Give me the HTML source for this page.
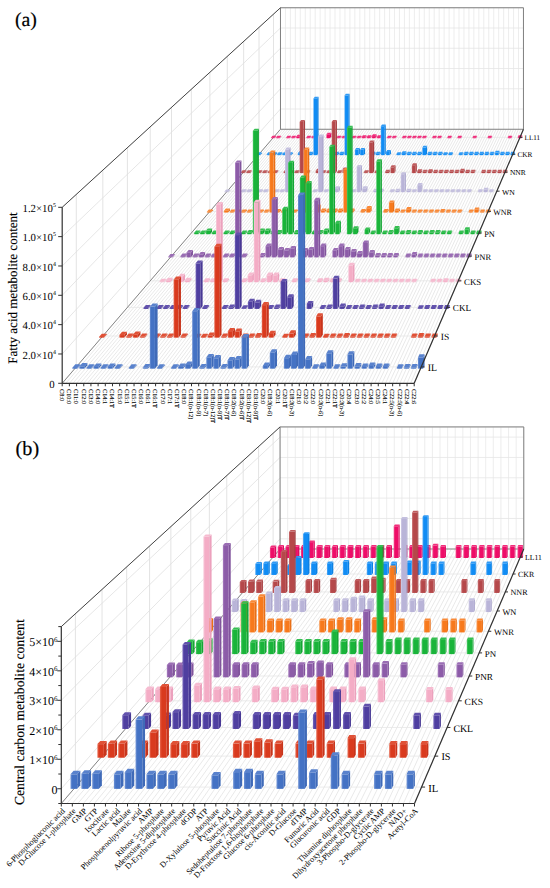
<!DOCTYPE html>
<html><head><meta charset="utf-8"><style>
html,body{margin:0;padding:0;background:#fff;}
svg{display:block;}
text{font-family:"Liberation Serif",serif;fill:#000;text-rendering:geometricPrecision;}
</style></head><body>
<svg width="550" height="888" viewBox="0 0 550 888">
<rect width="550" height="888" fill="#fff"/>
<line x1="280.48" y1="129.25" x2="280.48" y2="7.76" stroke="#e9e9e9" stroke-width="0.80"/>
<line x1="285.44" y1="129.25" x2="285.44" y2="7.76" stroke="#e9e9e9" stroke-width="0.80"/>
<line x1="290.39" y1="129.25" x2="290.39" y2="7.76" stroke="#e9e9e9" stroke-width="0.80"/>
<line x1="295.35" y1="129.25" x2="295.35" y2="7.76" stroke="#e9e9e9" stroke-width="0.80"/>
<line x1="300.31" y1="129.25" x2="300.31" y2="7.76" stroke="#e9e9e9" stroke-width="0.80"/>
<line x1="305.27" y1="129.25" x2="305.27" y2="7.76" stroke="#e9e9e9" stroke-width="0.80"/>
<line x1="310.23" y1="129.25" x2="310.23" y2="7.76" stroke="#e9e9e9" stroke-width="0.80"/>
<line x1="315.19" y1="129.25" x2="315.19" y2="7.76" stroke="#e9e9e9" stroke-width="0.80"/>
<line x1="320.15" y1="129.25" x2="320.15" y2="7.76" stroke="#e9e9e9" stroke-width="0.80"/>
<line x1="325.11" y1="129.25" x2="325.11" y2="7.76" stroke="#e9e9e9" stroke-width="0.80"/>
<line x1="330.07" y1="129.25" x2="330.07" y2="7.76" stroke="#e9e9e9" stroke-width="0.80"/>
<line x1="335.02" y1="129.25" x2="335.02" y2="7.76" stroke="#e9e9e9" stroke-width="0.80"/>
<line x1="339.98" y1="129.25" x2="339.98" y2="7.76" stroke="#e9e9e9" stroke-width="0.80"/>
<line x1="344.94" y1="129.25" x2="344.94" y2="7.76" stroke="#e9e9e9" stroke-width="0.80"/>
<line x1="349.90" y1="129.25" x2="349.90" y2="7.76" stroke="#e9e9e9" stroke-width="0.80"/>
<line x1="354.86" y1="129.25" x2="354.86" y2="7.76" stroke="#e9e9e9" stroke-width="0.80"/>
<line x1="359.82" y1="129.25" x2="359.82" y2="7.76" stroke="#e9e9e9" stroke-width="0.80"/>
<line x1="364.78" y1="129.25" x2="364.78" y2="7.76" stroke="#e9e9e9" stroke-width="0.80"/>
<line x1="369.74" y1="129.25" x2="369.74" y2="7.76" stroke="#e9e9e9" stroke-width="0.80"/>
<line x1="374.70" y1="129.25" x2="374.70" y2="7.76" stroke="#e9e9e9" stroke-width="0.80"/>
<line x1="379.65" y1="129.25" x2="379.65" y2="7.76" stroke="#e9e9e9" stroke-width="0.80"/>
<line x1="384.61" y1="129.25" x2="384.61" y2="7.76" stroke="#e9e9e9" stroke-width="0.80"/>
<line x1="389.57" y1="129.25" x2="389.57" y2="7.76" stroke="#e9e9e9" stroke-width="0.80"/>
<line x1="394.53" y1="129.25" x2="394.53" y2="7.76" stroke="#e9e9e9" stroke-width="0.80"/>
<line x1="399.49" y1="129.25" x2="399.49" y2="7.76" stroke="#e9e9e9" stroke-width="0.80"/>
<line x1="404.45" y1="129.25" x2="404.45" y2="7.76" stroke="#e9e9e9" stroke-width="0.80"/>
<line x1="409.41" y1="129.25" x2="409.41" y2="7.76" stroke="#e9e9e9" stroke-width="0.80"/>
<line x1="414.37" y1="129.25" x2="414.37" y2="7.76" stroke="#e9e9e9" stroke-width="0.80"/>
<line x1="419.33" y1="129.25" x2="419.33" y2="7.76" stroke="#e9e9e9" stroke-width="0.80"/>
<line x1="424.28" y1="129.25" x2="424.28" y2="7.76" stroke="#e9e9e9" stroke-width="0.80"/>
<line x1="429.24" y1="129.25" x2="429.24" y2="7.76" stroke="#e9e9e9" stroke-width="0.80"/>
<line x1="434.20" y1="129.25" x2="434.20" y2="7.76" stroke="#e9e9e9" stroke-width="0.80"/>
<line x1="439.16" y1="129.25" x2="439.16" y2="7.76" stroke="#e9e9e9" stroke-width="0.80"/>
<line x1="444.12" y1="129.25" x2="444.12" y2="7.76" stroke="#e9e9e9" stroke-width="0.80"/>
<line x1="449.08" y1="129.25" x2="449.08" y2="7.76" stroke="#e9e9e9" stroke-width="0.80"/>
<line x1="454.04" y1="129.25" x2="454.04" y2="7.76" stroke="#e9e9e9" stroke-width="0.80"/>
<line x1="459.00" y1="129.25" x2="459.00" y2="7.76" stroke="#e9e9e9" stroke-width="0.80"/>
<line x1="463.96" y1="129.25" x2="463.96" y2="7.76" stroke="#e9e9e9" stroke-width="0.80"/>
<line x1="468.91" y1="129.25" x2="468.91" y2="7.76" stroke="#e9e9e9" stroke-width="0.80"/>
<line x1="473.87" y1="129.25" x2="473.87" y2="7.76" stroke="#e9e9e9" stroke-width="0.80"/>
<line x1="478.83" y1="129.25" x2="478.83" y2="7.76" stroke="#e9e9e9" stroke-width="0.80"/>
<line x1="483.79" y1="129.25" x2="483.79" y2="7.76" stroke="#e9e9e9" stroke-width="0.80"/>
<line x1="488.75" y1="129.25" x2="488.75" y2="7.76" stroke="#e9e9e9" stroke-width="0.80"/>
<line x1="493.71" y1="129.25" x2="493.71" y2="7.76" stroke="#e9e9e9" stroke-width="0.80"/>
<line x1="498.67" y1="129.25" x2="498.67" y2="7.76" stroke="#e9e9e9" stroke-width="0.80"/>
<line x1="503.63" y1="129.25" x2="503.63" y2="7.76" stroke="#e9e9e9" stroke-width="0.80"/>
<line x1="508.59" y1="129.25" x2="508.59" y2="7.76" stroke="#e9e9e9" stroke-width="0.80"/>
<line x1="513.54" y1="129.25" x2="513.54" y2="7.76" stroke="#e9e9e9" stroke-width="0.80"/>
<line x1="518.50" y1="129.25" x2="518.50" y2="7.76" stroke="#e9e9e9" stroke-width="0.80"/>
<line x1="523.46" y1="129.25" x2="523.46" y2="7.76" stroke="#e9e9e9" stroke-width="0.80"/>
<line x1="280.48" y1="109.00" x2="523.46" y2="109.00" stroke="#e6e6e6" stroke-width="0.80"/>
<line x1="280.48" y1="88.76" x2="523.46" y2="88.76" stroke="#e6e6e6" stroke-width="0.80"/>
<line x1="280.48" y1="68.51" x2="523.46" y2="68.51" stroke="#e6e6e6" stroke-width="0.80"/>
<line x1="280.48" y1="48.26" x2="523.46" y2="48.26" stroke="#e6e6e6" stroke-width="0.80"/>
<line x1="280.48" y1="28.01" x2="523.46" y2="28.01" stroke="#e6e6e6" stroke-width="0.80"/>
<line x1="280.48" y1="7.76" x2="523.46" y2="7.76" stroke="#e6e6e6" stroke-width="0.80"/>
<line x1="76.29" y1="366.91" x2="76.29" y2="194.42" stroke="#dcdcdc" stroke-width="0.80"/>
<line x1="102.83" y1="336.01" x2="102.83" y2="170.15" stroke="#dcdcdc" stroke-width="0.80"/>
<line x1="127.42" y1="307.40" x2="127.42" y2="147.68" stroke="#dcdcdc" stroke-width="0.80"/>
<line x1="150.24" y1="280.83" x2="150.24" y2="126.81" stroke="#dcdcdc" stroke-width="0.80"/>
<line x1="171.50" y1="256.09" x2="171.50" y2="107.39" stroke="#dcdcdc" stroke-width="0.80"/>
<line x1="191.33" y1="233.00" x2="191.33" y2="89.25" stroke="#dcdcdc" stroke-width="0.80"/>
<line x1="209.89" y1="211.40" x2="209.89" y2="72.28" stroke="#dcdcdc" stroke-width="0.80"/>
<line x1="227.29" y1="191.15" x2="227.29" y2="56.38" stroke="#dcdcdc" stroke-width="0.80"/>
<line x1="243.64" y1="172.13" x2="243.64" y2="41.44" stroke="#dcdcdc" stroke-width="0.80"/>
<line x1="259.02" y1="154.22" x2="259.02" y2="27.37" stroke="#dcdcdc" stroke-width="0.80"/>
<line x1="273.53" y1="137.34" x2="273.53" y2="14.11" stroke="#dcdcdc" stroke-width="0.80"/>
<line x1="62.20" y1="353.97" x2="280.48" y2="109.00" stroke="#dfdfdf" stroke-width="0.80"/>
<line x1="62.20" y1="324.63" x2="280.48" y2="88.76" stroke="#dfdfdf" stroke-width="0.80"/>
<line x1="62.20" y1="295.30" x2="280.48" y2="68.51" stroke="#dfdfdf" stroke-width="0.80"/>
<line x1="62.20" y1="265.97" x2="280.48" y2="48.26" stroke="#dfdfdf" stroke-width="0.80"/>
<line x1="62.20" y1="236.63" x2="280.48" y2="28.01" stroke="#dfdfdf" stroke-width="0.80"/>
<line x1="62.20" y1="207.30" x2="280.48" y2="7.76" stroke="#dfdfdf" stroke-width="0.80"/>
<line x1="62.20" y1="383.30" x2="280.48" y2="129.25" stroke="#e3e3e3" stroke-width="0.80"/>
<line x1="65.79" y1="383.30" x2="282.96" y2="129.25" stroke="#e3e3e3" stroke-width="0.80"/>
<line x1="69.38" y1="383.30" x2="285.44" y2="129.25" stroke="#e3e3e3" stroke-width="0.80"/>
<line x1="72.98" y1="383.30" x2="287.91" y2="129.25" stroke="#e3e3e3" stroke-width="0.80"/>
<line x1="76.57" y1="383.30" x2="290.39" y2="129.25" stroke="#e3e3e3" stroke-width="0.80"/>
<line x1="80.16" y1="383.30" x2="292.87" y2="129.25" stroke="#e3e3e3" stroke-width="0.80"/>
<line x1="83.75" y1="383.30" x2="295.35" y2="129.25" stroke="#e3e3e3" stroke-width="0.80"/>
<line x1="87.34" y1="383.30" x2="297.83" y2="129.25" stroke="#e3e3e3" stroke-width="0.80"/>
<line x1="90.93" y1="383.30" x2="300.31" y2="129.25" stroke="#e3e3e3" stroke-width="0.80"/>
<line x1="94.53" y1="383.30" x2="302.79" y2="129.25" stroke="#e3e3e3" stroke-width="0.80"/>
<line x1="98.12" y1="383.30" x2="305.27" y2="129.25" stroke="#e3e3e3" stroke-width="0.80"/>
<line x1="101.71" y1="383.30" x2="307.75" y2="129.25" stroke="#e3e3e3" stroke-width="0.80"/>
<line x1="105.30" y1="383.30" x2="310.23" y2="129.25" stroke="#e3e3e3" stroke-width="0.80"/>
<line x1="108.89" y1="383.30" x2="312.71" y2="129.25" stroke="#e3e3e3" stroke-width="0.80"/>
<line x1="112.49" y1="383.30" x2="315.19" y2="129.25" stroke="#e3e3e3" stroke-width="0.80"/>
<line x1="116.08" y1="383.30" x2="317.67" y2="129.25" stroke="#e3e3e3" stroke-width="0.80"/>
<line x1="119.67" y1="383.30" x2="320.15" y2="129.25" stroke="#e3e3e3" stroke-width="0.80"/>
<line x1="123.26" y1="383.30" x2="322.63" y2="129.25" stroke="#e3e3e3" stroke-width="0.80"/>
<line x1="126.85" y1="383.30" x2="325.11" y2="129.25" stroke="#e3e3e3" stroke-width="0.80"/>
<line x1="130.44" y1="383.30" x2="327.59" y2="129.25" stroke="#e3e3e3" stroke-width="0.80"/>
<line x1="134.04" y1="383.30" x2="330.07" y2="129.25" stroke="#e3e3e3" stroke-width="0.80"/>
<line x1="137.63" y1="383.30" x2="332.54" y2="129.25" stroke="#e3e3e3" stroke-width="0.80"/>
<line x1="141.22" y1="383.30" x2="335.02" y2="129.25" stroke="#e3e3e3" stroke-width="0.80"/>
<line x1="144.81" y1="383.30" x2="337.50" y2="129.25" stroke="#e3e3e3" stroke-width="0.80"/>
<line x1="148.40" y1="383.30" x2="339.98" y2="129.25" stroke="#e3e3e3" stroke-width="0.80"/>
<line x1="152.00" y1="383.30" x2="342.46" y2="129.25" stroke="#e3e3e3" stroke-width="0.80"/>
<line x1="155.59" y1="383.30" x2="344.94" y2="129.25" stroke="#e3e3e3" stroke-width="0.80"/>
<line x1="159.18" y1="383.30" x2="347.42" y2="129.25" stroke="#e3e3e3" stroke-width="0.80"/>
<line x1="162.77" y1="383.30" x2="349.90" y2="129.25" stroke="#e3e3e3" stroke-width="0.80"/>
<line x1="166.36" y1="383.30" x2="352.38" y2="129.25" stroke="#e3e3e3" stroke-width="0.80"/>
<line x1="169.96" y1="383.30" x2="354.86" y2="129.25" stroke="#e3e3e3" stroke-width="0.80"/>
<line x1="173.55" y1="383.30" x2="357.34" y2="129.25" stroke="#e3e3e3" stroke-width="0.80"/>
<line x1="177.14" y1="383.30" x2="359.82" y2="129.25" stroke="#e3e3e3" stroke-width="0.80"/>
<line x1="180.73" y1="383.30" x2="362.30" y2="129.25" stroke="#e3e3e3" stroke-width="0.80"/>
<line x1="184.32" y1="383.30" x2="364.78" y2="129.25" stroke="#e3e3e3" stroke-width="0.80"/>
<line x1="187.91" y1="383.30" x2="367.26" y2="129.25" stroke="#e3e3e3" stroke-width="0.80"/>
<line x1="191.51" y1="383.30" x2="369.74" y2="129.25" stroke="#e3e3e3" stroke-width="0.80"/>
<line x1="195.10" y1="383.30" x2="372.22" y2="129.25" stroke="#e3e3e3" stroke-width="0.80"/>
<line x1="198.69" y1="383.30" x2="374.70" y2="129.25" stroke="#e3e3e3" stroke-width="0.80"/>
<line x1="202.28" y1="383.30" x2="377.17" y2="129.25" stroke="#e3e3e3" stroke-width="0.80"/>
<line x1="205.87" y1="383.30" x2="379.65" y2="129.25" stroke="#e3e3e3" stroke-width="0.80"/>
<line x1="209.47" y1="383.30" x2="382.13" y2="129.25" stroke="#e3e3e3" stroke-width="0.80"/>
<line x1="213.06" y1="383.30" x2="384.61" y2="129.25" stroke="#e3e3e3" stroke-width="0.80"/>
<line x1="216.65" y1="383.30" x2="387.09" y2="129.25" stroke="#e3e3e3" stroke-width="0.80"/>
<line x1="220.24" y1="383.30" x2="389.57" y2="129.25" stroke="#e3e3e3" stroke-width="0.80"/>
<line x1="223.83" y1="383.30" x2="392.05" y2="129.25" stroke="#e3e3e3" stroke-width="0.80"/>
<line x1="227.42" y1="383.30" x2="394.53" y2="129.25" stroke="#e3e3e3" stroke-width="0.80"/>
<line x1="231.02" y1="383.30" x2="397.01" y2="129.25" stroke="#e3e3e3" stroke-width="0.80"/>
<line x1="234.61" y1="383.30" x2="399.49" y2="129.25" stroke="#e3e3e3" stroke-width="0.80"/>
<line x1="238.20" y1="383.30" x2="401.97" y2="129.25" stroke="#e3e3e3" stroke-width="0.80"/>
<line x1="241.79" y1="383.30" x2="404.45" y2="129.25" stroke="#e3e3e3" stroke-width="0.80"/>
<line x1="245.38" y1="383.30" x2="406.93" y2="129.25" stroke="#e3e3e3" stroke-width="0.80"/>
<line x1="248.98" y1="383.30" x2="409.41" y2="129.25" stroke="#e3e3e3" stroke-width="0.80"/>
<line x1="252.57" y1="383.30" x2="411.89" y2="129.25" stroke="#e3e3e3" stroke-width="0.80"/>
<line x1="256.16" y1="383.30" x2="414.37" y2="129.25" stroke="#e3e3e3" stroke-width="0.80"/>
<line x1="259.75" y1="383.30" x2="416.85" y2="129.25" stroke="#e3e3e3" stroke-width="0.80"/>
<line x1="263.34" y1="383.30" x2="419.33" y2="129.25" stroke="#e3e3e3" stroke-width="0.80"/>
<line x1="266.93" y1="383.30" x2="421.80" y2="129.25" stroke="#e3e3e3" stroke-width="0.80"/>
<line x1="270.53" y1="383.30" x2="424.28" y2="129.25" stroke="#e3e3e3" stroke-width="0.80"/>
<line x1="274.12" y1="383.30" x2="426.76" y2="129.25" stroke="#e3e3e3" stroke-width="0.80"/>
<line x1="277.71" y1="383.30" x2="429.24" y2="129.25" stroke="#e3e3e3" stroke-width="0.80"/>
<line x1="281.30" y1="383.30" x2="431.72" y2="129.25" stroke="#e3e3e3" stroke-width="0.80"/>
<line x1="284.89" y1="383.30" x2="434.20" y2="129.25" stroke="#e3e3e3" stroke-width="0.80"/>
<line x1="288.49" y1="383.30" x2="436.68" y2="129.25" stroke="#e3e3e3" stroke-width="0.80"/>
<line x1="292.08" y1="383.30" x2="439.16" y2="129.25" stroke="#e3e3e3" stroke-width="0.80"/>
<line x1="295.67" y1="383.30" x2="441.64" y2="129.25" stroke="#e3e3e3" stroke-width="0.80"/>
<line x1="299.26" y1="383.30" x2="444.12" y2="129.25" stroke="#e3e3e3" stroke-width="0.80"/>
<line x1="302.85" y1="383.30" x2="446.60" y2="129.25" stroke="#e3e3e3" stroke-width="0.80"/>
<line x1="306.44" y1="383.30" x2="449.08" y2="129.25" stroke="#e3e3e3" stroke-width="0.80"/>
<line x1="310.04" y1="383.30" x2="451.56" y2="129.25" stroke="#e3e3e3" stroke-width="0.80"/>
<line x1="313.63" y1="383.30" x2="454.04" y2="129.25" stroke="#e3e3e3" stroke-width="0.80"/>
<line x1="317.22" y1="383.30" x2="456.52" y2="129.25" stroke="#e3e3e3" stroke-width="0.80"/>
<line x1="320.81" y1="383.30" x2="459.00" y2="129.25" stroke="#e3e3e3" stroke-width="0.80"/>
<line x1="324.40" y1="383.30" x2="461.48" y2="129.25" stroke="#e3e3e3" stroke-width="0.80"/>
<line x1="328.00" y1="383.30" x2="463.96" y2="129.25" stroke="#e3e3e3" stroke-width="0.80"/>
<line x1="331.59" y1="383.30" x2="466.43" y2="129.25" stroke="#e3e3e3" stroke-width="0.80"/>
<line x1="335.18" y1="383.30" x2="468.91" y2="129.25" stroke="#e3e3e3" stroke-width="0.80"/>
<line x1="338.77" y1="383.30" x2="471.39" y2="129.25" stroke="#e3e3e3" stroke-width="0.80"/>
<line x1="342.36" y1="383.30" x2="473.87" y2="129.25" stroke="#e3e3e3" stroke-width="0.80"/>
<line x1="345.96" y1="383.30" x2="476.35" y2="129.25" stroke="#e3e3e3" stroke-width="0.80"/>
<line x1="349.55" y1="383.30" x2="478.83" y2="129.25" stroke="#e3e3e3" stroke-width="0.80"/>
<line x1="353.14" y1="383.30" x2="481.31" y2="129.25" stroke="#e3e3e3" stroke-width="0.80"/>
<line x1="356.73" y1="383.30" x2="483.79" y2="129.25" stroke="#e3e3e3" stroke-width="0.80"/>
<line x1="360.32" y1="383.30" x2="486.27" y2="129.25" stroke="#e3e3e3" stroke-width="0.80"/>
<line x1="363.91" y1="383.30" x2="488.75" y2="129.25" stroke="#e3e3e3" stroke-width="0.80"/>
<line x1="367.51" y1="383.30" x2="491.23" y2="129.25" stroke="#e3e3e3" stroke-width="0.80"/>
<line x1="371.10" y1="383.30" x2="493.71" y2="129.25" stroke="#e3e3e3" stroke-width="0.80"/>
<line x1="374.69" y1="383.30" x2="496.19" y2="129.25" stroke="#e3e3e3" stroke-width="0.80"/>
<line x1="378.28" y1="383.30" x2="498.67" y2="129.25" stroke="#e3e3e3" stroke-width="0.80"/>
<line x1="381.87" y1="383.30" x2="501.15" y2="129.25" stroke="#e3e3e3" stroke-width="0.80"/>
<line x1="385.47" y1="383.30" x2="503.63" y2="129.25" stroke="#e3e3e3" stroke-width="0.80"/>
<line x1="389.06" y1="383.30" x2="506.11" y2="129.25" stroke="#e3e3e3" stroke-width="0.80"/>
<line x1="392.65" y1="383.30" x2="508.59" y2="129.25" stroke="#e3e3e3" stroke-width="0.80"/>
<line x1="396.24" y1="383.30" x2="511.06" y2="129.25" stroke="#e3e3e3" stroke-width="0.80"/>
<line x1="399.83" y1="383.30" x2="513.54" y2="129.25" stroke="#e3e3e3" stroke-width="0.80"/>
<line x1="403.42" y1="383.30" x2="516.02" y2="129.25" stroke="#e3e3e3" stroke-width="0.80"/>
<line x1="407.02" y1="383.30" x2="518.50" y2="129.25" stroke="#e3e3e3" stroke-width="0.80"/>
<line x1="410.61" y1="383.30" x2="520.98" y2="129.25" stroke="#e3e3e3" stroke-width="0.80"/>
<line x1="414.20" y1="383.30" x2="523.46" y2="129.25" stroke="#e3e3e3" stroke-width="0.80"/>
<line x1="76.29" y1="366.91" x2="421.25" y2="366.91" stroke="#e6e6e6" stroke-width="0.80"/>
<line x1="102.83" y1="336.01" x2="434.54" y2="336.01" stroke="#e6e6e6" stroke-width="0.80"/>
<line x1="127.42" y1="307.40" x2="446.84" y2="307.40" stroke="#e6e6e6" stroke-width="0.80"/>
<line x1="150.24" y1="280.83" x2="458.27" y2="280.83" stroke="#e6e6e6" stroke-width="0.80"/>
<line x1="171.50" y1="256.09" x2="468.91" y2="256.09" stroke="#e6e6e6" stroke-width="0.80"/>
<line x1="191.33" y1="233.00" x2="478.84" y2="233.00" stroke="#e6e6e6" stroke-width="0.80"/>
<line x1="209.89" y1="211.40" x2="488.13" y2="211.40" stroke="#e6e6e6" stroke-width="0.80"/>
<line x1="227.29" y1="191.15" x2="496.84" y2="191.15" stroke="#e6e6e6" stroke-width="0.80"/>
<line x1="243.64" y1="172.13" x2="505.02" y2="172.13" stroke="#e6e6e6" stroke-width="0.80"/>
<line x1="259.02" y1="154.22" x2="512.72" y2="154.22" stroke="#e6e6e6" stroke-width="0.80"/>
<line x1="273.53" y1="137.34" x2="519.98" y2="137.34" stroke="#e6e6e6" stroke-width="0.80"/>
<line x1="280.48" y1="7.76" x2="523.46" y2="7.76" stroke="#808080" stroke-width="1.00"/>
<line x1="523.46" y1="7.76" x2="523.46" y2="129.25" stroke="#808080" stroke-width="1.00"/>
<line x1="280.48" y1="129.25" x2="523.46" y2="129.25" stroke="#808080" stroke-width="1.00"/>
<line x1="280.48" y1="129.25" x2="280.48" y2="7.76" stroke="#808080" stroke-width="1.00"/>
<line x1="62.20" y1="207.30" x2="280.48" y2="7.76" stroke="#454545" stroke-width="1.00"/>
<line x1="62.20" y1="383.30" x2="280.48" y2="129.25" stroke="#7a7a7a" stroke-width="0.90"/>
<line x1="280.07" y1="548.99" x2="280.07" y2="426.93" stroke="#e9e9e9" stroke-width="0.80"/>
<line x1="287.68" y1="548.99" x2="287.68" y2="426.93" stroke="#e9e9e9" stroke-width="0.80"/>
<line x1="295.30" y1="548.99" x2="295.30" y2="426.93" stroke="#e9e9e9" stroke-width="0.80"/>
<line x1="302.91" y1="548.99" x2="302.91" y2="426.93" stroke="#e9e9e9" stroke-width="0.80"/>
<line x1="310.53" y1="548.99" x2="310.53" y2="426.93" stroke="#e9e9e9" stroke-width="0.80"/>
<line x1="318.15" y1="548.99" x2="318.15" y2="426.93" stroke="#e9e9e9" stroke-width="0.80"/>
<line x1="325.76" y1="548.99" x2="325.76" y2="426.93" stroke="#e9e9e9" stroke-width="0.80"/>
<line x1="333.38" y1="548.99" x2="333.38" y2="426.93" stroke="#e9e9e9" stroke-width="0.80"/>
<line x1="340.99" y1="548.99" x2="340.99" y2="426.93" stroke="#e9e9e9" stroke-width="0.80"/>
<line x1="348.61" y1="548.99" x2="348.61" y2="426.93" stroke="#e9e9e9" stroke-width="0.80"/>
<line x1="356.23" y1="548.99" x2="356.23" y2="426.93" stroke="#e9e9e9" stroke-width="0.80"/>
<line x1="363.84" y1="548.99" x2="363.84" y2="426.93" stroke="#e9e9e9" stroke-width="0.80"/>
<line x1="371.46" y1="548.99" x2="371.46" y2="426.93" stroke="#e9e9e9" stroke-width="0.80"/>
<line x1="379.07" y1="548.99" x2="379.07" y2="426.93" stroke="#e9e9e9" stroke-width="0.80"/>
<line x1="386.69" y1="548.99" x2="386.69" y2="426.93" stroke="#e9e9e9" stroke-width="0.80"/>
<line x1="394.31" y1="548.99" x2="394.31" y2="426.93" stroke="#e9e9e9" stroke-width="0.80"/>
<line x1="401.92" y1="548.99" x2="401.92" y2="426.93" stroke="#e9e9e9" stroke-width="0.80"/>
<line x1="409.54" y1="548.99" x2="409.54" y2="426.93" stroke="#e9e9e9" stroke-width="0.80"/>
<line x1="417.15" y1="548.99" x2="417.15" y2="426.93" stroke="#e9e9e9" stroke-width="0.80"/>
<line x1="424.77" y1="548.99" x2="424.77" y2="426.93" stroke="#e9e9e9" stroke-width="0.80"/>
<line x1="432.38" y1="548.99" x2="432.38" y2="426.93" stroke="#e9e9e9" stroke-width="0.80"/>
<line x1="440.00" y1="548.99" x2="440.00" y2="426.93" stroke="#e9e9e9" stroke-width="0.80"/>
<line x1="447.62" y1="548.99" x2="447.62" y2="426.93" stroke="#e9e9e9" stroke-width="0.80"/>
<line x1="455.23" y1="548.99" x2="455.23" y2="426.93" stroke="#e9e9e9" stroke-width="0.80"/>
<line x1="462.85" y1="548.99" x2="462.85" y2="426.93" stroke="#e9e9e9" stroke-width="0.80"/>
<line x1="470.46" y1="548.99" x2="470.46" y2="426.93" stroke="#e9e9e9" stroke-width="0.80"/>
<line x1="478.08" y1="548.99" x2="478.08" y2="426.93" stroke="#e9e9e9" stroke-width="0.80"/>
<line x1="485.70" y1="548.99" x2="485.70" y2="426.93" stroke="#e9e9e9" stroke-width="0.80"/>
<line x1="493.31" y1="548.99" x2="493.31" y2="426.93" stroke="#e9e9e9" stroke-width="0.80"/>
<line x1="500.93" y1="548.99" x2="500.93" y2="426.93" stroke="#e9e9e9" stroke-width="0.80"/>
<line x1="508.54" y1="548.99" x2="508.54" y2="426.93" stroke="#e9e9e9" stroke-width="0.80"/>
<line x1="516.16" y1="548.99" x2="516.16" y2="426.93" stroke="#e9e9e9" stroke-width="0.80"/>
<line x1="523.77" y1="548.99" x2="523.77" y2="426.93" stroke="#e9e9e9" stroke-width="0.80"/>
<line x1="280.07" y1="538.82" x2="523.77" y2="538.82" stroke="#e6e6e6" stroke-width="0.80"/>
<line x1="280.07" y1="518.47" x2="523.77" y2="518.47" stroke="#e6e6e6" stroke-width="0.80"/>
<line x1="280.07" y1="498.13" x2="523.77" y2="498.13" stroke="#e6e6e6" stroke-width="0.80"/>
<line x1="280.07" y1="477.79" x2="523.77" y2="477.79" stroke="#e6e6e6" stroke-width="0.80"/>
<line x1="280.07" y1="457.44" x2="523.77" y2="457.44" stroke="#e6e6e6" stroke-width="0.80"/>
<line x1="280.07" y1="437.10" x2="523.77" y2="437.10" stroke="#e6e6e6" stroke-width="0.80"/>
<line x1="280.07" y1="426.93" x2="523.77" y2="426.93" stroke="#e6e6e6" stroke-width="0.80"/>
<line x1="75.42" y1="787.07" x2="75.42" y2="613.71" stroke="#dcdcdc" stroke-width="0.80"/>
<line x1="102.04" y1="756.11" x2="102.04" y2="589.42" stroke="#dcdcdc" stroke-width="0.80"/>
<line x1="126.68" y1="727.44" x2="126.68" y2="566.93" stroke="#dcdcdc" stroke-width="0.80"/>
<line x1="149.56" y1="700.82" x2="149.56" y2="546.04" stroke="#dcdcdc" stroke-width="0.80"/>
<line x1="170.87" y1="676.03" x2="170.87" y2="526.60" stroke="#dcdcdc" stroke-width="0.80"/>
<line x1="190.75" y1="652.90" x2="190.75" y2="508.45" stroke="#dcdcdc" stroke-width="0.80"/>
<line x1="209.35" y1="631.27" x2="209.35" y2="491.48" stroke="#dcdcdc" stroke-width="0.80"/>
<line x1="226.78" y1="610.98" x2="226.78" y2="475.56" stroke="#dcdcdc" stroke-width="0.80"/>
<line x1="243.16" y1="591.93" x2="243.16" y2="460.61" stroke="#dcdcdc" stroke-width="0.80"/>
<line x1="258.57" y1="573.99" x2="258.57" y2="446.55" stroke="#dcdcdc" stroke-width="0.80"/>
<line x1="273.11" y1="557.09" x2="273.11" y2="433.28" stroke="#dcdcdc" stroke-width="0.80"/>
<line x1="61.30" y1="788.76" x2="280.07" y2="538.82" stroke="#dfdfdf" stroke-width="0.80"/>
<line x1="61.30" y1="759.27" x2="280.07" y2="518.47" stroke="#dfdfdf" stroke-width="0.80"/>
<line x1="61.30" y1="729.79" x2="280.07" y2="498.13" stroke="#dfdfdf" stroke-width="0.80"/>
<line x1="61.30" y1="700.31" x2="280.07" y2="477.79" stroke="#dfdfdf" stroke-width="0.80"/>
<line x1="61.30" y1="670.83" x2="280.07" y2="457.44" stroke="#dfdfdf" stroke-width="0.80"/>
<line x1="61.30" y1="641.34" x2="280.07" y2="437.10" stroke="#dfdfdf" stroke-width="0.80"/>
<line x1="61.30" y1="626.60" x2="280.07" y2="426.93" stroke="#dfdfdf" stroke-width="0.80"/>
<line x1="61.30" y1="803.50" x2="280.07" y2="548.99" stroke="#e3e3e3" stroke-width="0.80"/>
<line x1="66.82" y1="803.50" x2="283.87" y2="548.99" stroke="#e3e3e3" stroke-width="0.80"/>
<line x1="72.34" y1="803.50" x2="287.68" y2="548.99" stroke="#e3e3e3" stroke-width="0.80"/>
<line x1="77.86" y1="803.50" x2="291.49" y2="548.99" stroke="#e3e3e3" stroke-width="0.80"/>
<line x1="83.38" y1="803.50" x2="295.30" y2="548.99" stroke="#e3e3e3" stroke-width="0.80"/>
<line x1="88.89" y1="803.50" x2="299.11" y2="548.99" stroke="#e3e3e3" stroke-width="0.80"/>
<line x1="94.41" y1="803.50" x2="302.91" y2="548.99" stroke="#e3e3e3" stroke-width="0.80"/>
<line x1="99.93" y1="803.50" x2="306.72" y2="548.99" stroke="#e3e3e3" stroke-width="0.80"/>
<line x1="105.45" y1="803.50" x2="310.53" y2="548.99" stroke="#e3e3e3" stroke-width="0.80"/>
<line x1="110.97" y1="803.50" x2="314.34" y2="548.99" stroke="#e3e3e3" stroke-width="0.80"/>
<line x1="116.49" y1="803.50" x2="318.15" y2="548.99" stroke="#e3e3e3" stroke-width="0.80"/>
<line x1="122.01" y1="803.50" x2="321.95" y2="548.99" stroke="#e3e3e3" stroke-width="0.80"/>
<line x1="127.52" y1="803.50" x2="325.76" y2="548.99" stroke="#e3e3e3" stroke-width="0.80"/>
<line x1="133.04" y1="803.50" x2="329.57" y2="548.99" stroke="#e3e3e3" stroke-width="0.80"/>
<line x1="138.56" y1="803.50" x2="333.38" y2="548.99" stroke="#e3e3e3" stroke-width="0.80"/>
<line x1="144.08" y1="803.50" x2="337.19" y2="548.99" stroke="#e3e3e3" stroke-width="0.80"/>
<line x1="149.60" y1="803.50" x2="340.99" y2="548.99" stroke="#e3e3e3" stroke-width="0.80"/>
<line x1="155.12" y1="803.50" x2="344.80" y2="548.99" stroke="#e3e3e3" stroke-width="0.80"/>
<line x1="160.64" y1="803.50" x2="348.61" y2="548.99" stroke="#e3e3e3" stroke-width="0.80"/>
<line x1="166.16" y1="803.50" x2="352.42" y2="548.99" stroke="#e3e3e3" stroke-width="0.80"/>
<line x1="171.67" y1="803.50" x2="356.23" y2="548.99" stroke="#e3e3e3" stroke-width="0.80"/>
<line x1="177.19" y1="803.50" x2="360.03" y2="548.99" stroke="#e3e3e3" stroke-width="0.80"/>
<line x1="182.71" y1="803.50" x2="363.84" y2="548.99" stroke="#e3e3e3" stroke-width="0.80"/>
<line x1="188.23" y1="803.50" x2="367.65" y2="548.99" stroke="#e3e3e3" stroke-width="0.80"/>
<line x1="193.75" y1="803.50" x2="371.46" y2="548.99" stroke="#e3e3e3" stroke-width="0.80"/>
<line x1="199.27" y1="803.50" x2="375.27" y2="548.99" stroke="#e3e3e3" stroke-width="0.80"/>
<line x1="204.79" y1="803.50" x2="379.07" y2="548.99" stroke="#e3e3e3" stroke-width="0.80"/>
<line x1="210.31" y1="803.50" x2="382.88" y2="548.99" stroke="#e3e3e3" stroke-width="0.80"/>
<line x1="215.83" y1="803.50" x2="386.69" y2="548.99" stroke="#e3e3e3" stroke-width="0.80"/>
<line x1="221.34" y1="803.50" x2="390.50" y2="548.99" stroke="#e3e3e3" stroke-width="0.80"/>
<line x1="226.86" y1="803.50" x2="394.31" y2="548.99" stroke="#e3e3e3" stroke-width="0.80"/>
<line x1="232.38" y1="803.50" x2="398.11" y2="548.99" stroke="#e3e3e3" stroke-width="0.80"/>
<line x1="237.90" y1="803.50" x2="401.92" y2="548.99" stroke="#e3e3e3" stroke-width="0.80"/>
<line x1="243.42" y1="803.50" x2="405.73" y2="548.99" stroke="#e3e3e3" stroke-width="0.80"/>
<line x1="248.94" y1="803.50" x2="409.54" y2="548.99" stroke="#e3e3e3" stroke-width="0.80"/>
<line x1="254.46" y1="803.50" x2="413.34" y2="548.99" stroke="#e3e3e3" stroke-width="0.80"/>
<line x1="259.97" y1="803.50" x2="417.15" y2="548.99" stroke="#e3e3e3" stroke-width="0.80"/>
<line x1="265.49" y1="803.50" x2="420.96" y2="548.99" stroke="#e3e3e3" stroke-width="0.80"/>
<line x1="271.01" y1="803.50" x2="424.77" y2="548.99" stroke="#e3e3e3" stroke-width="0.80"/>
<line x1="276.53" y1="803.50" x2="428.58" y2="548.99" stroke="#e3e3e3" stroke-width="0.80"/>
<line x1="282.05" y1="803.50" x2="432.38" y2="548.99" stroke="#e3e3e3" stroke-width="0.80"/>
<line x1="287.57" y1="803.50" x2="436.19" y2="548.99" stroke="#e3e3e3" stroke-width="0.80"/>
<line x1="293.09" y1="803.50" x2="440.00" y2="548.99" stroke="#e3e3e3" stroke-width="0.80"/>
<line x1="298.61" y1="803.50" x2="443.81" y2="548.99" stroke="#e3e3e3" stroke-width="0.80"/>
<line x1="304.12" y1="803.50" x2="447.62" y2="548.99" stroke="#e3e3e3" stroke-width="0.80"/>
<line x1="309.64" y1="803.50" x2="451.42" y2="548.99" stroke="#e3e3e3" stroke-width="0.80"/>
<line x1="315.16" y1="803.50" x2="455.23" y2="548.99" stroke="#e3e3e3" stroke-width="0.80"/>
<line x1="320.68" y1="803.50" x2="459.04" y2="548.99" stroke="#e3e3e3" stroke-width="0.80"/>
<line x1="326.20" y1="803.50" x2="462.85" y2="548.99" stroke="#e3e3e3" stroke-width="0.80"/>
<line x1="331.72" y1="803.50" x2="466.66" y2="548.99" stroke="#e3e3e3" stroke-width="0.80"/>
<line x1="337.24" y1="803.50" x2="470.46" y2="548.99" stroke="#e3e3e3" stroke-width="0.80"/>
<line x1="342.76" y1="803.50" x2="474.27" y2="548.99" stroke="#e3e3e3" stroke-width="0.80"/>
<line x1="348.27" y1="803.50" x2="478.08" y2="548.99" stroke="#e3e3e3" stroke-width="0.80"/>
<line x1="353.79" y1="803.50" x2="481.89" y2="548.99" stroke="#e3e3e3" stroke-width="0.80"/>
<line x1="359.31" y1="803.50" x2="485.70" y2="548.99" stroke="#e3e3e3" stroke-width="0.80"/>
<line x1="364.83" y1="803.50" x2="489.50" y2="548.99" stroke="#e3e3e3" stroke-width="0.80"/>
<line x1="370.35" y1="803.50" x2="493.31" y2="548.99" stroke="#e3e3e3" stroke-width="0.80"/>
<line x1="375.87" y1="803.50" x2="497.12" y2="548.99" stroke="#e3e3e3" stroke-width="0.80"/>
<line x1="381.39" y1="803.50" x2="500.93" y2="548.99" stroke="#e3e3e3" stroke-width="0.80"/>
<line x1="386.91" y1="803.50" x2="504.74" y2="548.99" stroke="#e3e3e3" stroke-width="0.80"/>
<line x1="392.43" y1="803.50" x2="508.54" y2="548.99" stroke="#e3e3e3" stroke-width="0.80"/>
<line x1="397.94" y1="803.50" x2="512.35" y2="548.99" stroke="#e3e3e3" stroke-width="0.80"/>
<line x1="403.46" y1="803.50" x2="516.16" y2="548.99" stroke="#e3e3e3" stroke-width="0.80"/>
<line x1="408.98" y1="803.50" x2="519.97" y2="548.99" stroke="#e3e3e3" stroke-width="0.80"/>
<line x1="414.50" y1="803.50" x2="523.77" y2="548.99" stroke="#e3e3e3" stroke-width="0.80"/>
<line x1="75.42" y1="787.07" x2="421.55" y2="787.07" stroke="#e6e6e6" stroke-width="0.80"/>
<line x1="102.04" y1="756.11" x2="434.85" y2="756.11" stroke="#e6e6e6" stroke-width="0.80"/>
<line x1="126.68" y1="727.44" x2="447.16" y2="727.44" stroke="#e6e6e6" stroke-width="0.80"/>
<line x1="149.56" y1="700.82" x2="458.59" y2="700.82" stroke="#e6e6e6" stroke-width="0.80"/>
<line x1="170.87" y1="676.03" x2="469.23" y2="676.03" stroke="#e6e6e6" stroke-width="0.80"/>
<line x1="190.75" y1="652.90" x2="479.16" y2="652.90" stroke="#e6e6e6" stroke-width="0.80"/>
<line x1="209.35" y1="631.27" x2="488.45" y2="631.27" stroke="#e6e6e6" stroke-width="0.80"/>
<line x1="226.78" y1="610.98" x2="497.16" y2="610.98" stroke="#e6e6e6" stroke-width="0.80"/>
<line x1="243.16" y1="591.93" x2="505.34" y2="591.93" stroke="#e6e6e6" stroke-width="0.80"/>
<line x1="258.57" y1="573.99" x2="513.04" y2="573.99" stroke="#e6e6e6" stroke-width="0.80"/>
<line x1="273.11" y1="557.09" x2="520.30" y2="557.09" stroke="#e6e6e6" stroke-width="0.80"/>
<line x1="280.07" y1="426.93" x2="523.77" y2="426.93" stroke="#808080" stroke-width="1.00"/>
<line x1="523.77" y1="426.93" x2="523.77" y2="548.99" stroke="#808080" stroke-width="1.00"/>
<line x1="280.07" y1="548.99" x2="523.77" y2="548.99" stroke="#808080" stroke-width="1.00"/>
<line x1="280.07" y1="548.99" x2="280.07" y2="426.93" stroke="#808080" stroke-width="1.00"/>
<line x1="61.30" y1="626.60" x2="280.07" y2="426.93" stroke="#454545" stroke-width="1.00"/>
<line x1="61.30" y1="803.50" x2="280.07" y2="548.99" stroke="#7a7a7a" stroke-width="0.90"/>
<defs>
<linearGradient id="g0" x1="0" y1="0" x2="1" y2="0"><stop offset="0" stop-color="#6f93d6"/><stop offset="0.3" stop-color="#4472c4"/><stop offset="1" stop-color="#4472c4"/></linearGradient>
<linearGradient id="g1" x1="0" y1="0" x2="1" y2="0"><stop offset="0" stop-color="#e8684f"/><stop offset="0.3" stop-color="#d93a1e"/><stop offset="1" stop-color="#d93a1e"/></linearGradient>
<linearGradient id="g2" x1="0" y1="0" x2="1" y2="0"><stop offset="0" stop-color="#7566bb"/><stop offset="0.3" stop-color="#4f3fa0"/><stop offset="1" stop-color="#4f3fa0"/></linearGradient>
<linearGradient id="g3" x1="0" y1="0" x2="1" y2="0"><stop offset="0" stop-color="#f8c9da"/><stop offset="0.3" stop-color="#f4adc6"/><stop offset="1" stop-color="#f4adc6"/></linearGradient>
<linearGradient id="g4" x1="0" y1="0" x2="1" y2="0"><stop offset="0" stop-color="#a97fc0"/><stop offset="0.3" stop-color="#8c5ca8"/><stop offset="1" stop-color="#8c5ca8"/></linearGradient>
<linearGradient id="g5" x1="0" y1="0" x2="1" y2="0"><stop offset="0" stop-color="#4fcb68"/><stop offset="0.3" stop-color="#19b43a"/><stop offset="1" stop-color="#19b43a"/></linearGradient>
<linearGradient id="g6" x1="0" y1="0" x2="1" y2="0"><stop offset="0" stop-color="#fb9a52"/><stop offset="0.3" stop-color="#f7791c"/><stop offset="1" stop-color="#f7791c"/></linearGradient>
<linearGradient id="g7" x1="0" y1="0" x2="1" y2="0"><stop offset="0" stop-color="#d0cce6"/><stop offset="0.3" stop-color="#b9b4d8"/><stop offset="1" stop-color="#b9b4d8"/></linearGradient>
<linearGradient id="g8" x1="0" y1="0" x2="1" y2="0"><stop offset="0" stop-color="#c96e70"/><stop offset="0.3" stop-color="#b5484a"/><stop offset="1" stop-color="#b5484a"/></linearGradient>
<linearGradient id="g9" x1="0" y1="0" x2="1" y2="0"><stop offset="0" stop-color="#4fa8f6"/><stop offset="0.3" stop-color="#108cf4"/><stop offset="1" stop-color="#108cf4"/></linearGradient>
<linearGradient id="g10" x1="0" y1="0" x2="1" y2="0"><stop offset="0" stop-color="#f4508f"/><stop offset="0.3" stop-color="#ee0d68"/><stop offset="1" stop-color="#ee0d68"/></linearGradient>
</defs>
<polygon points="274.57,138.24 274.57,137.64 276.11,135.84 276.11,136.44" fill="#dd0b60"/>
<polygon points="270.94,137.64 274.57,137.64 276.11,135.84 272.50,135.84" fill="#f12e7b"/>
<rect x="270.94" y="137.64" width="3.63" height="0.60" fill="url(#g10)"/>
<polygon points="279.60,138.24 279.60,137.64 281.13,135.84 281.13,136.44" fill="#dd0b60"/>
<polygon points="275.98,137.64 279.60,137.64 281.13,135.84 277.52,135.84" fill="#f12e7b"/>
<rect x="275.98" y="137.64" width="3.63" height="0.60" fill="url(#g10)"/>
<polygon points="289.68,138.24 289.68,137.64 291.18,135.84 291.18,136.44" fill="#dd0b60"/>
<polygon points="286.05,137.64 289.68,137.64 291.18,135.84 287.56,135.84" fill="#f12e7b"/>
<rect x="286.05" y="137.64" width="3.63" height="0.60" fill="url(#g10)"/>
<polygon points="294.72,138.24 294.72,137.64 296.20,135.84 296.20,136.44" fill="#dd0b60"/>
<polygon points="291.09,137.64 294.72,137.64 296.20,135.84 292.58,135.84" fill="#f12e7b"/>
<rect x="291.09" y="137.64" width="3.63" height="0.60" fill="url(#g10)"/>
<polygon points="299.76,138.24 299.76,136.64 301.22,134.84 301.22,136.44" fill="#dd0b60"/>
<polygon points="296.13,136.64 299.76,136.64 301.22,134.84 297.60,134.84" fill="#f12e7b"/>
<rect x="296.13" y="136.64" width="3.63" height="1.60" fill="url(#g10)"/>
<polygon points="309.83,138.24 309.83,137.64 311.26,135.84 311.26,136.44" fill="#dd0b60"/>
<polygon points="306.20,137.64 309.83,137.64 311.26,135.84 307.65,135.84" fill="#f12e7b"/>
<rect x="306.20" y="137.64" width="3.63" height="0.60" fill="url(#g10)"/>
<polygon points="314.87,138.24 314.87,137.64 316.29,135.84 316.29,136.44" fill="#dd0b60"/>
<polygon points="311.24,137.64 314.87,137.64 316.29,135.84 312.67,135.84" fill="#f12e7b"/>
<rect x="311.24" y="137.64" width="3.63" height="0.60" fill="url(#g10)"/>
<polygon points="329.98,138.24 329.98,134.43 331.35,132.64 331.35,136.44" fill="#dd0b60"/>
<polygon points="326.35,134.43 329.98,134.43 331.35,132.64 327.74,132.64" fill="#f12e7b"/>
<rect x="326.35" y="134.43" width="3.63" height="3.81" fill="url(#g10)"/>
<polygon points="340.06,138.24 340.06,137.64 341.40,135.84 341.40,136.44" fill="#dd0b60"/>
<polygon points="336.43,137.64 340.06,137.64 341.40,135.84 337.78,135.84" fill="#f12e7b"/>
<rect x="336.43" y="137.64" width="3.63" height="0.60" fill="url(#g10)"/>
<polygon points="345.09,138.24 345.09,137.64 346.42,135.84 346.42,136.44" fill="#dd0b60"/>
<polygon points="341.47,137.64 345.09,137.64 346.42,135.84 342.80,135.84" fill="#f12e7b"/>
<rect x="341.47" y="137.64" width="3.63" height="0.60" fill="url(#g10)"/>
<polygon points="355.17,138.24 355.17,137.64 356.46,135.84 356.46,136.44" fill="#dd0b60"/>
<polygon points="351.54,137.64 355.17,137.64 356.46,135.84 352.84,135.84" fill="#f12e7b"/>
<rect x="351.54" y="137.64" width="3.63" height="0.60" fill="url(#g10)"/>
<polygon points="360.21,138.24 360.21,137.64 361.48,135.84 361.48,136.44" fill="#dd0b60"/>
<polygon points="356.58,137.64 360.21,137.64 361.48,135.84 357.87,135.84" fill="#f12e7b"/>
<rect x="356.58" y="137.64" width="3.63" height="0.60" fill="url(#g10)"/>
<polygon points="365.24,138.24 365.24,137.14 366.50,135.34 366.50,136.44" fill="#dd0b60"/>
<polygon points="361.62,137.14 365.24,137.14 366.50,135.34 362.89,135.34" fill="#f12e7b"/>
<rect x="361.62" y="137.14" width="3.63" height="1.10" fill="url(#g10)"/>
<polygon points="370.28,138.24 370.28,137.14 371.53,135.34 371.53,136.44" fill="#dd0b60"/>
<polygon points="366.65,137.14 370.28,137.14 371.53,135.34 367.91,135.34" fill="#f12e7b"/>
<rect x="366.65" y="137.14" width="3.63" height="1.10" fill="url(#g10)"/>
<polygon points="375.32,138.24 375.32,136.14 376.55,134.34 376.55,136.44" fill="#dd0b60"/>
<polygon points="371.69,136.14 375.32,136.14 376.55,134.34 372.93,134.34" fill="#f12e7b"/>
<rect x="371.69" y="136.14" width="3.63" height="2.11" fill="url(#g10)"/>
<polygon points="380.36,138.24 380.36,137.14 381.57,135.34 381.57,136.44" fill="#dd0b60"/>
<polygon points="376.73,137.14 380.36,137.14 381.57,135.34 377.95,135.34" fill="#f12e7b"/>
<rect x="376.73" y="137.14" width="3.63" height="1.10" fill="url(#g10)"/>
<polygon points="390.43,138.24 390.43,137.64 391.61,135.84 391.61,136.44" fill="#dd0b60"/>
<polygon points="386.80,137.64 390.43,137.64 391.61,135.84 388.00,135.84" fill="#f12e7b"/>
<rect x="386.80" y="137.64" width="3.63" height="0.60" fill="url(#g10)"/>
<polygon points="395.47,138.24 395.47,137.64 396.63,135.84 396.63,136.44" fill="#dd0b60"/>
<polygon points="391.84,137.64 395.47,137.64 396.63,135.84 393.02,135.84" fill="#f12e7b"/>
<rect x="391.84" y="137.64" width="3.63" height="0.60" fill="url(#g10)"/>
<polygon points="405.54,138.24 405.54,137.64 406.68,135.84 406.68,136.44" fill="#dd0b60"/>
<polygon points="401.92,137.64 405.54,137.64 406.68,135.84 403.06,135.84" fill="#f12e7b"/>
<rect x="401.92" y="137.64" width="3.63" height="0.60" fill="url(#g10)"/>
<polygon points="410.58,138.24 410.58,137.64 411.70,135.84 411.70,136.44" fill="#dd0b60"/>
<polygon points="406.96,137.64 410.58,137.64 411.70,135.84 408.08,135.84" fill="#f12e7b"/>
<rect x="406.96" y="137.64" width="3.63" height="0.60" fill="url(#g10)"/>
<polygon points="415.62,138.24 415.62,137.64 416.72,135.84 416.72,136.44" fill="#dd0b60"/>
<polygon points="411.99,137.64 415.62,137.64 416.72,135.84 413.11,135.84" fill="#f12e7b"/>
<rect x="411.99" y="137.64" width="3.63" height="0.60" fill="url(#g10)"/>
<polygon points="420.66,138.24 420.66,137.64 421.74,135.84 421.74,136.44" fill="#dd0b60"/>
<polygon points="417.03,137.64 420.66,137.64 421.74,135.84 418.13,135.84" fill="#f12e7b"/>
<rect x="417.03" y="137.64" width="3.63" height="0.60" fill="url(#g10)"/>
<polygon points="425.70,138.24 425.70,137.64 426.77,135.84 426.77,136.44" fill="#dd0b60"/>
<polygon points="422.07,137.64 425.70,137.64 426.77,135.84 423.15,135.84" fill="#f12e7b"/>
<rect x="422.07" y="137.64" width="3.63" height="0.60" fill="url(#g10)"/>
<polygon points="435.77,138.24 435.77,137.64 436.81,135.84 436.81,136.44" fill="#dd0b60"/>
<polygon points="432.14,137.64 435.77,137.64 436.81,135.84 433.19,135.84" fill="#f12e7b"/>
<rect x="432.14" y="137.64" width="3.63" height="0.60" fill="url(#g10)"/>
<polygon points="440.81,138.24 440.81,137.64 441.83,135.84 441.83,136.44" fill="#dd0b60"/>
<polygon points="437.18,137.64 440.81,137.64 441.83,135.84 438.22,135.84" fill="#f12e7b"/>
<rect x="437.18" y="137.64" width="3.63" height="0.60" fill="url(#g10)"/>
<polygon points="450.88,138.24 450.88,137.64 451.87,135.84 451.87,136.44" fill="#dd0b60"/>
<polygon points="447.26,137.64 450.88,137.64 451.87,135.84 448.26,135.84" fill="#f12e7b"/>
<rect x="447.26" y="137.64" width="3.63" height="0.60" fill="url(#g10)"/>
<polygon points="460.96,138.24 460.96,137.64 461.92,135.84 461.92,136.44" fill="#dd0b60"/>
<polygon points="457.33,137.64 460.96,137.64 461.92,135.84 458.30,135.84" fill="#f12e7b"/>
<rect x="457.33" y="137.64" width="3.63" height="0.60" fill="url(#g10)"/>
<polygon points="476.07,138.24 476.07,137.64 476.98,135.84 476.98,136.44" fill="#dd0b60"/>
<polygon points="472.44,137.64 476.07,137.64 476.98,135.84 473.37,135.84" fill="#f12e7b"/>
<rect x="472.44" y="137.64" width="3.63" height="0.60" fill="url(#g10)"/>
<polygon points="491.18,138.24 491.18,137.64 492.05,135.84 492.05,136.44" fill="#dd0b60"/>
<polygon points="487.56,137.64 491.18,137.64 492.05,135.84 488.43,135.84" fill="#f12e7b"/>
<rect x="487.56" y="137.64" width="3.63" height="0.60" fill="url(#g10)"/>
<polygon points="511.33,138.24 511.33,137.64 512.14,135.84 512.14,136.44" fill="#dd0b60"/>
<polygon points="507.71,137.64 511.33,137.64 512.14,135.84 508.52,135.84" fill="#f12e7b"/>
<rect x="507.71" y="137.64" width="3.63" height="0.60" fill="url(#g10)"/>
<polygon points="521.41,138.24 521.41,137.14 522.18,135.34 522.18,136.44" fill="#dd0b60"/>
<polygon points="517.78,137.14 521.41,137.14 522.18,135.34 518.56,135.34" fill="#f12e7b"/>
<rect x="517.78" y="137.14" width="3.63" height="1.10" fill="url(#g10)"/>
<polygon points="260.07,155.18 260.07,154.13 261.70,152.22 261.70,153.27" fill="#0d81e2"/>
<polygon points="256.33,154.13 260.07,154.13 261.70,152.22 257.98,152.22" fill="#2f9af5"/>
<rect x="256.33" y="154.13" width="3.73" height="1.05" fill="url(#g9)"/>
<polygon points="270.44,155.18 270.44,154.13 272.04,152.22 272.04,153.27" fill="#0d81e2"/>
<polygon points="266.71,154.13 270.44,154.13 272.04,152.22 268.32,152.22" fill="#2f9af5"/>
<rect x="266.71" y="154.13" width="3.73" height="1.05" fill="url(#g9)"/>
<polygon points="275.63,155.18 275.63,154.13 277.21,152.22 277.21,153.27" fill="#0d81e2"/>
<polygon points="271.89,154.13 275.63,154.13 277.21,152.22 273.49,152.22" fill="#2f9af5"/>
<rect x="271.89" y="154.13" width="3.73" height="1.05" fill="url(#g9)"/>
<polygon points="280.81,155.18 280.81,154.13 282.38,152.22 282.38,153.27" fill="#0d81e2"/>
<polygon points="277.08,154.13 280.81,154.13 282.38,152.22 278.66,152.22" fill="#2f9af5"/>
<rect x="277.08" y="154.13" width="3.73" height="1.05" fill="url(#g9)"/>
<polygon points="286.00,155.18 286.00,154.13 287.55,152.22 287.55,153.27" fill="#0d81e2"/>
<polygon points="282.26,154.13 286.00,154.13 287.55,152.22 283.83,152.22" fill="#2f9af5"/>
<rect x="282.26" y="154.13" width="3.73" height="1.05" fill="url(#g9)"/>
<polygon points="291.18,155.18 291.18,154.13 292.72,152.22 292.72,153.27" fill="#0d81e2"/>
<polygon points="287.45,154.13 291.18,154.13 292.72,152.22 289.00,152.22" fill="#2f9af5"/>
<rect x="287.45" y="154.13" width="3.73" height="1.05" fill="url(#g9)"/>
<polygon points="301.56,155.18 301.56,153.13 303.06,151.22 303.06,153.27" fill="#0d81e2"/>
<polygon points="297.82,153.13 301.56,153.13 303.06,151.22 299.34,151.22" fill="#2f9af5"/>
<rect x="297.82" y="153.13" width="3.73" height="2.05" fill="url(#g9)"/>
<polygon points="311.93,155.18 311.93,153.63 313.40,151.72 313.40,153.27" fill="#0d81e2"/>
<polygon points="308.19,153.63 311.93,153.63 313.40,151.72 309.67,151.72" fill="#2f9af5"/>
<rect x="308.19" y="153.63" width="3.73" height="1.55" fill="url(#g9)"/>
<polygon points="317.11,155.18 317.11,98.45 318.57,96.72 318.57,153.27" fill="#0d81e2"/>
<polygon points="313.38,98.45 317.11,98.45 318.57,96.72 314.84,96.72" fill="#2f9af5"/>
<rect x="313.38" y="98.45" width="3.73" height="56.73" fill="url(#g9)"/>
<polygon points="337.86,155.18 337.86,153.63 339.24,151.72 339.24,153.27" fill="#0d81e2"/>
<polygon points="334.12,153.63 337.86,153.63 339.24,151.72 335.52,151.72" fill="#2f9af5"/>
<rect x="334.12" y="153.63" width="3.73" height="1.55" fill="url(#g9)"/>
<polygon points="343.04,155.18 343.04,153.63 344.41,151.72 344.41,153.27" fill="#0d81e2"/>
<polygon points="339.31,153.63 343.04,153.63 344.41,151.72 340.69,151.72" fill="#2f9af5"/>
<rect x="339.31" y="153.63" width="3.73" height="1.55" fill="url(#g9)"/>
<polygon points="348.23,155.18 348.23,95.54 349.58,93.82 349.58,153.27" fill="#0d81e2"/>
<polygon points="344.50,95.54 348.23,95.54 349.58,93.82 345.86,93.82" fill="#2f9af5"/>
<rect x="344.50" y="95.54" width="3.73" height="59.64" fill="url(#g9)"/>
<polygon points="358.60,155.18 358.60,149.82 359.92,147.92 359.92,153.27" fill="#0d81e2"/>
<polygon points="354.87,149.82 358.60,149.82 359.92,147.92 356.20,147.92" fill="#2f9af5"/>
<rect x="354.87" y="149.82" width="3.73" height="5.36" fill="url(#g9)"/>
<polygon points="363.79,155.18 363.79,149.82 365.09,147.92 365.09,153.27" fill="#0d81e2"/>
<polygon points="360.05,149.82 363.79,149.82 365.09,147.92 361.37,147.92" fill="#2f9af5"/>
<rect x="360.05" y="149.82" width="3.73" height="5.36" fill="url(#g9)"/>
<polygon points="374.16,155.18 374.16,153.63 375.43,151.72 375.43,153.27" fill="#0d81e2"/>
<polygon points="370.42,153.63 374.16,153.63 375.43,151.72 371.71,151.72" fill="#2f9af5"/>
<rect x="370.42" y="153.63" width="3.73" height="1.55" fill="url(#g9)"/>
<polygon points="379.34,155.18 379.34,153.63 380.60,151.72 380.60,153.27" fill="#0d81e2"/>
<polygon points="375.61,153.63 379.34,153.63 380.60,151.72 376.87,151.72" fill="#2f9af5"/>
<rect x="375.61" y="153.63" width="3.73" height="1.55" fill="url(#g9)"/>
<polygon points="384.53,155.18 384.53,126.24 385.77,124.42 385.77,153.27" fill="#0d81e2"/>
<polygon points="380.80,126.24 384.53,126.24 385.77,124.42 382.04,124.42" fill="#2f9af5"/>
<rect x="380.80" y="126.24" width="3.73" height="28.94" fill="url(#g9)"/>
<polygon points="389.72,155.18 389.72,151.92 390.93,150.02 390.93,153.27" fill="#0d81e2"/>
<polygon points="385.98,151.92 389.72,151.92 390.93,150.02 387.21,150.02" fill="#2f9af5"/>
<rect x="385.98" y="151.92" width="3.73" height="3.26" fill="url(#g9)"/>
<polygon points="400.09,155.18 400.09,154.13 401.27,152.22 401.27,153.27" fill="#0d81e2"/>
<polygon points="396.35,154.13 400.09,154.13 401.27,152.22 397.55,152.22" fill="#2f9af5"/>
<rect x="396.35" y="154.13" width="3.73" height="1.05" fill="url(#g9)"/>
<polygon points="405.27,155.18 405.27,153.13 406.44,151.22 406.44,153.27" fill="#0d81e2"/>
<polygon points="401.54,153.13 405.27,153.13 406.44,151.22 402.72,151.22" fill="#2f9af5"/>
<rect x="401.54" y="153.13" width="3.73" height="2.05" fill="url(#g9)"/>
<polygon points="410.46,155.18 410.46,153.63 411.61,151.72 411.61,153.27" fill="#0d81e2"/>
<polygon points="406.73,153.63 410.46,153.63 411.61,151.72 407.89,151.72" fill="#2f9af5"/>
<rect x="406.73" y="153.63" width="3.73" height="1.55" fill="url(#g9)"/>
<polygon points="415.65,155.18 415.65,153.63 416.78,151.72 416.78,153.27" fill="#0d81e2"/>
<polygon points="411.91,153.63 415.65,153.63 416.78,151.72 413.06,151.72" fill="#2f9af5"/>
<rect x="411.91" y="153.63" width="3.73" height="1.55" fill="url(#g9)"/>
<polygon points="420.83,155.18 420.83,153.63 421.95,151.72 421.95,153.27" fill="#0d81e2"/>
<polygon points="417.10,153.63 420.83,153.63 421.95,151.72 418.23,151.72" fill="#2f9af5"/>
<rect x="417.10" y="153.63" width="3.73" height="1.55" fill="url(#g9)"/>
<polygon points="426.02,155.18 426.02,147.61 427.12,145.72 427.12,153.27" fill="#0d81e2"/>
<polygon points="422.28,147.61 426.02,147.61 427.12,145.72 423.40,145.72" fill="#2f9af5"/>
<rect x="422.28" y="147.61" width="3.73" height="7.57" fill="url(#g9)"/>
<polygon points="431.20,155.18 431.20,153.63 432.29,151.72 432.29,153.27" fill="#0d81e2"/>
<polygon points="427.47,153.63 431.20,153.63 432.29,151.72 428.57,151.72" fill="#2f9af5"/>
<rect x="427.47" y="153.63" width="3.73" height="1.55" fill="url(#g9)"/>
<polygon points="436.39,155.18 436.39,153.63 437.46,151.72 437.46,153.27" fill="#0d81e2"/>
<polygon points="432.66,153.63 436.39,153.63 437.46,151.72 433.74,151.72" fill="#2f9af5"/>
<rect x="432.66" y="153.63" width="3.73" height="1.55" fill="url(#g9)"/>
<polygon points="441.58,155.18 441.58,153.63 442.63,151.72 442.63,153.27" fill="#0d81e2"/>
<polygon points="437.84,153.63 441.58,153.63 442.63,151.72 438.90,151.72" fill="#2f9af5"/>
<rect x="437.84" y="153.63" width="3.73" height="1.55" fill="url(#g9)"/>
<polygon points="446.76,155.18 446.76,154.13 447.80,152.22 447.80,153.27" fill="#0d81e2"/>
<polygon points="443.03,154.13 446.76,154.13 447.80,152.22 444.07,152.22" fill="#2f9af5"/>
<rect x="443.03" y="154.13" width="3.73" height="1.05" fill="url(#g9)"/>
<polygon points="451.95,155.18 451.95,154.13 452.96,152.22 452.96,153.27" fill="#0d81e2"/>
<polygon points="448.21,154.13 451.95,154.13 452.96,152.22 449.24,152.22" fill="#2f9af5"/>
<rect x="448.21" y="154.13" width="3.73" height="1.05" fill="url(#g9)"/>
<polygon points="462.32,155.18 462.32,154.13 463.30,152.22 463.30,153.27" fill="#0d81e2"/>
<polygon points="458.59,154.13 462.32,154.13 463.30,152.22 459.58,152.22" fill="#2f9af5"/>
<rect x="458.59" y="154.13" width="3.73" height="1.05" fill="url(#g9)"/>
<polygon points="467.51,155.18 467.51,153.63 468.47,151.72 468.47,153.27" fill="#0d81e2"/>
<polygon points="463.77,153.63 467.51,153.63 468.47,151.72 464.75,151.72" fill="#2f9af5"/>
<rect x="463.77" y="153.63" width="3.73" height="1.55" fill="url(#g9)"/>
<polygon points="472.69,155.18 472.69,153.63 473.64,151.72 473.64,153.27" fill="#0d81e2"/>
<polygon points="468.96,153.63 472.69,153.63 473.64,151.72 469.92,151.72" fill="#2f9af5"/>
<rect x="468.96" y="153.63" width="3.73" height="1.55" fill="url(#g9)"/>
<polygon points="477.88,155.18 477.88,153.63 478.81,151.72 478.81,153.27" fill="#0d81e2"/>
<polygon points="474.14,153.63 477.88,153.63 478.81,151.72 475.09,151.72" fill="#2f9af5"/>
<rect x="474.14" y="153.63" width="3.73" height="1.55" fill="url(#g9)"/>
<polygon points="483.06,155.18 483.06,153.63 483.98,151.72 483.98,153.27" fill="#0d81e2"/>
<polygon points="479.33,153.63 483.06,153.63 483.98,151.72 480.26,151.72" fill="#2f9af5"/>
<rect x="479.33" y="153.63" width="3.73" height="1.55" fill="url(#g9)"/>
<polygon points="488.25,155.18 488.25,153.63 489.15,151.72 489.15,153.27" fill="#0d81e2"/>
<polygon points="484.52,153.63 488.25,153.63 489.15,151.72 485.43,151.72" fill="#2f9af5"/>
<rect x="484.52" y="153.63" width="3.73" height="1.55" fill="url(#g9)"/>
<polygon points="493.44,155.18 493.44,153.63 494.32,151.72 494.32,153.27" fill="#0d81e2"/>
<polygon points="489.70,153.63 493.44,153.63 494.32,151.72 490.60,151.72" fill="#2f9af5"/>
<rect x="489.70" y="153.63" width="3.73" height="1.55" fill="url(#g9)"/>
<polygon points="498.62,155.18 498.62,152.62 499.49,150.72 499.49,153.27" fill="#0d81e2"/>
<polygon points="494.89,152.62 498.62,152.62 499.49,150.72 495.77,150.72" fill="#2f9af5"/>
<rect x="494.89" y="152.62" width="3.73" height="2.55" fill="url(#g9)"/>
<polygon points="503.81,155.18 503.81,153.63 504.66,151.72 504.66,153.27" fill="#0d81e2"/>
<polygon points="500.07,153.63 503.81,153.63 504.66,151.72 500.93,151.72" fill="#2f9af5"/>
<rect x="500.07" y="153.63" width="3.73" height="1.55" fill="url(#g9)"/>
<polygon points="508.99,155.18 508.99,153.63 509.83,151.72 509.83,153.27" fill="#0d81e2"/>
<polygon points="505.26,153.63 508.99,153.63 509.83,151.72 506.10,151.72" fill="#2f9af5"/>
<rect x="505.26" y="153.63" width="3.73" height="1.55" fill="url(#g9)"/>
<polygon points="514.18,155.18 514.18,153.63 514.99,151.72 514.99,153.27" fill="#0d81e2"/>
<polygon points="510.44,153.63 514.18,153.63 514.99,151.72 511.27,151.72" fill="#2f9af5"/>
<rect x="510.44" y="153.63" width="3.73" height="1.55" fill="url(#g9)"/>
<polygon points="244.69,173.14 244.69,172.15 246.43,170.13 246.43,171.11" fill="#a74143"/>
<polygon points="240.84,172.15 244.69,172.15 246.43,170.13 242.59,170.13" fill="#bf5b5d"/>
<rect x="240.84" y="172.15" width="3.85" height="0.99" fill="url(#g8)"/>
<polygon points="250.03,173.14 250.03,172.15 251.75,170.13 251.75,171.11" fill="#a74143"/>
<polygon points="246.19,172.15 250.03,172.15 251.75,170.13 247.92,170.13" fill="#bf5b5d"/>
<rect x="246.19" y="172.15" width="3.85" height="0.99" fill="url(#g8)"/>
<polygon points="260.72,173.14 260.72,172.15 262.40,170.13 262.40,171.11" fill="#a74143"/>
<polygon points="256.87,172.15 260.72,172.15 262.40,170.13 258.57,170.13" fill="#bf5b5d"/>
<rect x="256.87" y="172.15" width="3.85" height="0.99" fill="url(#g8)"/>
<polygon points="266.06,173.14 266.06,172.15 267.73,170.13 267.73,171.11" fill="#a74143"/>
<polygon points="262.22,172.15 266.06,172.15 267.73,170.13 263.89,170.13" fill="#bf5b5d"/>
<rect x="262.22" y="172.15" width="3.85" height="0.99" fill="url(#g8)"/>
<polygon points="271.41,173.14 271.41,172.15 273.05,170.13 273.05,171.11" fill="#a74143"/>
<polygon points="267.56,172.15 271.41,172.15 273.05,170.13 269.22,170.13" fill="#bf5b5d"/>
<rect x="267.56" y="172.15" width="3.85" height="0.99" fill="url(#g8)"/>
<polygon points="276.75,173.14 276.75,172.15 278.38,170.13 278.38,171.11" fill="#a74143"/>
<polygon points="272.90,172.15 276.75,172.15 278.38,170.13 274.55,170.13" fill="#bf5b5d"/>
<rect x="272.90" y="172.15" width="3.85" height="0.99" fill="url(#g8)"/>
<polygon points="287.44,173.14 287.44,171.65 289.03,169.63 289.03,171.11" fill="#a74143"/>
<polygon points="283.59,171.65 287.44,171.65 289.03,169.63 285.20,169.63" fill="#bf5b5d"/>
<rect x="283.59" y="171.65" width="3.85" height="1.49" fill="url(#g8)"/>
<polygon points="292.78,173.14 292.78,172.15 294.36,170.13 294.36,171.11" fill="#a74143"/>
<polygon points="288.93,172.15 292.78,172.15 294.36,170.13 290.52,170.13" fill="#bf5b5d"/>
<rect x="288.93" y="172.15" width="3.85" height="0.99" fill="url(#g8)"/>
<polygon points="298.12,173.14 298.12,172.15 299.68,170.13 299.68,171.11" fill="#a74143"/>
<polygon points="294.27,172.15 298.12,172.15 299.68,170.13 295.85,170.13" fill="#bf5b5d"/>
<rect x="294.27" y="172.15" width="3.85" height="0.99" fill="url(#g8)"/>
<polygon points="303.47,173.14 303.47,121.89 305.01,120.03 305.01,171.11" fill="#a74143"/>
<polygon points="299.62,121.89 303.47,121.89 305.01,120.03 301.17,120.03" fill="#bf5b5d"/>
<rect x="299.62" y="121.89" width="3.85" height="51.26" fill="url(#g8)"/>
<polygon points="308.81,173.14 308.81,172.15 310.33,170.13 310.33,171.11" fill="#a74143"/>
<polygon points="304.96,172.15 308.81,172.15 310.33,170.13 306.50,170.13" fill="#bf5b5d"/>
<rect x="304.96" y="172.15" width="3.85" height="0.99" fill="url(#g8)"/>
<polygon points="319.50,173.14 319.50,170.65 320.98,168.63 320.98,171.11" fill="#a74143"/>
<polygon points="315.65,170.65 319.50,170.65 320.98,168.63 317.15,168.63" fill="#bf5b5d"/>
<rect x="315.65" y="170.65" width="3.85" height="2.50" fill="url(#g8)"/>
<polygon points="324.84,173.14 324.84,172.15 326.31,170.13 326.31,171.11" fill="#a74143"/>
<polygon points="320.99,172.15 324.84,172.15 326.31,170.13 322.47,170.13" fill="#bf5b5d"/>
<rect x="320.99" y="172.15" width="3.85" height="0.99" fill="url(#g8)"/>
<polygon points="330.18,173.14 330.18,172.15 331.63,170.13 331.63,171.11" fill="#a74143"/>
<polygon points="326.33,172.15 330.18,172.15 331.63,170.13 327.80,170.13" fill="#bf5b5d"/>
<rect x="326.33" y="172.15" width="3.85" height="0.99" fill="url(#g8)"/>
<polygon points="335.52,173.14 335.52,121.89 336.96,120.03 336.96,171.11" fill="#a74143"/>
<polygon points="331.68,121.89 335.52,121.89 336.96,120.03 333.13,120.03" fill="#bf5b5d"/>
<rect x="331.68" y="121.89" width="3.85" height="51.26" fill="url(#g8)"/>
<polygon points="340.87,173.14 340.87,172.15 342.29,170.13 342.29,171.11" fill="#a74143"/>
<polygon points="337.02,172.15 340.87,172.15 342.29,170.13 338.45,170.13" fill="#bf5b5d"/>
<rect x="337.02" y="172.15" width="3.85" height="0.99" fill="url(#g8)"/>
<polygon points="346.21,173.14 346.21,169.54 347.61,167.53 347.61,171.11" fill="#a74143"/>
<polygon points="342.36,169.54 346.21,169.54 347.61,167.53 343.78,167.53" fill="#bf5b5d"/>
<rect x="342.36" y="169.54" width="3.85" height="3.60" fill="url(#g8)"/>
<polygon points="367.58,173.14 367.58,172.15 368.91,170.13 368.91,171.11" fill="#a74143"/>
<polygon points="363.74,172.15 367.58,172.15 368.91,170.13 365.08,170.13" fill="#bf5b5d"/>
<rect x="363.74" y="172.15" width="3.85" height="0.99" fill="url(#g8)"/>
<polygon points="372.93,173.14 372.93,142.35 374.24,140.43 374.24,171.11" fill="#a74143"/>
<polygon points="369.08,142.35 372.93,142.35 374.24,140.43 370.40,140.43" fill="#bf5b5d"/>
<rect x="369.08" y="142.35" width="3.85" height="30.79" fill="url(#g8)"/>
<polygon points="378.27,173.14 378.27,172.15 379.56,170.13 379.56,171.11" fill="#a74143"/>
<polygon points="374.42,172.15 378.27,172.15 379.56,170.13 375.73,170.13" fill="#bf5b5d"/>
<rect x="374.42" y="172.15" width="3.85" height="0.99" fill="url(#g8)"/>
<polygon points="388.96,173.14 388.96,171.65 390.21,169.63 390.21,171.11" fill="#a74143"/>
<polygon points="385.11,171.65 388.96,171.65 390.21,169.63 386.38,169.63" fill="#bf5b5d"/>
<rect x="385.11" y="171.65" width="3.85" height="1.49" fill="url(#g8)"/>
<polygon points="394.30,173.14 394.30,167.34 395.54,165.33 395.54,171.11" fill="#a74143"/>
<polygon points="390.45,167.34 394.30,167.34 395.54,165.33 391.71,165.33" fill="#bf5b5d"/>
<rect x="390.45" y="167.34" width="3.85" height="5.81" fill="url(#g8)"/>
<polygon points="415.67,173.14 415.67,165.23 416.84,163.23 416.84,171.11" fill="#a74143"/>
<polygon points="411.83,165.23 415.67,165.23 416.84,163.23 413.01,163.23" fill="#bf5b5d"/>
<rect x="411.83" y="165.23" width="3.85" height="7.91" fill="url(#g8)"/>
<polygon points="421.02,173.14 421.02,171.15 422.17,169.13 422.17,171.11" fill="#a74143"/>
<polygon points="417.17,171.15 421.02,171.15 422.17,169.13 418.33,169.13" fill="#bf5b5d"/>
<rect x="417.17" y="171.15" width="3.85" height="1.99" fill="url(#g8)"/>
<polygon points="426.36,173.14 426.36,171.65 427.49,169.63 427.49,171.11" fill="#a74143"/>
<polygon points="422.51,171.65 426.36,171.65 427.49,169.63 423.66,169.63" fill="#bf5b5d"/>
<rect x="422.51" y="171.65" width="3.85" height="1.49" fill="url(#g8)"/>
<polygon points="431.70,173.14 431.70,171.15 432.82,169.13 432.82,171.11" fill="#a74143"/>
<polygon points="427.86,171.15 431.70,171.15 432.82,169.13 428.98,169.13" fill="#bf5b5d"/>
<rect x="427.86" y="171.15" width="3.85" height="1.99" fill="url(#g8)"/>
<polygon points="437.05,173.14 437.05,171.65 438.14,169.63 438.14,171.11" fill="#a74143"/>
<polygon points="433.20,171.65 437.05,171.65 438.14,169.63 434.31,169.63" fill="#bf5b5d"/>
<rect x="433.20" y="171.65" width="3.85" height="1.49" fill="url(#g8)"/>
<polygon points="442.39,173.14 442.39,171.65 443.47,169.63 443.47,171.11" fill="#a74143"/>
<polygon points="438.54,171.65 442.39,171.65 443.47,169.63 439.64,169.63" fill="#bf5b5d"/>
<rect x="438.54" y="171.65" width="3.85" height="1.49" fill="url(#g8)"/>
<polygon points="447.73,173.14 447.73,171.65 448.80,169.63 448.80,171.11" fill="#a74143"/>
<polygon points="443.89,171.65 447.73,171.65 448.80,169.63 444.96,169.63" fill="#bf5b5d"/>
<rect x="443.89" y="171.65" width="3.85" height="1.49" fill="url(#g8)"/>
<polygon points="453.08,173.14 453.08,171.65 454.12,169.63 454.12,171.11" fill="#a74143"/>
<polygon points="449.23,171.65 453.08,171.65 454.12,169.63 450.29,169.63" fill="#bf5b5d"/>
<rect x="449.23" y="171.65" width="3.85" height="1.49" fill="url(#g8)"/>
<polygon points="458.42,173.14 458.42,171.65 459.45,169.63 459.45,171.11" fill="#a74143"/>
<polygon points="454.57,171.65 458.42,171.65 459.45,169.63 455.61,169.63" fill="#bf5b5d"/>
<rect x="454.57" y="171.65" width="3.85" height="1.49" fill="url(#g8)"/>
<polygon points="463.76,173.14 463.76,170.65 464.77,168.63 464.77,171.11" fill="#a74143"/>
<polygon points="459.92,170.65 463.76,170.65 464.77,168.63 460.94,168.63" fill="#bf5b5d"/>
<rect x="459.92" y="170.65" width="3.85" height="2.50" fill="url(#g8)"/>
<polygon points="469.11,173.14 469.11,171.65 470.10,169.63 470.10,171.11" fill="#a74143"/>
<polygon points="465.26,171.65 469.11,171.65 470.10,169.63 466.26,169.63" fill="#bf5b5d"/>
<rect x="465.26" y="171.65" width="3.85" height="1.49" fill="url(#g8)"/>
<polygon points="474.45,173.14 474.45,171.65 475.42,169.63 475.42,171.11" fill="#a74143"/>
<polygon points="470.60,171.65 474.45,171.65 475.42,169.63 471.59,169.63" fill="#bf5b5d"/>
<rect x="470.60" y="171.65" width="3.85" height="1.49" fill="url(#g8)"/>
<polygon points="485.14,173.14 485.14,171.65 486.07,169.63 486.07,171.11" fill="#a74143"/>
<polygon points="481.29,171.65 485.14,171.65 486.07,169.63 482.24,169.63" fill="#bf5b5d"/>
<rect x="481.29" y="171.65" width="3.85" height="1.49" fill="url(#g8)"/>
<polygon points="490.48,173.14 490.48,171.65 491.40,169.63 491.40,171.11" fill="#a74143"/>
<polygon points="486.63,171.65 490.48,171.65 491.40,169.63 487.56,169.63" fill="#bf5b5d"/>
<rect x="486.63" y="171.65" width="3.85" height="1.49" fill="url(#g8)"/>
<polygon points="495.82,173.14 495.82,171.65 496.72,169.63 496.72,171.11" fill="#a74143"/>
<polygon points="491.98,171.65 495.82,171.65 496.72,169.63 492.89,169.63" fill="#bf5b5d"/>
<rect x="491.98" y="171.65" width="3.85" height="1.49" fill="url(#g8)"/>
<polygon points="501.17,173.14 501.17,171.65 502.05,169.63 502.05,171.11" fill="#a74143"/>
<polygon points="497.32,171.65 501.17,171.65 502.05,169.63 498.22,169.63" fill="#bf5b5d"/>
<rect x="497.32" y="171.65" width="3.85" height="1.49" fill="url(#g8)"/>
<polygon points="506.51,173.14 506.51,171.65 507.38,169.63 507.38,171.11" fill="#a74143"/>
<polygon points="502.66,171.65 506.51,171.65 507.38,169.63 503.54,169.63" fill="#bf5b5d"/>
<rect x="502.66" y="171.65" width="3.85" height="1.49" fill="url(#g8)"/>
<polygon points="228.35,192.23 228.35,191.62 230.20,189.46 230.20,190.07" fill="#aea9cf"/>
<polygon points="224.38,191.62 228.35,191.62 230.20,189.46 226.24,189.46" fill="#c4c0df"/>
<rect x="224.38" y="191.62" width="3.97" height="0.61" fill="url(#g7)"/>
<polygon points="244.88,192.23 244.88,191.31 246.67,189.15 246.67,190.07" fill="#aea9cf"/>
<polygon points="240.91,191.31 244.88,191.31 246.67,189.15 242.72,189.15" fill="#c4c0df"/>
<rect x="240.91" y="191.31" width="3.97" height="0.93" fill="url(#g7)"/>
<polygon points="250.39,192.23 250.39,191.31 252.16,189.15 252.16,190.07" fill="#aea9cf"/>
<polygon points="246.42,191.31 250.39,191.31 252.16,189.15 248.21,189.15" fill="#c4c0df"/>
<rect x="246.42" y="191.31" width="3.97" height="0.93" fill="url(#g7)"/>
<polygon points="261.41,192.23 261.41,191.31 263.14,189.15 263.14,190.07" fill="#aea9cf"/>
<polygon points="257.44,191.31 261.41,191.31 263.14,189.15 259.19,189.15" fill="#c4c0df"/>
<rect x="257.44" y="191.31" width="3.97" height="0.93" fill="url(#g7)"/>
<polygon points="266.92,192.23 266.92,191.31 268.64,189.15 268.64,190.07" fill="#aea9cf"/>
<polygon points="262.95,191.31 266.92,191.31 268.64,189.15 264.68,189.15" fill="#c4c0df"/>
<rect x="262.95" y="191.31" width="3.97" height="0.93" fill="url(#g7)"/>
<polygon points="277.94,192.23 277.94,191.31 279.62,189.15 279.62,190.07" fill="#aea9cf"/>
<polygon points="273.97,191.31 277.94,191.31 279.62,189.15 275.67,189.15" fill="#c4c0df"/>
<rect x="273.97" y="191.31" width="3.97" height="0.93" fill="url(#g7)"/>
<polygon points="283.45,192.23 283.45,191.31 285.11,189.15 285.11,190.07" fill="#aea9cf"/>
<polygon points="279.49,191.31 283.45,191.31 285.11,189.15 281.16,189.15" fill="#c4c0df"/>
<rect x="279.49" y="191.31" width="3.97" height="0.93" fill="url(#g7)"/>
<polygon points="288.96,192.23 288.96,149.56 290.60,147.55 290.60,190.07" fill="#aea9cf"/>
<polygon points="285.00,149.56 288.96,149.56 290.60,147.55 286.65,147.55" fill="#c4c0df"/>
<rect x="285.00" y="149.56" width="3.97" height="42.67" fill="url(#g7)"/>
<polygon points="316.52,192.23 316.52,191.31 318.06,189.15 318.06,190.07" fill="#aea9cf"/>
<polygon points="312.55,191.31 316.52,191.31 318.06,189.15 314.11,189.15" fill="#c4c0df"/>
<rect x="312.55" y="191.31" width="3.97" height="0.93" fill="url(#g7)"/>
<polygon points="322.03,192.23 322.03,136.42 323.55,134.45 323.55,190.07" fill="#aea9cf"/>
<polygon points="318.06,136.42 322.03,136.42 323.55,134.45 319.60,134.45" fill="#c4c0df"/>
<rect x="318.06" y="136.42" width="3.97" height="55.81" fill="url(#g7)"/>
<polygon points="327.54,192.23 327.54,191.31 329.04,189.15 329.04,190.07" fill="#aea9cf"/>
<polygon points="323.57,191.31 327.54,191.31 329.04,189.15 325.09,189.15" fill="#c4c0df"/>
<rect x="323.57" y="191.31" width="3.97" height="0.93" fill="url(#g7)"/>
<polygon points="338.56,192.23 338.56,188.30 340.03,186.15 340.03,190.07" fill="#aea9cf"/>
<polygon points="334.59,188.30 338.56,188.30 340.03,186.15 336.07,186.15" fill="#c4c0df"/>
<rect x="334.59" y="188.30" width="3.97" height="3.94" fill="url(#g7)"/>
<polygon points="355.09,192.23 355.09,191.31 356.50,189.15 356.50,190.07" fill="#aea9cf"/>
<polygon points="351.12,191.31 355.09,191.31 356.50,189.15 352.55,189.15" fill="#c4c0df"/>
<rect x="351.12" y="191.31" width="3.97" height="0.93" fill="url(#g7)"/>
<polygon points="360.60,192.23 360.60,167.02 361.99,164.95 361.99,190.07" fill="#aea9cf"/>
<polygon points="356.63,167.02 360.60,167.02 361.99,164.95 358.04,164.95" fill="#c4c0df"/>
<rect x="356.63" y="167.02" width="3.97" height="25.21" fill="url(#g7)"/>
<polygon points="366.11,192.23 366.11,188.50 367.48,186.35 367.48,190.07" fill="#aea9cf"/>
<polygon points="362.14,188.50 366.11,188.50 367.48,186.35 363.53,186.35" fill="#c4c0df"/>
<rect x="362.14" y="188.50" width="3.97" height="3.74" fill="url(#g7)"/>
<polygon points="377.13,192.23 377.13,190.80 378.47,188.65 378.47,190.07" fill="#aea9cf"/>
<polygon points="373.16,190.80 377.13,190.80 378.47,188.65 374.51,188.65" fill="#c4c0df"/>
<rect x="373.16" y="190.80" width="3.97" height="1.43" fill="url(#g7)"/>
<polygon points="382.64,192.23 382.64,190.80 383.96,188.65 383.96,190.07" fill="#aea9cf"/>
<polygon points="378.67,190.80 382.64,190.80 383.96,188.65 380.00,188.65" fill="#c4c0df"/>
<rect x="378.67" y="190.80" width="3.97" height="1.43" fill="url(#g7)"/>
<polygon points="393.66,192.23 393.66,191.31 394.94,189.15 394.94,190.07" fill="#aea9cf"/>
<polygon points="389.69,191.31 393.66,191.31 394.94,189.15 390.99,189.15" fill="#c4c0df"/>
<rect x="389.69" y="191.31" width="3.97" height="0.93" fill="url(#g7)"/>
<polygon points="399.17,192.23 399.17,190.80 400.43,188.65 400.43,190.07" fill="#aea9cf"/>
<polygon points="395.20,190.80 399.17,190.80 400.43,188.65 396.48,188.65" fill="#c4c0df"/>
<rect x="395.20" y="190.80" width="3.97" height="1.43" fill="url(#g7)"/>
<polygon points="404.68,192.23 404.68,174.25 405.92,172.15 405.92,190.07" fill="#aea9cf"/>
<polygon points="400.71,174.25 404.68,174.25 405.92,172.15 401.97,172.15" fill="#c4c0df"/>
<rect x="400.71" y="174.25" width="3.97" height="17.98" fill="url(#g7)"/>
<polygon points="410.19,192.23 410.19,190.80 411.42,188.65 411.42,190.07" fill="#aea9cf"/>
<polygon points="406.22,190.80 410.19,190.80 411.42,188.65 407.46,188.65" fill="#c4c0df"/>
<rect x="406.22" y="190.80" width="3.97" height="1.43" fill="url(#g7)"/>
<polygon points="415.70,192.23 415.70,191.31 416.91,189.15 416.91,190.07" fill="#aea9cf"/>
<polygon points="411.74,191.31 415.70,191.31 416.91,189.15 412.95,189.15" fill="#c4c0df"/>
<rect x="411.74" y="191.31" width="3.97" height="0.93" fill="url(#g7)"/>
<polygon points="421.21,192.23 421.21,185.19 422.40,183.05 422.40,190.07" fill="#aea9cf"/>
<polygon points="417.25,185.19 421.21,185.19 422.40,183.05 418.45,183.05" fill="#c4c0df"/>
<rect x="417.25" y="185.19" width="3.97" height="7.05" fill="url(#g7)"/>
<polygon points="426.72,192.23 426.72,191.31 427.89,189.15 427.89,190.07" fill="#aea9cf"/>
<polygon points="422.76,191.31 426.72,191.31 427.89,189.15 423.94,189.15" fill="#c4c0df"/>
<rect x="422.76" y="191.31" width="3.97" height="0.93" fill="url(#g7)"/>
<polygon points="432.23,192.23 432.23,191.31 433.38,189.15 433.38,190.07" fill="#aea9cf"/>
<polygon points="428.27,191.31 432.23,191.31 433.38,189.15 429.43,189.15" fill="#c4c0df"/>
<rect x="428.27" y="191.31" width="3.97" height="0.93" fill="url(#g7)"/>
<polygon points="437.74,192.23 437.74,191.31 438.87,189.15 438.87,190.07" fill="#aea9cf"/>
<polygon points="433.78,191.31 437.74,191.31 438.87,189.15 434.92,189.15" fill="#c4c0df"/>
<rect x="433.78" y="191.31" width="3.97" height="0.93" fill="url(#g7)"/>
<polygon points="443.26,192.23 443.26,191.31 444.37,189.15 444.37,190.07" fill="#aea9cf"/>
<polygon points="439.29,191.31 443.26,191.31 444.37,189.15 440.41,189.15" fill="#c4c0df"/>
<rect x="439.29" y="191.31" width="3.97" height="0.93" fill="url(#g7)"/>
<polygon points="448.77,192.23 448.77,191.31 449.86,189.15 449.86,190.07" fill="#aea9cf"/>
<polygon points="444.80,191.31 448.77,191.31 449.86,189.15 445.90,189.15" fill="#c4c0df"/>
<rect x="444.80" y="191.31" width="3.97" height="0.93" fill="url(#g7)"/>
<polygon points="454.28,192.23 454.28,191.31 455.35,189.15 455.35,190.07" fill="#aea9cf"/>
<polygon points="450.31,191.31 454.28,191.31 455.35,189.15 451.39,189.15" fill="#c4c0df"/>
<rect x="450.31" y="191.31" width="3.97" height="0.93" fill="url(#g7)"/>
<polygon points="459.79,192.23 459.79,191.31 460.84,189.15 460.84,190.07" fill="#aea9cf"/>
<polygon points="455.82,191.31 459.79,191.31 460.84,189.15 456.89,189.15" fill="#c4c0df"/>
<rect x="455.82" y="191.31" width="3.97" height="0.93" fill="url(#g7)"/>
<polygon points="465.30,192.23 465.30,191.31 466.33,189.15 466.33,190.07" fill="#aea9cf"/>
<polygon points="461.33,191.31 465.30,191.31 466.33,189.15 462.38,189.15" fill="#c4c0df"/>
<rect x="461.33" y="191.31" width="3.97" height="0.93" fill="url(#g7)"/>
<polygon points="470.81,192.23 470.81,191.31 471.82,189.15 471.82,190.07" fill="#aea9cf"/>
<polygon points="466.84,191.31 470.81,191.31 471.82,189.15 467.87,189.15" fill="#c4c0df"/>
<rect x="466.84" y="191.31" width="3.97" height="0.93" fill="url(#g7)"/>
<polygon points="481.83,192.23 481.83,191.31 482.81,189.15 482.81,190.07" fill="#aea9cf"/>
<polygon points="477.86,191.31 481.83,191.31 482.81,189.15 478.85,189.15" fill="#c4c0df"/>
<rect x="477.86" y="191.31" width="3.97" height="0.93" fill="url(#g7)"/>
<polygon points="487.34,192.23 487.34,189.80 488.30,187.65 488.30,190.07" fill="#aea9cf"/>
<polygon points="483.37,189.80 487.34,189.80 488.30,187.65 484.34,187.65" fill="#c4c0df"/>
<rect x="483.37" y="189.80" width="3.97" height="2.43" fill="url(#g7)"/>
<polygon points="492.85,192.23 492.85,191.31 493.79,189.15 493.79,190.07" fill="#aea9cf"/>
<polygon points="488.88,191.31 492.85,191.31 493.79,189.15 489.84,189.15" fill="#c4c0df"/>
<rect x="488.88" y="191.31" width="3.97" height="0.93" fill="url(#g7)"/>
<polygon points="210.95,212.55 210.95,211.70 212.92,209.40 212.92,210.26" fill="#e96f16"/>
<polygon points="206.86,211.70 210.95,211.70 212.92,209.40 208.84,209.40" fill="#f98937"/>
<rect x="206.86" y="211.70" width="4.10" height="0.86" fill="url(#g6)"/>
<polygon points="228.02,212.55 228.02,210.70 229.93,208.40 229.93,210.26" fill="#e96f16"/>
<polygon points="223.92,210.70 228.02,210.70 229.93,208.40 225.84,208.40" fill="#f98937"/>
<rect x="223.92" y="210.70" width="4.10" height="1.86" fill="url(#g6)"/>
<polygon points="233.71,212.55 233.71,211.70 235.59,209.40 235.59,210.26" fill="#e96f16"/>
<polygon points="229.61,211.70 233.71,211.70 235.59,209.40 231.51,209.40" fill="#f98937"/>
<rect x="229.61" y="211.70" width="4.10" height="0.86" fill="url(#g6)"/>
<polygon points="239.39,212.55 239.39,211.70 241.26,209.40 241.26,210.26" fill="#e96f16"/>
<polygon points="235.30,211.70 239.39,211.70 241.26,209.40 237.18,209.40" fill="#f98937"/>
<rect x="235.30" y="211.70" width="4.10" height="0.86" fill="url(#g6)"/>
<polygon points="245.08,212.55 245.08,211.70 246.93,209.40 246.93,210.26" fill="#e96f16"/>
<polygon points="240.99,211.70 245.08,211.70 246.93,209.40 242.85,209.40" fill="#f98937"/>
<rect x="240.99" y="211.70" width="4.10" height="0.86" fill="url(#g6)"/>
<polygon points="250.77,212.55 250.77,211.70 252.60,209.40 252.60,210.26" fill="#e96f16"/>
<polygon points="246.68,211.70 250.77,211.70 252.60,209.40 248.52,209.40" fill="#f98937"/>
<rect x="246.68" y="211.70" width="4.10" height="0.86" fill="url(#g6)"/>
<polygon points="262.15,212.55 262.15,211.70 263.93,209.40 263.93,210.26" fill="#e96f16"/>
<polygon points="258.05,211.70 262.15,211.70 263.93,209.40 259.85,209.40" fill="#f98937"/>
<rect x="258.05" y="211.70" width="4.10" height="0.86" fill="url(#g6)"/>
<polygon points="267.84,212.55 267.84,211.70 269.60,209.40 269.60,210.26" fill="#e96f16"/>
<polygon points="263.74,211.70 267.84,211.70 269.60,209.40 265.52,209.40" fill="#f98937"/>
<rect x="263.74" y="211.70" width="4.10" height="0.86" fill="url(#g6)"/>
<polygon points="273.52,212.55 273.52,152.59 275.27,150.50 275.27,210.26" fill="#e96f16"/>
<polygon points="269.43,152.59 273.52,152.59 275.27,150.50 271.19,150.50" fill="#f98937"/>
<rect x="269.43" y="152.59" width="4.10" height="59.96" fill="url(#g6)"/>
<polygon points="279.21,212.55 279.21,211.20 280.94,208.90 280.94,210.26" fill="#e96f16"/>
<polygon points="275.12,211.20 279.21,211.20 280.94,208.90 276.86,208.90" fill="#f98937"/>
<rect x="275.12" y="211.20" width="4.10" height="1.36" fill="url(#g6)"/>
<polygon points="284.90,212.55 284.90,211.70 286.61,209.40 286.61,210.26" fill="#e96f16"/>
<polygon points="280.81,211.70 284.90,211.70 286.61,209.40 282.53,209.40" fill="#f98937"/>
<rect x="280.81" y="211.70" width="4.10" height="0.86" fill="url(#g6)"/>
<polygon points="296.28,212.55 296.28,211.70 297.94,209.40 297.94,210.26" fill="#e96f16"/>
<polygon points="292.18,211.70 296.28,211.70 297.94,209.40 293.86,209.40" fill="#f98937"/>
<rect x="292.18" y="211.70" width="4.10" height="0.86" fill="url(#g6)"/>
<polygon points="307.65,212.55 307.65,149.68 309.28,147.60 309.28,210.26" fill="#e96f16"/>
<polygon points="303.56,149.68 307.65,149.68 309.28,147.60 305.20,147.60" fill="#f98937"/>
<rect x="303.56" y="149.68" width="4.10" height="62.87" fill="url(#g6)"/>
<polygon points="319.03,212.55 319.03,206.68 320.62,204.40 320.62,210.26" fill="#e96f16"/>
<polygon points="314.94,206.68 319.03,206.68 320.62,204.40 316.54,204.40" fill="#f98937"/>
<rect x="314.94" y="206.68" width="4.10" height="5.87" fill="url(#g6)"/>
<polygon points="324.72,212.55 324.72,210.70 326.29,208.40 326.29,210.26" fill="#e96f16"/>
<polygon points="320.62,210.70 324.72,210.70 326.29,208.40 322.20,208.40" fill="#f98937"/>
<rect x="320.62" y="210.70" width="4.10" height="1.86" fill="url(#g6)"/>
<polygon points="330.41,212.55 330.41,210.70 331.95,208.40 331.95,210.26" fill="#e96f16"/>
<polygon points="326.31,210.70 330.41,210.70 331.95,208.40 327.87,208.40" fill="#f98937"/>
<rect x="326.31" y="210.70" width="4.10" height="1.86" fill="url(#g6)"/>
<polygon points="336.10,212.55 336.10,210.70 337.62,208.40 337.62,210.26" fill="#e96f16"/>
<polygon points="332.00,210.70 336.10,210.70 337.62,208.40 333.54,208.40" fill="#f98937"/>
<rect x="332.00" y="210.70" width="4.10" height="1.86" fill="url(#g6)"/>
<polygon points="341.78,212.55 341.78,210.70 343.29,208.40 343.29,210.26" fill="#e96f16"/>
<polygon points="337.69,210.70 341.78,210.70 343.29,208.40 339.21,208.40" fill="#f98937"/>
<rect x="337.69" y="210.70" width="4.10" height="1.86" fill="url(#g6)"/>
<polygon points="347.47,212.55 347.47,170.15 348.96,168.00 348.96,210.26" fill="#e96f16"/>
<polygon points="343.38,170.15 347.47,170.15 348.96,168.00 344.88,168.00" fill="#f98937"/>
<rect x="343.38" y="170.15" width="4.10" height="42.40" fill="url(#g6)"/>
<polygon points="353.16,212.55 353.16,210.70 354.63,208.40 354.63,210.26" fill="#e96f16"/>
<polygon points="349.07,210.70 353.16,210.70 354.63,208.40 350.55,208.40" fill="#f98937"/>
<rect x="349.07" y="210.70" width="4.10" height="1.86" fill="url(#g6)"/>
<polygon points="364.54,212.55 364.54,211.20 365.96,208.90 365.96,210.26" fill="#e96f16"/>
<polygon points="360.44,211.20 364.54,211.20 365.96,208.90 361.88,208.90" fill="#f98937"/>
<rect x="360.44" y="211.20" width="4.10" height="1.36" fill="url(#g6)"/>
<polygon points="370.23,212.55 370.23,208.29 371.63,206.00 371.63,210.26" fill="#e96f16"/>
<polygon points="366.13,208.29 370.23,208.29 371.63,206.00 367.55,206.00" fill="#f98937"/>
<rect x="366.13" y="208.29" width="4.10" height="4.27" fill="url(#g6)"/>
<polygon points="387.29,212.55 387.29,211.20 388.64,208.90 388.64,210.26" fill="#e96f16"/>
<polygon points="383.20,211.20 387.29,211.20 388.64,208.90 384.56,208.90" fill="#f98937"/>
<rect x="383.20" y="211.20" width="4.10" height="1.36" fill="url(#g6)"/>
<polygon points="392.98,212.55 392.98,202.77 394.30,200.50 394.30,210.26" fill="#e96f16"/>
<polygon points="388.88,202.77 392.98,202.77 394.30,200.50 390.22,200.50" fill="#f98937"/>
<rect x="388.88" y="202.77" width="4.10" height="9.79" fill="url(#g6)"/>
<polygon points="398.67,212.55 398.67,210.70 399.97,208.40 399.97,210.26" fill="#e96f16"/>
<polygon points="394.57,210.70 398.67,210.70 399.97,208.40 395.89,208.40" fill="#f98937"/>
<rect x="394.57" y="210.70" width="4.10" height="1.86" fill="url(#g6)"/>
<polygon points="404.36,212.55 404.36,211.70 405.64,209.40 405.64,210.26" fill="#e96f16"/>
<polygon points="400.26,211.70 404.36,211.70 405.64,209.40 401.56,209.40" fill="#f98937"/>
<rect x="400.26" y="211.70" width="4.10" height="0.86" fill="url(#g6)"/>
<polygon points="410.05,212.55 410.05,209.39 411.31,207.10 411.31,210.26" fill="#e96f16"/>
<polygon points="405.95,209.39 410.05,209.39 411.31,207.10 407.23,207.10" fill="#f98937"/>
<rect x="405.95" y="209.39" width="4.10" height="3.16" fill="url(#g6)"/>
<polygon points="415.73,212.55 415.73,211.70 416.98,209.40 416.98,210.26" fill="#e96f16"/>
<polygon points="411.64,211.70 415.73,211.70 416.98,209.40 412.90,209.40" fill="#f98937"/>
<rect x="411.64" y="211.70" width="4.10" height="0.86" fill="url(#g6)"/>
<polygon points="421.42,212.55 421.42,211.70 422.65,209.40 422.65,210.26" fill="#e96f16"/>
<polygon points="417.33,211.70 421.42,211.70 422.65,209.40 418.56,209.40" fill="#f98937"/>
<rect x="417.33" y="211.70" width="4.10" height="0.86" fill="url(#g6)"/>
<polygon points="427.11,212.55 427.11,211.70 428.31,209.40 428.31,210.26" fill="#e96f16"/>
<polygon points="423.02,211.70 427.11,211.70 428.31,209.40 424.23,209.40" fill="#f98937"/>
<rect x="423.02" y="211.70" width="4.10" height="0.86" fill="url(#g6)"/>
<polygon points="432.80,212.55 432.80,211.70 433.98,209.40 433.98,210.26" fill="#e96f16"/>
<polygon points="428.70,211.70 432.80,211.70 433.98,209.40 429.90,209.40" fill="#f98937"/>
<rect x="428.70" y="211.70" width="4.10" height="0.86" fill="url(#g6)"/>
<polygon points="438.49,212.55 438.49,211.70 439.65,209.40 439.65,210.26" fill="#e96f16"/>
<polygon points="434.39,211.70 438.49,211.70 439.65,209.40 435.57,209.40" fill="#f98937"/>
<rect x="434.39" y="211.70" width="4.10" height="0.86" fill="url(#g6)"/>
<polygon points="444.18,212.55 444.18,211.20 445.32,208.90 445.32,210.26" fill="#e96f16"/>
<polygon points="440.08,211.20 444.18,211.20 445.32,208.90 441.24,208.90" fill="#f98937"/>
<rect x="440.08" y="211.20" width="4.10" height="1.36" fill="url(#g6)"/>
<polygon points="449.86,212.55 449.86,211.70 450.99,209.40 450.99,210.26" fill="#e96f16"/>
<polygon points="445.77,211.70 449.86,211.70 450.99,209.40 446.91,209.40" fill="#f98937"/>
<rect x="445.77" y="211.70" width="4.10" height="0.86" fill="url(#g6)"/>
<polygon points="455.55,212.55 455.55,211.70 456.66,209.40 456.66,210.26" fill="#e96f16"/>
<polygon points="451.46,211.70 455.55,211.70 456.66,209.40 452.57,209.40" fill="#f98937"/>
<rect x="451.46" y="211.70" width="4.10" height="0.86" fill="url(#g6)"/>
<polygon points="461.24,212.55 461.24,211.70 462.32,209.40 462.32,210.26" fill="#e96f16"/>
<polygon points="457.15,211.70 461.24,211.70 462.32,209.40 458.24,209.40" fill="#f98937"/>
<rect x="457.15" y="211.70" width="4.10" height="0.86" fill="url(#g6)"/>
<polygon points="472.62,212.55 472.62,211.70 473.66,209.40 473.66,210.26" fill="#e96f16"/>
<polygon points="468.52,211.70 472.62,211.70 473.66,209.40 469.58,209.40" fill="#f98937"/>
<rect x="468.52" y="211.70" width="4.10" height="0.86" fill="url(#g6)"/>
<polygon points="478.31,212.55 478.31,209.69 479.33,207.40 479.33,210.26" fill="#e96f16"/>
<polygon points="474.21,209.69 478.31,209.69 479.33,207.40 475.25,207.40" fill="#f98937"/>
<rect x="474.21" y="209.69" width="4.10" height="2.86" fill="url(#g6)"/>
<polygon points="483.99,212.55 483.99,211.70 485.00,209.40 485.00,210.26" fill="#e96f16"/>
<polygon points="479.90,211.70 483.99,211.70 485.00,209.40 480.92,209.40" fill="#f98937"/>
<rect x="479.90" y="211.70" width="4.10" height="0.86" fill="url(#g6)"/>
<polygon points="489.68,212.55 489.68,211.70 490.66,209.40 490.66,210.26" fill="#e96f16"/>
<polygon points="485.59,211.70 489.68,211.70 490.66,209.40 486.58,209.40" fill="#f98937"/>
<rect x="485.59" y="211.70" width="4.10" height="0.86" fill="url(#g6)"/>
<polygon points="198.27,234.23 198.27,232.95 200.35,230.50 200.35,231.78" fill="#15a535"/>
<polygon points="194.04,232.95 198.27,232.95 200.35,230.50 196.14,230.50" fill="#34bf51"/>
<rect x="194.04" y="232.95" width="4.23" height="1.28" fill="url(#g5)"/>
<polygon points="204.15,234.23 204.15,232.95 206.21,230.50 206.21,231.78" fill="#15a535"/>
<polygon points="199.92,232.95 204.15,232.95 206.21,230.50 201.99,230.50" fill="#34bf51"/>
<rect x="199.92" y="232.95" width="4.23" height="1.28" fill="url(#g5)"/>
<polygon points="210.03,234.23 210.03,230.85 212.07,228.40 212.07,231.78" fill="#15a535"/>
<polygon points="205.80,230.85 210.03,230.85 212.07,228.40 207.85,228.40" fill="#34bf51"/>
<rect x="205.80" y="230.85" width="4.23" height="3.39" fill="url(#g5)"/>
<polygon points="215.91,234.23 215.91,232.95 217.92,230.50 217.92,231.78" fill="#15a535"/>
<polygon points="211.67,232.95 215.91,232.95 217.92,230.50 213.71,230.50" fill="#34bf51"/>
<rect x="211.67" y="232.95" width="4.23" height="1.28" fill="url(#g5)"/>
<polygon points="227.66,234.23 227.66,232.95 229.64,230.50 229.64,231.78" fill="#15a535"/>
<polygon points="223.43,232.95 227.66,232.95 229.64,230.50 225.42,230.50" fill="#34bf51"/>
<rect x="223.43" y="232.95" width="4.23" height="1.28" fill="url(#g5)"/>
<polygon points="233.54,234.23 233.54,232.95 235.49,230.50 235.49,231.78" fill="#15a535"/>
<polygon points="229.31,232.95 233.54,232.95 235.49,230.50 231.28,230.50" fill="#34bf51"/>
<rect x="229.31" y="232.95" width="4.23" height="1.28" fill="url(#g5)"/>
<polygon points="245.30,234.23 245.30,232.95 247.21,230.50 247.21,231.78" fill="#15a535"/>
<polygon points="241.07,232.95 245.30,232.95 247.21,230.50 242.99,230.50" fill="#34bf51"/>
<rect x="241.07" y="232.95" width="4.23" height="1.28" fill="url(#g5)"/>
<polygon points="251.18,234.23 251.18,232.45 253.06,230.00 253.06,231.78" fill="#15a535"/>
<polygon points="246.94,232.45 251.18,232.45 253.06,230.00 248.85,230.00" fill="#34bf51"/>
<rect x="246.94" y="232.45" width="4.23" height="1.78" fill="url(#g5)"/>
<polygon points="257.05,234.23 257.05,130.78 258.92,128.70 258.92,231.78" fill="#15a535"/>
<polygon points="252.82,130.78 257.05,130.78 258.92,128.70 254.70,128.70" fill="#34bf51"/>
<rect x="252.82" y="130.78" width="4.23" height="103.45" fill="url(#g5)"/>
<polygon points="262.93,234.23 262.93,230.85 264.78,228.40 264.78,231.78" fill="#15a535"/>
<polygon points="258.70,230.85 262.93,230.85 264.78,228.40 260.56,228.40" fill="#34bf51"/>
<rect x="258.70" y="230.85" width="4.23" height="3.39" fill="url(#g5)"/>
<polygon points="268.81,234.23 268.81,230.85 270.63,228.40 270.63,231.78" fill="#15a535"/>
<polygon points="264.58,230.85 268.81,230.85 270.63,228.40 266.42,228.40" fill="#34bf51"/>
<rect x="264.58" y="230.85" width="4.23" height="3.39" fill="url(#g5)"/>
<polygon points="274.69,234.23 274.69,232.45 276.49,230.00 276.49,231.78" fill="#15a535"/>
<polygon points="270.46,232.45 274.69,232.45 276.49,230.00 272.27,230.00" fill="#34bf51"/>
<rect x="270.46" y="232.45" width="4.23" height="1.78" fill="url(#g5)"/>
<polygon points="280.57,234.23 280.57,232.45 282.35,230.00 282.35,231.78" fill="#15a535"/>
<polygon points="276.34,232.45 280.57,232.45 282.35,230.00 278.13,230.00" fill="#34bf51"/>
<rect x="276.34" y="232.45" width="4.23" height="1.78" fill="url(#g5)"/>
<polygon points="286.45,234.23 286.45,209.07 288.20,206.70 288.20,231.78" fill="#15a535"/>
<polygon points="282.21,209.07 286.45,209.07 288.20,206.70 283.99,206.70" fill="#34bf51"/>
<rect x="282.21" y="209.07" width="4.23" height="25.17" fill="url(#g5)"/>
<polygon points="292.32,234.23 292.32,162.90 294.06,160.70 294.06,231.78" fill="#15a535"/>
<polygon points="288.09,162.90 292.32,162.90 294.06,160.70 289.84,160.70" fill="#34bf51"/>
<rect x="288.09" y="162.90" width="4.23" height="71.34" fill="url(#g5)"/>
<polygon points="298.20,234.23 298.20,232.45 299.92,230.00 299.92,231.78" fill="#15a535"/>
<polygon points="293.97,232.45 298.20,232.45 299.92,230.00 295.70,230.00" fill="#34bf51"/>
<rect x="293.97" y="232.45" width="4.23" height="1.78" fill="url(#g5)"/>
<polygon points="304.08,234.23 304.08,177.75 305.77,175.50 305.77,231.78" fill="#15a535"/>
<polygon points="299.85,177.75 304.08,177.75 305.77,175.50 301.56,175.50" fill="#34bf51"/>
<rect x="299.85" y="177.75" width="4.23" height="56.48" fill="url(#g5)"/>
<polygon points="309.96,234.23 309.96,183.17 311.63,180.90 311.63,231.78" fill="#15a535"/>
<polygon points="305.73,183.17 309.96,183.17 311.63,180.90 307.41,180.90" fill="#34bf51"/>
<rect x="305.73" y="183.17" width="4.23" height="51.06" fill="url(#g5)"/>
<polygon points="315.84,234.23 315.84,232.95 317.49,230.50 317.49,231.78" fill="#15a535"/>
<polygon points="311.60,232.95 315.84,232.95 317.49,230.50 313.27,230.50" fill="#34bf51"/>
<rect x="311.60" y="232.95" width="4.23" height="1.28" fill="url(#g5)"/>
<polygon points="321.72,234.23 321.72,232.45 323.34,230.00 323.34,231.78" fill="#15a535"/>
<polygon points="317.48,232.45 321.72,232.45 323.34,230.00 319.13,230.00" fill="#34bf51"/>
<rect x="317.48" y="232.45" width="4.23" height="1.78" fill="url(#g5)"/>
<polygon points="327.59,234.23 327.59,230.85 329.20,228.40 329.20,231.78" fill="#15a535"/>
<polygon points="323.36,230.85 327.59,230.85 329.20,228.40 324.98,228.40" fill="#34bf51"/>
<rect x="323.36" y="230.85" width="4.23" height="3.39" fill="url(#g5)"/>
<polygon points="333.47,234.23 333.47,146.84 335.06,144.70 335.06,231.78" fill="#15a535"/>
<polygon points="329.24,146.84 333.47,146.84 335.06,144.70 330.84,144.70" fill="#34bf51"/>
<rect x="329.24" y="146.84" width="4.23" height="87.39" fill="url(#g5)"/>
<polygon points="339.35,234.23 339.35,223.12 340.91,220.70 340.91,231.78" fill="#15a535"/>
<polygon points="335.12,223.12 339.35,223.12 340.91,220.70 336.70,220.70" fill="#34bf51"/>
<rect x="335.12" y="223.12" width="4.23" height="11.12" fill="url(#g5)"/>
<polygon points="351.11,234.23 351.11,127.87 352.63,125.80 352.63,231.78" fill="#15a535"/>
<polygon points="346.87,127.87 351.11,127.87 352.63,125.80 348.41,125.80" fill="#34bf51"/>
<rect x="346.87" y="127.87" width="4.23" height="106.36" fill="url(#g5)"/>
<polygon points="356.98,234.23 356.98,228.64 358.48,226.20 358.48,231.78" fill="#15a535"/>
<polygon points="352.75,228.64 356.98,228.64 358.48,226.20 354.27,226.20" fill="#34bf51"/>
<rect x="352.75" y="228.64" width="4.23" height="5.60" fill="url(#g5)"/>
<polygon points="368.74,234.23 368.74,229.94 370.20,227.50 370.20,231.78" fill="#15a535"/>
<polygon points="364.51,229.94 368.74,229.94 370.20,227.50 365.98,227.50" fill="#34bf51"/>
<rect x="364.51" y="229.94" width="4.23" height="4.29" fill="url(#g5)"/>
<polygon points="374.62,234.23 374.62,232.95 376.05,230.50 376.05,231.78" fill="#15a535"/>
<polygon points="370.39,232.95 374.62,232.95 376.05,230.50 371.84,230.50" fill="#34bf51"/>
<rect x="370.39" y="232.95" width="4.23" height="1.28" fill="url(#g5)"/>
<polygon points="380.50,234.23 380.50,161.49 381.91,159.30 381.91,231.78" fill="#15a535"/>
<polygon points="376.27,161.49 380.50,161.49 381.91,159.30 377.69,159.30" fill="#34bf51"/>
<rect x="376.27" y="161.49" width="4.23" height="72.74" fill="url(#g5)"/>
<polygon points="386.38,234.23 386.38,232.95 387.77,230.50 387.77,231.78" fill="#15a535"/>
<polygon points="382.14,232.95 386.38,232.95 387.77,230.50 383.55,230.50" fill="#34bf51"/>
<rect x="382.14" y="232.95" width="4.23" height="1.28" fill="url(#g5)"/>
<polygon points="392.25,234.23 392.25,232.45 393.63,230.00 393.63,231.78" fill="#15a535"/>
<polygon points="388.02,232.45 392.25,232.45 393.63,230.00 389.41,230.00" fill="#34bf51"/>
<rect x="388.02" y="232.45" width="4.23" height="1.78" fill="url(#g5)"/>
<polygon points="398.13,234.23 398.13,228.44 399.48,226.00 399.48,231.78" fill="#15a535"/>
<polygon points="393.90,228.44 398.13,228.44 399.48,226.00 395.26,226.00" fill="#34bf51"/>
<rect x="393.90" y="228.44" width="4.23" height="5.80" fill="url(#g5)"/>
<polygon points="404.01,234.23 404.01,232.95 405.34,230.50 405.34,231.78" fill="#15a535"/>
<polygon points="399.78,232.95 404.01,232.95 405.34,230.50 401.12,230.50" fill="#34bf51"/>
<rect x="399.78" y="232.95" width="4.23" height="1.28" fill="url(#g5)"/>
<polygon points="409.89,234.23 409.89,232.45 411.20,230.00 411.20,231.78" fill="#15a535"/>
<polygon points="405.66,232.45 409.89,232.45 411.20,230.00 406.98,230.00" fill="#34bf51"/>
<rect x="405.66" y="232.45" width="4.23" height="1.78" fill="url(#g5)"/>
<polygon points="415.77,234.23 415.77,232.95 417.05,230.50 417.05,231.78" fill="#15a535"/>
<polygon points="411.53,232.95 415.77,232.95 417.05,230.50 412.84,230.50" fill="#34bf51"/>
<rect x="411.53" y="232.95" width="4.23" height="1.28" fill="url(#g5)"/>
<polygon points="421.65,234.23 421.65,232.45 422.91,230.00 422.91,231.78" fill="#15a535"/>
<polygon points="417.41,232.45 421.65,232.45 422.91,230.00 418.69,230.00" fill="#34bf51"/>
<rect x="417.41" y="232.45" width="4.23" height="1.78" fill="url(#g5)"/>
<polygon points="427.52,234.23 427.52,232.95 428.77,230.50 428.77,231.78" fill="#15a535"/>
<polygon points="423.29,232.95 427.52,232.95 428.77,230.50 424.55,230.50" fill="#34bf51"/>
<rect x="423.29" y="232.95" width="4.23" height="1.28" fill="url(#g5)"/>
<polygon points="433.40,234.23 433.40,232.45 434.62,230.00 434.62,231.78" fill="#15a535"/>
<polygon points="429.17,232.45 433.40,232.45 434.62,230.00 430.41,230.00" fill="#34bf51"/>
<rect x="429.17" y="232.45" width="4.23" height="1.78" fill="url(#g5)"/>
<polygon points="439.28,234.23 439.28,232.45 440.48,230.00 440.48,231.78" fill="#15a535"/>
<polygon points="435.05,232.45 439.28,232.45 440.48,230.00 436.26,230.00" fill="#34bf51"/>
<rect x="435.05" y="232.45" width="4.23" height="1.78" fill="url(#g5)"/>
<polygon points="445.16,234.23 445.16,232.95 446.34,230.50 446.34,231.78" fill="#15a535"/>
<polygon points="440.93,232.95 445.16,232.95 446.34,230.50 442.12,230.50" fill="#34bf51"/>
<rect x="440.93" y="232.95" width="4.23" height="1.28" fill="url(#g5)"/>
<polygon points="451.04,234.23 451.04,232.95 452.19,230.50 452.19,231.78" fill="#15a535"/>
<polygon points="446.80,232.95 451.04,232.95 452.19,230.50 447.98,230.50" fill="#34bf51"/>
<rect x="446.80" y="232.95" width="4.23" height="1.28" fill="url(#g5)"/>
<polygon points="462.79,234.23 462.79,232.95 463.91,230.50 463.91,231.78" fill="#15a535"/>
<polygon points="458.56,232.95 462.79,232.95 463.91,230.50 459.69,230.50" fill="#34bf51"/>
<rect x="458.56" y="232.95" width="4.23" height="1.28" fill="url(#g5)"/>
<polygon points="468.67,234.23 468.67,229.74 469.76,227.30 469.76,231.78" fill="#15a535"/>
<polygon points="464.44,229.74 468.67,229.74 469.76,227.30 465.55,227.30" fill="#34bf51"/>
<rect x="464.44" y="229.74" width="4.23" height="4.49" fill="url(#g5)"/>
<polygon points="474.55,234.23 474.55,232.95 475.62,230.50 475.62,231.78" fill="#15a535"/>
<polygon points="470.32,232.95 474.55,232.95 475.62,230.50 471.40,230.50" fill="#34bf51"/>
<rect x="470.32" y="232.95" width="4.23" height="1.28" fill="url(#g5)"/>
<polygon points="480.43,234.23 480.43,232.95 481.48,230.50 481.48,231.78" fill="#15a535"/>
<polygon points="476.20,232.95 480.43,232.95 481.48,230.50 477.26,230.50" fill="#34bf51"/>
<rect x="476.20" y="232.95" width="4.23" height="1.28" fill="url(#g5)"/>
<polygon points="172.56,257.41 172.56,256.72 174.80,254.09 174.80,254.78" fill="#81549c"/>
<polygon points="168.18,256.72 172.56,256.72 174.80,254.09 170.44,254.09" fill="#9a6db4"/>
<rect x="168.18" y="256.72" width="4.38" height="0.69" fill="url(#g4)"/>
<polygon points="184.72,257.41 184.72,256.21 186.92,253.59 186.92,254.78" fill="#81549c"/>
<polygon points="180.34,256.21 184.72,256.21 186.92,253.59 182.56,253.59" fill="#9a6db4"/>
<rect x="180.34" y="256.21" width="4.38" height="1.19" fill="url(#g4)"/>
<polygon points="190.80,257.41 190.80,252.70 192.98,250.09 192.98,254.78" fill="#81549c"/>
<polygon points="186.42,252.70 190.80,252.70 192.98,250.09 188.62,250.09" fill="#9a6db4"/>
<rect x="186.42" y="252.70" width="4.38" height="4.71" fill="url(#g4)"/>
<polygon points="196.88,257.41 196.88,256.21 199.04,253.59 199.04,254.78" fill="#81549c"/>
<polygon points="192.50,256.21 196.88,256.21 199.04,253.59 194.68,253.59" fill="#9a6db4"/>
<rect x="192.50" y="256.21" width="4.38" height="1.19" fill="url(#g4)"/>
<polygon points="202.96,257.41 202.96,254.71 205.10,252.09 205.10,254.78" fill="#81549c"/>
<polygon points="198.58,254.71 202.96,254.71 205.10,252.09 200.73,252.09" fill="#9a6db4"/>
<rect x="198.58" y="254.71" width="4.38" height="2.70" fill="url(#g4)"/>
<polygon points="209.04,257.41 209.04,256.21 211.15,253.59 211.15,254.78" fill="#81549c"/>
<polygon points="204.66,256.21 209.04,256.21 211.15,253.59 206.79,253.59" fill="#9a6db4"/>
<rect x="204.66" y="256.21" width="4.38" height="1.19" fill="url(#g4)"/>
<polygon points="215.12,257.41 215.12,256.21 217.21,253.59 217.21,254.78" fill="#81549c"/>
<polygon points="210.75,256.21 215.12,256.21 217.21,253.59 212.85,253.59" fill="#9a6db4"/>
<rect x="210.75" y="256.21" width="4.38" height="1.19" fill="url(#g4)"/>
<polygon points="227.29,257.41 227.29,256.21 229.33,253.59 229.33,254.78" fill="#81549c"/>
<polygon points="222.91,256.21 227.29,256.21 229.33,253.59 224.97,253.59" fill="#9a6db4"/>
<rect x="222.91" y="256.21" width="4.38" height="1.19" fill="url(#g4)"/>
<polygon points="233.37,257.41 233.37,256.21 235.39,253.59 235.39,254.78" fill="#81549c"/>
<polygon points="228.99,256.21 233.37,256.21 235.39,253.59 231.02,253.59" fill="#9a6db4"/>
<rect x="228.99" y="256.21" width="4.38" height="1.19" fill="url(#g4)"/>
<polygon points="239.45,257.41 239.45,162.76 241.44,160.49 241.44,254.78" fill="#81549c"/>
<polygon points="235.07,162.76 239.45,162.76 241.44,160.49 237.08,160.49" fill="#9a6db4"/>
<rect x="235.07" y="162.76" width="4.38" height="94.65" fill="url(#g4)"/>
<polygon points="245.53,257.41 245.53,256.21 247.50,253.59 247.50,254.78" fill="#81549c"/>
<polygon points="241.15,256.21 245.53,256.21 247.50,253.59 243.14,253.59" fill="#9a6db4"/>
<rect x="241.15" y="256.21" width="4.38" height="1.19" fill="url(#g4)"/>
<polygon points="263.77,257.41 263.77,255.71 265.68,253.09 265.68,254.78" fill="#81549c"/>
<polygon points="259.39,255.71 263.77,255.71 265.68,253.09 261.32,253.09" fill="#9a6db4"/>
<rect x="259.39" y="255.71" width="4.38" height="1.70" fill="url(#g4)"/>
<polygon points="269.85,257.41 269.85,246.18 271.74,243.59 271.74,254.78" fill="#81549c"/>
<polygon points="265.48,246.18 269.85,246.18 271.74,243.59 267.37,243.59" fill="#9a6db4"/>
<rect x="265.48" y="246.18" width="4.38" height="11.23" fill="url(#g4)"/>
<polygon points="275.94,257.41 275.94,199.30 277.79,196.89 277.79,254.78" fill="#81549c"/>
<polygon points="271.56,199.30 275.94,199.30 277.79,196.89 273.43,196.89" fill="#9a6db4"/>
<rect x="271.56" y="199.30" width="4.38" height="58.11" fill="url(#g4)"/>
<polygon points="282.02,257.41 282.02,249.49 283.85,246.89 283.85,254.78" fill="#81549c"/>
<polygon points="277.64,249.49 282.02,249.49 283.85,246.89 279.49,246.89" fill="#9a6db4"/>
<rect x="277.64" y="249.49" width="4.38" height="7.92" fill="url(#g4)"/>
<polygon points="288.10,257.41 288.10,250.69 289.91,248.09 289.91,254.78" fill="#81549c"/>
<polygon points="283.72,250.69 288.10,250.69 289.91,248.09 285.55,248.09" fill="#9a6db4"/>
<rect x="283.72" y="250.69" width="4.38" height="6.71" fill="url(#g4)"/>
<polygon points="294.18,257.41 294.18,248.69 295.97,246.09 295.97,254.78" fill="#81549c"/>
<polygon points="289.80,248.69 294.18,248.69 295.97,246.09 291.61,246.09" fill="#9a6db4"/>
<rect x="289.80" y="248.69" width="4.38" height="8.72" fill="url(#g4)"/>
<polygon points="306.34,257.41 306.34,250.69 308.08,248.09 308.08,254.78" fill="#81549c"/>
<polygon points="301.96,250.69 306.34,250.69 308.08,248.09 303.72,248.09" fill="#9a6db4"/>
<rect x="301.96" y="250.69" width="4.38" height="6.71" fill="url(#g4)"/>
<polygon points="312.42,257.41 312.42,249.69 314.14,247.09 314.14,254.78" fill="#81549c"/>
<polygon points="308.04,249.69 312.42,249.69 314.14,247.09 309.78,247.09" fill="#9a6db4"/>
<rect x="308.04" y="249.69" width="4.38" height="7.72" fill="url(#g4)"/>
<polygon points="318.50,257.41 318.50,200.20 320.20,197.79 320.20,254.78" fill="#81549c"/>
<polygon points="314.13,200.20 318.50,200.20 320.20,197.79 315.84,197.79" fill="#9a6db4"/>
<rect x="314.13" y="200.20" width="4.38" height="57.21" fill="url(#g4)"/>
<polygon points="324.58,257.41 324.58,246.18 326.26,243.59 326.26,254.78" fill="#81549c"/>
<polygon points="320.21,246.18 324.58,246.18 326.26,243.59 321.90,243.59" fill="#9a6db4"/>
<rect x="320.21" y="246.18" width="4.38" height="11.23" fill="url(#g4)"/>
<polygon points="336.75,257.41 336.75,250.69 338.38,248.09 338.38,254.78" fill="#81549c"/>
<polygon points="332.37,250.69 336.75,250.69 338.38,248.09 334.01,248.09" fill="#9a6db4"/>
<rect x="332.37" y="250.69" width="4.38" height="6.71" fill="url(#g4)"/>
<polygon points="342.83,257.41 342.83,246.18 344.43,243.59 344.43,254.78" fill="#81549c"/>
<polygon points="338.45,246.18 342.83,246.18 344.43,243.59 340.07,243.59" fill="#9a6db4"/>
<rect x="338.45" y="246.18" width="4.38" height="11.23" fill="url(#g4)"/>
<polygon points="348.91,257.41 348.91,249.69 350.49,247.09 350.49,254.78" fill="#81549c"/>
<polygon points="344.53,249.69 348.91,249.69 350.49,247.09 346.13,247.09" fill="#9a6db4"/>
<rect x="344.53" y="249.69" width="4.38" height="7.72" fill="url(#g4)"/>
<polygon points="354.99,257.41 354.99,251.70 356.55,249.09 356.55,254.78" fill="#81549c"/>
<polygon points="350.61,251.70 354.99,251.70 356.55,249.09 352.19,249.09" fill="#9a6db4"/>
<rect x="350.61" y="251.70" width="4.38" height="5.71" fill="url(#g4)"/>
<polygon points="361.07,257.41 361.07,253.71 362.61,251.09 362.61,254.78" fill="#81549c"/>
<polygon points="356.69,253.71 361.07,253.71 362.61,251.09 358.25,251.09" fill="#9a6db4"/>
<rect x="356.69" y="253.71" width="4.38" height="3.70" fill="url(#g4)"/>
<polygon points="367.15,257.41 367.15,242.96 368.67,240.39 368.67,254.78" fill="#81549c"/>
<polygon points="362.77,242.96 367.15,242.96 368.67,240.39 364.30,240.39" fill="#9a6db4"/>
<rect x="362.77" y="242.96" width="4.38" height="14.44" fill="url(#g4)"/>
<polygon points="373.23,257.41 373.23,252.70 374.72,250.09 374.72,254.78" fill="#81549c"/>
<polygon points="368.86,252.70 373.23,252.70 374.72,250.09 370.36,250.09" fill="#9a6db4"/>
<rect x="368.86" y="252.70" width="4.38" height="4.71" fill="url(#g4)"/>
<polygon points="379.32,257.41 379.32,255.71 380.78,253.09 380.78,254.78" fill="#81549c"/>
<polygon points="374.94,255.71 379.32,255.71 380.78,253.09 376.42,253.09" fill="#9a6db4"/>
<rect x="374.94" y="255.71" width="4.38" height="1.70" fill="url(#g4)"/>
<polygon points="385.40,257.41 385.40,255.71 386.84,253.09 386.84,254.78" fill="#81549c"/>
<polygon points="381.02,255.71 385.40,255.71 386.84,253.09 382.48,253.09" fill="#9a6db4"/>
<rect x="381.02" y="255.71" width="4.38" height="1.70" fill="url(#g4)"/>
<polygon points="391.48,257.41 391.48,255.71 392.90,253.09 392.90,254.78" fill="#81549c"/>
<polygon points="387.10,255.71 391.48,255.71 392.90,253.09 388.54,253.09" fill="#9a6db4"/>
<rect x="387.10" y="255.71" width="4.38" height="1.70" fill="url(#g4)"/>
<polygon points="397.56,257.41 397.56,255.71 398.96,253.09 398.96,254.78" fill="#81549c"/>
<polygon points="393.18,255.71 397.56,255.71 398.96,253.09 394.60,253.09" fill="#9a6db4"/>
<rect x="393.18" y="255.71" width="4.38" height="1.70" fill="url(#g4)"/>
<polygon points="409.72,257.41 409.72,256.21 411.07,253.59 411.07,254.78" fill="#81549c"/>
<polygon points="405.34,256.21 409.72,256.21 411.07,253.59 406.71,253.59" fill="#9a6db4"/>
<rect x="405.34" y="256.21" width="4.38" height="1.19" fill="url(#g4)"/>
<polygon points="415.80,257.41 415.80,254.71 417.13,252.09 417.13,254.78" fill="#81549c"/>
<polygon points="411.42,254.71 415.80,254.71 417.13,252.09 412.77,252.09" fill="#9a6db4"/>
<rect x="411.42" y="254.71" width="4.38" height="2.70" fill="url(#g4)"/>
<polygon points="421.88,257.41 421.88,256.21 423.19,253.59 423.19,254.78" fill="#81549c"/>
<polygon points="417.51,256.21 421.88,256.21 423.19,253.59 418.83,253.59" fill="#9a6db4"/>
<rect x="417.51" y="256.21" width="4.38" height="1.19" fill="url(#g4)"/>
<polygon points="427.97,257.41 427.97,256.21 429.25,253.59 429.25,254.78" fill="#81549c"/>
<polygon points="423.59,256.21 427.97,256.21 429.25,253.59 424.89,253.59" fill="#9a6db4"/>
<rect x="423.59" y="256.21" width="4.38" height="1.19" fill="url(#g4)"/>
<polygon points="434.05,257.41 434.05,256.21 435.31,253.59 435.31,254.78" fill="#81549c"/>
<polygon points="429.67,256.21 434.05,256.21 435.31,253.59 430.94,253.59" fill="#9a6db4"/>
<rect x="429.67" y="256.21" width="4.38" height="1.19" fill="url(#g4)"/>
<polygon points="440.13,257.41 440.13,256.21 441.36,253.59 441.36,254.78" fill="#81549c"/>
<polygon points="435.75,256.21 440.13,256.21 441.36,253.59 437.00,253.59" fill="#9a6db4"/>
<rect x="435.75" y="256.21" width="4.38" height="1.19" fill="url(#g4)"/>
<polygon points="446.21,257.41 446.21,256.21 447.42,253.59 447.42,254.78" fill="#81549c"/>
<polygon points="441.83,256.21 446.21,256.21 447.42,253.59 443.06,253.59" fill="#9a6db4"/>
<rect x="441.83" y="256.21" width="4.38" height="1.19" fill="url(#g4)"/>
<polygon points="452.29,257.41 452.29,256.21 453.48,253.59 453.48,254.78" fill="#81549c"/>
<polygon points="447.91,256.21 452.29,256.21 453.48,253.59 449.12,253.59" fill="#9a6db4"/>
<rect x="447.91" y="256.21" width="4.38" height="1.19" fill="url(#g4)"/>
<polygon points="458.37,257.41 458.37,256.21 459.54,253.59 459.54,254.78" fill="#81549c"/>
<polygon points="453.99,256.21 458.37,256.21 459.54,253.59 455.18,253.59" fill="#9a6db4"/>
<rect x="453.99" y="256.21" width="4.38" height="1.19" fill="url(#g4)"/>
<polygon points="464.45,257.41 464.45,256.21 465.60,253.59 465.60,254.78" fill="#81549c"/>
<polygon points="460.07,256.21 464.45,256.21 465.60,253.59 461.24,253.59" fill="#9a6db4"/>
<rect x="460.07" y="256.21" width="4.38" height="1.19" fill="url(#g4)"/>
<polygon points="470.53,257.41 470.53,256.21 471.66,253.59 471.66,254.78" fill="#81549c"/>
<polygon points="466.16,256.21 470.53,256.21 471.66,253.59 467.29,253.59" fill="#9a6db4"/>
<rect x="466.16" y="256.21" width="4.38" height="1.19" fill="url(#g4)"/>
<polygon points="163.89,282.24 163.89,281.54 166.26,278.72 166.26,279.42" fill="#eca1bd"/>
<polygon points="159.36,281.54 163.89,281.54 166.26,278.72 161.74,278.72" fill="#f6bbd0"/>
<rect x="159.36" y="281.54" width="4.54" height="0.70" fill="url(#g3)"/>
<polygon points="170.19,282.24 170.19,280.64 172.53,277.83 172.53,279.42" fill="#eca1bd"/>
<polygon points="165.66,280.64 170.19,280.64 172.53,277.83 168.01,277.83" fill="#f6bbd0"/>
<rect x="165.66" y="280.64" width="4.54" height="1.60" fill="url(#g3)"/>
<polygon points="182.79,282.24 182.79,276.63 185.08,273.83 185.08,279.42" fill="#eca1bd"/>
<polygon points="178.26,276.63 182.79,276.63 185.08,273.83 180.56,273.83" fill="#f6bbd0"/>
<rect x="178.26" y="276.63" width="4.54" height="5.62" fill="url(#g3)"/>
<polygon points="189.09,282.24 189.09,280.64 191.35,277.83 191.35,279.42" fill="#eca1bd"/>
<polygon points="184.55,280.64 189.09,280.64 191.35,277.83 186.84,277.83" fill="#f6bbd0"/>
<rect x="184.55" y="280.64" width="4.54" height="1.60" fill="url(#g3)"/>
<polygon points="207.99,282.24 207.99,281.14 210.18,278.33 210.18,279.42" fill="#eca1bd"/>
<polygon points="203.45,281.14 207.99,281.14 210.18,278.33 205.66,278.33" fill="#f6bbd0"/>
<rect x="203.45" y="281.14" width="4.54" height="1.10" fill="url(#g3)"/>
<polygon points="214.28,282.24 214.28,281.14 216.45,278.33 216.45,279.42" fill="#eca1bd"/>
<polygon points="209.75,281.14 214.28,281.14 216.45,278.33 211.93,278.33" fill="#f6bbd0"/>
<rect x="209.75" y="281.14" width="4.54" height="1.10" fill="url(#g3)"/>
<polygon points="220.58,282.24 220.58,204.44 222.72,201.93 222.72,279.42" fill="#eca1bd"/>
<polygon points="216.05,204.44 220.58,204.44 222.72,201.93 218.21,201.93" fill="#f6bbd0"/>
<rect x="216.05" y="204.44" width="4.54" height="77.80" fill="url(#g3)"/>
<polygon points="226.88,282.24 226.88,281.14 229.00,278.33 229.00,279.42" fill="#eca1bd"/>
<polygon points="222.35,281.14 226.88,281.14 229.00,278.33 224.48,278.33" fill="#f6bbd0"/>
<rect x="222.35" y="281.14" width="4.54" height="1.10" fill="url(#g3)"/>
<polygon points="245.78,282.24 245.78,281.14 247.82,278.33 247.82,279.42" fill="#eca1bd"/>
<polygon points="241.24,281.14 245.78,281.14 247.82,278.33 243.30,278.33" fill="#f6bbd0"/>
<rect x="241.24" y="281.14" width="4.54" height="1.10" fill="url(#g3)"/>
<polygon points="252.08,282.24 252.08,275.32 254.09,272.53 254.09,279.42" fill="#eca1bd"/>
<polygon points="247.54,275.32 252.08,275.32 254.09,272.53 249.58,272.53" fill="#f6bbd0"/>
<rect x="247.54" y="275.32" width="4.54" height="6.92" fill="url(#g3)"/>
<polygon points="258.37,282.24 258.37,202.23 260.37,199.73 260.37,279.42" fill="#eca1bd"/>
<polygon points="253.84,202.23 258.37,202.23 260.37,199.73 255.85,199.73" fill="#f6bbd0"/>
<rect x="253.84" y="202.23" width="4.54" height="80.01" fill="url(#g3)"/>
<polygon points="264.67,282.24 264.67,281.14 266.64,278.33 266.64,279.42" fill="#eca1bd"/>
<polygon points="260.14,281.14 264.67,281.14 266.64,278.33 262.12,278.33" fill="#f6bbd0"/>
<rect x="260.14" y="281.14" width="4.54" height="1.10" fill="url(#g3)"/>
<polygon points="270.97,282.24 270.97,275.32 272.92,272.53 272.92,279.42" fill="#eca1bd"/>
<polygon points="266.44,275.32 270.97,275.32 272.92,272.53 268.40,272.53" fill="#f6bbd0"/>
<rect x="266.44" y="275.32" width="4.54" height="6.92" fill="url(#g3)"/>
<polygon points="277.27,282.24 277.27,275.32 279.19,272.53 279.19,279.42" fill="#eca1bd"/>
<polygon points="272.74,275.32 277.27,275.32 279.19,272.53 274.67,272.53" fill="#f6bbd0"/>
<rect x="272.74" y="275.32" width="4.54" height="6.92" fill="url(#g3)"/>
<polygon points="283.57,282.24 283.57,281.14 285.46,278.33 285.46,279.42" fill="#eca1bd"/>
<polygon points="279.03,281.14 283.57,281.14 285.46,278.33 280.95,278.33" fill="#f6bbd0"/>
<rect x="279.03" y="281.14" width="4.54" height="1.10" fill="url(#g3)"/>
<polygon points="296.17,282.24 296.17,281.14 298.01,278.33 298.01,279.42" fill="#eca1bd"/>
<polygon points="291.63,281.14 296.17,281.14 298.01,278.33 293.49,278.33" fill="#f6bbd0"/>
<rect x="291.63" y="281.14" width="4.54" height="1.10" fill="url(#g3)"/>
<polygon points="308.76,282.24 308.76,281.14 310.56,278.33 310.56,279.42" fill="#eca1bd"/>
<polygon points="304.23,281.14 308.76,281.14 310.56,278.33 306.04,278.33" fill="#f6bbd0"/>
<rect x="304.23" y="281.14" width="4.54" height="1.10" fill="url(#g3)"/>
<polygon points="321.36,282.24 321.36,281.14 323.11,278.33 323.11,279.42" fill="#eca1bd"/>
<polygon points="316.83,281.14 321.36,281.14 323.11,278.33 318.59,278.33" fill="#f6bbd0"/>
<rect x="316.83" y="281.14" width="4.54" height="1.10" fill="url(#g3)"/>
<polygon points="327.66,282.24 327.66,280.64 329.38,277.83 329.38,279.42" fill="#eca1bd"/>
<polygon points="323.12,280.64 327.66,280.64 329.38,277.83 324.86,277.83" fill="#f6bbd0"/>
<rect x="323.12" y="280.64" width="4.54" height="1.60" fill="url(#g3)"/>
<polygon points="333.96,282.24 333.96,281.14 335.66,278.33 335.66,279.42" fill="#eca1bd"/>
<polygon points="329.42,281.14 333.96,281.14 335.66,278.33 331.14,278.33" fill="#f6bbd0"/>
<rect x="329.42" y="281.14" width="4.54" height="1.10" fill="url(#g3)"/>
<polygon points="340.26,282.24 340.26,281.14 341.93,278.33 341.93,279.42" fill="#eca1bd"/>
<polygon points="335.72,281.14 340.26,281.14 341.93,278.33 337.41,278.33" fill="#f6bbd0"/>
<rect x="335.72" y="281.14" width="4.54" height="1.10" fill="url(#g3)"/>
<polygon points="352.85,282.24 352.85,265.58 354.48,262.83 354.48,279.42" fill="#eca1bd"/>
<polygon points="348.32,265.58 352.85,265.58 354.48,262.83 349.96,262.83" fill="#f6bbd0"/>
<rect x="348.32" y="265.58" width="4.54" height="16.66" fill="url(#g3)"/>
<polygon points="359.15,282.24 359.15,281.54 360.75,278.72 360.75,279.42" fill="#eca1bd"/>
<polygon points="354.62,281.54 359.15,281.54 360.75,278.72 356.23,278.72" fill="#f6bbd0"/>
<rect x="354.62" y="281.54" width="4.54" height="0.70" fill="url(#g3)"/>
<polygon points="365.45,282.24 365.45,281.54 367.03,278.72 367.03,279.42" fill="#eca1bd"/>
<polygon points="360.92,281.54 365.45,281.54 367.03,278.72 362.51,278.72" fill="#f6bbd0"/>
<rect x="360.92" y="281.54" width="4.54" height="0.70" fill="url(#g3)"/>
<polygon points="371.75,282.24 371.75,281.54 373.30,278.72 373.30,279.42" fill="#eca1bd"/>
<polygon points="367.22,281.54 371.75,281.54 373.30,278.72 368.78,278.72" fill="#f6bbd0"/>
<rect x="367.22" y="281.54" width="4.54" height="0.70" fill="url(#g3)"/>
<polygon points="378.05,282.24 378.05,281.54 379.57,278.72 379.57,279.42" fill="#eca1bd"/>
<polygon points="373.51,281.54 378.05,281.54 379.57,278.72 375.06,278.72" fill="#f6bbd0"/>
<rect x="373.51" y="281.54" width="4.54" height="0.70" fill="url(#g3)"/>
<polygon points="384.35,282.24 384.35,281.54 385.85,278.72 385.85,279.42" fill="#eca1bd"/>
<polygon points="379.81,281.54 384.35,281.54 385.85,278.72 381.33,278.72" fill="#f6bbd0"/>
<rect x="379.81" y="281.54" width="4.54" height="0.70" fill="url(#g3)"/>
<polygon points="390.65,282.24 390.65,281.54 392.12,278.72 392.12,279.42" fill="#eca1bd"/>
<polygon points="386.11,281.54 390.65,281.54 392.12,278.72 387.60,278.72" fill="#f6bbd0"/>
<rect x="386.11" y="281.54" width="4.54" height="0.70" fill="url(#g3)"/>
<polygon points="396.94,282.24 396.94,281.54 398.39,278.72 398.39,279.42" fill="#eca1bd"/>
<polygon points="392.41,281.54 396.94,281.54 398.39,278.72 393.88,278.72" fill="#f6bbd0"/>
<rect x="392.41" y="281.54" width="4.54" height="0.70" fill="url(#g3)"/>
<polygon points="403.24,282.24 403.24,281.54 404.67,278.72 404.67,279.42" fill="#eca1bd"/>
<polygon points="398.71,281.54 403.24,281.54 404.67,278.72 400.15,278.72" fill="#f6bbd0"/>
<rect x="398.71" y="281.54" width="4.54" height="0.70" fill="url(#g3)"/>
<polygon points="409.54,282.24 409.54,281.54 410.94,278.72 410.94,279.42" fill="#eca1bd"/>
<polygon points="405.01,281.54 409.54,281.54 410.94,278.72 406.43,278.72" fill="#f6bbd0"/>
<rect x="405.01" y="281.54" width="4.54" height="0.70" fill="url(#g3)"/>
<polygon points="415.84,282.24 415.84,281.54 417.22,278.72 417.22,279.42" fill="#eca1bd"/>
<polygon points="411.31,281.54 415.84,281.54 417.22,278.72 412.70,278.72" fill="#f6bbd0"/>
<rect x="411.31" y="281.54" width="4.54" height="0.70" fill="url(#g3)"/>
<polygon points="434.74,282.24 434.74,281.54 436.04,278.72 436.04,279.42" fill="#eca1bd"/>
<polygon points="430.20,281.54 434.74,281.54 436.04,278.72 431.52,278.72" fill="#f6bbd0"/>
<rect x="430.20" y="281.54" width="4.54" height="0.70" fill="url(#g3)"/>
<polygon points="441.04,282.24 441.04,281.54 442.31,278.72 442.31,279.42" fill="#eca1bd"/>
<polygon points="436.50,281.54 441.04,281.54 442.31,278.72 437.80,278.72" fill="#f6bbd0"/>
<rect x="436.50" y="281.54" width="4.54" height="0.70" fill="url(#g3)"/>
<polygon points="447.33,282.24 447.33,281.14 448.59,278.33 448.59,279.42" fill="#eca1bd"/>
<polygon points="442.80,281.14 447.33,281.14 448.59,278.33 444.07,278.33" fill="#f6bbd0"/>
<rect x="442.80" y="281.14" width="4.54" height="1.10" fill="url(#g3)"/>
<polygon points="453.63,282.24 453.63,281.54 454.86,278.72 454.86,279.42" fill="#eca1bd"/>
<polygon points="449.10,281.54 453.63,281.54 454.86,278.72 450.34,278.72" fill="#f6bbd0"/>
<rect x="449.10" y="281.54" width="4.54" height="0.70" fill="url(#g3)"/>
<polygon points="459.93,282.24 459.93,281.54 461.13,278.72 461.13,279.42" fill="#eca1bd"/>
<polygon points="455.40,281.54 459.93,281.54 461.13,278.72 456.62,278.72" fill="#f6bbd0"/>
<rect x="455.40" y="281.54" width="4.54" height="0.70" fill="url(#g3)"/>
<polygon points="148.06,308.92 148.06,307.92 150.57,304.90 150.57,305.89" fill="#483995"/>
<polygon points="143.36,307.92 148.06,307.92 150.57,304.90 145.89,304.90" fill="#6252ad"/>
<rect x="143.36" y="307.92" width="4.70" height="0.99" fill="url(#g2)"/>
<polygon points="161.12,308.92 161.12,307.92 163.59,304.90 163.59,305.89" fill="#483995"/>
<polygon points="156.42,307.92 161.12,307.92 163.59,304.90 158.90,304.90" fill="#6252ad"/>
<rect x="156.42" y="307.92" width="4.70" height="0.99" fill="url(#g2)"/>
<polygon points="167.66,308.92 167.66,307.92 170.09,304.90 170.09,305.89" fill="#483995"/>
<polygon points="162.95,307.92 167.66,307.92 170.09,304.90 165.41,304.90" fill="#6252ad"/>
<rect x="162.95" y="307.92" width="4.70" height="0.99" fill="url(#g2)"/>
<polygon points="174.19,308.92 174.19,307.92 176.60,304.90 176.60,305.89" fill="#483995"/>
<polygon points="169.48,307.92 174.19,307.92 176.60,304.90 171.91,304.90" fill="#6252ad"/>
<rect x="169.48" y="307.92" width="4.70" height="0.99" fill="url(#g2)"/>
<polygon points="180.72,308.92 180.72,307.92 183.10,304.90 183.10,305.89" fill="#483995"/>
<polygon points="176.02,307.92 180.72,307.92 183.10,304.90 178.42,304.90" fill="#6252ad"/>
<rect x="176.02" y="307.92" width="4.70" height="0.99" fill="url(#g2)"/>
<polygon points="187.25,308.92 187.25,307.92 189.61,304.90 189.61,305.89" fill="#483995"/>
<polygon points="182.55,307.92 187.25,307.92 189.61,304.90 184.92,304.90" fill="#6252ad"/>
<rect x="182.55" y="307.92" width="4.70" height="0.99" fill="url(#g2)"/>
<polygon points="200.32,308.92 200.32,263.34 202.62,260.50 202.62,305.89" fill="#483995"/>
<polygon points="195.61,263.34 200.32,263.34 202.62,260.50 197.94,260.50" fill="#6252ad"/>
<rect x="195.61" y="263.34" width="4.70" height="45.57" fill="url(#g2)"/>
<polygon points="206.85,308.92 206.85,307.92 209.13,304.90 209.13,305.89" fill="#483995"/>
<polygon points="202.15,307.92 206.85,307.92 209.13,304.90 204.44,304.90" fill="#6252ad"/>
<rect x="202.15" y="307.92" width="4.70" height="0.99" fill="url(#g2)"/>
<polygon points="226.45,308.92 226.45,307.92 228.64,304.90 228.64,305.89" fill="#483995"/>
<polygon points="221.74,307.92 226.45,307.92 228.64,304.90 223.96,304.90" fill="#6252ad"/>
<rect x="221.74" y="307.92" width="4.70" height="0.99" fill="url(#g2)"/>
<polygon points="232.98,308.92 232.98,307.42 235.15,304.40 235.15,305.89" fill="#483995"/>
<polygon points="228.28,307.42 232.98,307.42 235.15,304.40 230.46,304.40" fill="#6252ad"/>
<rect x="228.28" y="307.42" width="4.70" height="1.49" fill="url(#g2)"/>
<polygon points="239.51,308.92 239.51,235.23 241.65,232.50 241.65,305.89" fill="#483995"/>
<polygon points="234.81,235.23 239.51,235.23 241.65,232.50 236.97,232.50" fill="#6252ad"/>
<rect x="234.81" y="235.23" width="4.70" height="73.69" fill="url(#g2)"/>
<polygon points="246.04,308.92 246.04,308.19 248.16,305.16 248.16,305.89" fill="#483995"/>
<polygon points="241.34,308.19 246.04,308.19 248.16,305.16 243.48,305.16" fill="#6252ad"/>
<rect x="241.34" y="308.19" width="4.70" height="0.73" fill="url(#g2)"/>
<polygon points="252.58,308.92 252.58,301.70 254.67,298.70 254.67,305.89" fill="#483995"/>
<polygon points="247.87,301.70 252.58,301.70 254.67,298.70 249.98,298.70" fill="#6252ad"/>
<rect x="247.87" y="301.70" width="4.70" height="7.22" fill="url(#g2)"/>
<polygon points="259.11,308.92 259.11,302.80 261.17,299.80 261.17,305.89" fill="#483995"/>
<polygon points="254.40,302.80 259.11,302.80 261.17,299.80 256.49,299.80" fill="#6252ad"/>
<rect x="254.40" y="302.80" width="4.70" height="6.11" fill="url(#g2)"/>
<polygon points="272.17,308.92 272.17,307.92 274.18,304.90 274.18,305.89" fill="#483995"/>
<polygon points="267.47,307.92 272.17,307.92 274.18,304.90 269.50,304.90" fill="#6252ad"/>
<rect x="267.47" y="307.92" width="4.70" height="0.99" fill="url(#g2)"/>
<polygon points="278.70,308.92 278.70,307.42 280.69,304.40 280.69,305.89" fill="#483995"/>
<polygon points="274.00,307.42 278.70,307.42 280.69,304.40 276.00,304.40" fill="#6252ad"/>
<rect x="274.00" y="307.42" width="4.70" height="1.49" fill="url(#g2)"/>
<polygon points="285.24,308.92 285.24,281.92 287.19,279.00 287.19,305.89" fill="#483995"/>
<polygon points="280.53,281.92 285.24,281.92 287.19,279.00 282.51,279.00" fill="#6252ad"/>
<rect x="280.53" y="281.92" width="4.70" height="27.00" fill="url(#g2)"/>
<polygon points="291.77,308.92 291.77,297.28 293.70,294.30 293.70,305.89" fill="#483995"/>
<polygon points="287.07,297.28 291.77,297.28 293.70,294.30 289.02,294.30" fill="#6252ad"/>
<rect x="287.07" y="297.28" width="4.70" height="11.64" fill="url(#g2)"/>
<polygon points="311.37,308.92 311.37,303.91 313.22,300.90 313.22,305.89" fill="#483995"/>
<polygon points="306.66,303.91 311.37,303.91 313.22,300.90 308.53,300.90" fill="#6252ad"/>
<rect x="306.66" y="303.91" width="4.70" height="5.01" fill="url(#g2)"/>
<polygon points="324.43,308.92 324.43,307.92 326.23,304.90 326.23,305.89" fill="#483995"/>
<polygon points="319.73,307.92 324.43,307.92 326.23,304.90 321.54,304.90" fill="#6252ad"/>
<rect x="319.73" y="307.92" width="4.70" height="0.99" fill="url(#g2)"/>
<polygon points="330.96,308.92 330.96,307.42 332.73,304.40 332.73,305.89" fill="#483995"/>
<polygon points="326.26,307.42 330.96,307.42 332.73,304.40 328.05,304.40" fill="#6252ad"/>
<rect x="326.26" y="307.42" width="4.70" height="1.49" fill="url(#g2)"/>
<polygon points="337.49,308.92 337.49,278.61 339.24,275.70 339.24,305.89" fill="#483995"/>
<polygon points="332.79,278.61 337.49,278.61 339.24,275.70 334.56,275.70" fill="#6252ad"/>
<rect x="332.79" y="278.61" width="4.70" height="30.31" fill="url(#g2)"/>
<polygon points="344.03,308.92 344.03,306.42 345.75,303.40 345.75,305.89" fill="#483995"/>
<polygon points="339.32,306.42 344.03,306.42 345.75,303.40 341.06,303.40" fill="#6252ad"/>
<rect x="339.32" y="306.42" width="4.70" height="2.50" fill="url(#g2)"/>
<polygon points="350.56,308.92 350.56,307.92 352.25,304.90 352.25,305.89" fill="#483995"/>
<polygon points="345.86,307.92 350.56,307.92 352.25,304.90 347.57,304.90" fill="#6252ad"/>
<rect x="345.86" y="307.92" width="4.70" height="0.99" fill="url(#g2)"/>
<polygon points="357.09,308.92 357.09,307.92 358.76,304.90 358.76,305.89" fill="#483995"/>
<polygon points="352.39,307.92 357.09,307.92 358.76,304.90 354.07,304.90" fill="#6252ad"/>
<rect x="352.39" y="307.92" width="4.70" height="0.99" fill="url(#g2)"/>
<polygon points="363.62,308.92 363.62,307.42 365.26,304.40 365.26,305.89" fill="#483995"/>
<polygon points="358.92,307.42 363.62,307.42 365.26,304.40 360.58,304.40" fill="#6252ad"/>
<rect x="358.92" y="307.42" width="4.70" height="1.49" fill="url(#g2)"/>
<polygon points="370.16,308.92 370.16,307.92 371.77,304.90 371.77,305.89" fill="#483995"/>
<polygon points="365.45,307.92 370.16,307.92 371.77,304.90 367.08,304.90" fill="#6252ad"/>
<rect x="365.45" y="307.92" width="4.70" height="0.99" fill="url(#g2)"/>
<polygon points="376.69,308.92 376.69,307.42 378.27,304.40 378.27,305.89" fill="#483995"/>
<polygon points="371.99,307.42 376.69,307.42 378.27,304.40 373.59,304.40" fill="#6252ad"/>
<rect x="371.99" y="307.42" width="4.70" height="1.49" fill="url(#g2)"/>
<polygon points="383.22,308.92 383.22,306.42 384.78,303.40 384.78,305.89" fill="#483995"/>
<polygon points="378.52,306.42 383.22,306.42 384.78,303.40 380.10,303.40" fill="#6252ad"/>
<rect x="378.52" y="306.42" width="4.70" height="2.50" fill="url(#g2)"/>
<polygon points="389.75,308.92 389.75,307.92 391.29,304.90 391.29,305.89" fill="#483995"/>
<polygon points="385.05,307.92 389.75,307.92 391.29,304.90 386.60,304.90" fill="#6252ad"/>
<rect x="385.05" y="307.92" width="4.70" height="0.99" fill="url(#g2)"/>
<polygon points="396.29,308.92 396.29,307.92 397.79,304.90 397.79,305.89" fill="#483995"/>
<polygon points="391.58,307.92 396.29,307.92 397.79,304.90 393.11,304.90" fill="#6252ad"/>
<rect x="391.58" y="307.92" width="4.70" height="0.99" fill="url(#g2)"/>
<polygon points="402.82,308.92 402.82,307.92 404.30,304.90 404.30,305.89" fill="#483995"/>
<polygon points="398.11,307.92 402.82,307.92 404.30,304.90 399.61,304.90" fill="#6252ad"/>
<rect x="398.11" y="307.92" width="4.70" height="0.99" fill="url(#g2)"/>
<polygon points="409.35,308.92 409.35,307.92 410.80,304.90 410.80,305.89" fill="#483995"/>
<polygon points="404.65,307.92 409.35,307.92 410.80,304.90 406.12,304.90" fill="#6252ad"/>
<rect x="404.65" y="307.92" width="4.70" height="0.99" fill="url(#g2)"/>
<polygon points="422.41,308.92 422.41,308.19 423.81,305.16 423.81,305.89" fill="#483995"/>
<polygon points="417.71,308.19 422.41,308.19 423.81,305.16 419.13,305.16" fill="#6252ad"/>
<rect x="417.71" y="308.19" width="4.70" height="0.73" fill="url(#g2)"/>
<polygon points="428.95,308.92 428.95,307.92 430.32,304.90 430.32,305.89" fill="#483995"/>
<polygon points="424.24,307.92 428.95,307.92 430.32,304.90 425.64,304.90" fill="#6252ad"/>
<rect x="424.24" y="307.92" width="4.70" height="0.99" fill="url(#g2)"/>
<polygon points="435.48,308.92 435.48,307.92 436.83,304.90 436.83,305.89" fill="#483995"/>
<polygon points="430.78,307.92 435.48,307.92 436.83,304.90 432.14,304.90" fill="#6252ad"/>
<rect x="430.78" y="307.92" width="4.70" height="0.99" fill="url(#g2)"/>
<polygon points="442.01,308.92 442.01,307.92 443.33,304.90 443.33,305.89" fill="#483995"/>
<polygon points="437.31,307.92 442.01,307.92 443.33,304.90 438.65,304.90" fill="#6252ad"/>
<rect x="437.31" y="307.92" width="4.70" height="0.99" fill="url(#g2)"/>
<polygon points="448.54,308.92 448.54,307.92 449.84,304.90 449.84,305.89" fill="#483995"/>
<polygon points="443.84,307.92 448.54,307.92 449.84,304.90 445.15,304.90" fill="#6252ad"/>
<rect x="443.84" y="307.92" width="4.70" height="0.99" fill="url(#g2)"/>
<polygon points="103.87,337.65 103.87,336.89 106.67,333.63 106.67,334.38" fill="#c8351c"/>
<polygon points="98.98,336.89 103.87,336.89 106.67,333.63 101.80,333.63" fill="#e05136"/>
<rect x="98.98" y="336.89" width="4.88" height="0.76" fill="url(#g1)"/>
<polygon points="124.22,337.65 124.22,335.07 126.93,331.81 126.93,334.38" fill="#c8351c"/>
<polygon points="119.34,335.07 124.22,335.07 126.93,331.81 122.07,331.81" fill="#e05136"/>
<rect x="119.34" y="335.07" width="4.88" height="2.58" fill="url(#g1)"/>
<polygon points="131.00,337.65 131.00,336.77 133.69,333.51 133.69,334.38" fill="#c8351c"/>
<polygon points="126.12,336.77 131.00,336.77 133.69,333.51 128.82,333.51" fill="#e05136"/>
<rect x="126.12" y="336.77" width="4.88" height="0.87" fill="url(#g1)"/>
<polygon points="137.79,337.65 137.79,334.66 140.44,331.41 140.44,334.38" fill="#c8351c"/>
<polygon points="132.90,334.66 137.79,334.66 140.44,331.41 135.58,331.41" fill="#e05136"/>
<rect x="132.90" y="334.66" width="4.88" height="2.98" fill="url(#g1)"/>
<polygon points="144.57,337.65 144.57,336.77 147.20,333.51 147.20,334.38" fill="#c8351c"/>
<polygon points="139.69,336.77 144.57,336.77 147.20,333.51 142.33,333.51" fill="#e05136"/>
<rect x="139.69" y="336.77" width="4.88" height="0.87" fill="url(#g1)"/>
<polygon points="158.14,337.65 158.14,336.77 160.71,333.51 160.71,334.38" fill="#c8351c"/>
<polygon points="153.25,336.77 158.14,336.77 160.71,333.51 155.84,333.51" fill="#e05136"/>
<rect x="153.25" y="336.77" width="4.88" height="0.87" fill="url(#g1)"/>
<polygon points="164.92,337.65 164.92,336.77 167.46,333.51 167.46,334.38" fill="#c8351c"/>
<polygon points="160.04,336.77 164.92,336.77 167.46,333.51 162.60,333.51" fill="#e05136"/>
<rect x="160.04" y="336.77" width="4.88" height="0.87" fill="url(#g1)"/>
<polygon points="171.71,337.65 171.71,336.77 174.22,333.51 174.22,334.38" fill="#c8351c"/>
<polygon points="166.82,336.77 171.71,336.77 174.22,333.51 169.35,333.51" fill="#e05136"/>
<rect x="166.82" y="336.77" width="4.88" height="0.87" fill="url(#g1)"/>
<polygon points="178.49,337.65 178.49,279.63 180.97,276.61 180.97,334.38" fill="#c8351c"/>
<polygon points="173.61,279.63 178.49,279.63 180.97,276.61 176.11,276.61" fill="#e05136"/>
<rect x="173.61" y="279.63" width="4.88" height="58.01" fill="url(#g1)"/>
<polygon points="185.27,337.65 185.27,336.77 187.73,333.51 187.73,334.38" fill="#c8351c"/>
<polygon points="180.39,336.77 185.27,336.77 187.73,333.51 182.87,333.51" fill="#e05136"/>
<rect x="180.39" y="336.77" width="4.88" height="0.87" fill="url(#g1)"/>
<polygon points="198.84,337.65 198.84,336.89 201.24,333.63 201.24,334.38" fill="#c8351c"/>
<polygon points="193.96,336.89 198.84,336.89 201.24,333.63 196.38,333.63" fill="#e05136"/>
<rect x="193.96" y="336.89" width="4.88" height="0.76" fill="url(#g1)"/>
<polygon points="205.63,337.65 205.63,336.89 207.99,333.63 207.99,334.38" fill="#c8351c"/>
<polygon points="200.74,336.89 205.63,336.89 207.99,333.63 203.13,333.63" fill="#e05136"/>
<rect x="200.74" y="336.89" width="4.88" height="0.76" fill="url(#g1)"/>
<polygon points="212.41,337.65 212.41,335.77 214.75,332.51 214.75,334.38" fill="#c8351c"/>
<polygon points="207.53,335.77 212.41,335.77 214.75,332.51 209.89,332.51" fill="#e05136"/>
<rect x="207.53" y="335.77" width="4.88" height="1.88" fill="url(#g1)"/>
<polygon points="219.19,337.65 219.19,246.69 221.51,243.81 221.51,334.38" fill="#c8351c"/>
<polygon points="214.31,246.69 219.19,246.69 221.51,243.81 216.64,243.81" fill="#e05136"/>
<rect x="214.31" y="246.69" width="4.88" height="90.95" fill="url(#g1)"/>
<polygon points="225.98,337.65 225.98,336.77 228.26,333.51 228.26,334.38" fill="#c8351c"/>
<polygon points="221.09,336.77 225.98,336.77 228.26,333.51 223.40,333.51" fill="#e05136"/>
<rect x="221.09" y="336.77" width="4.88" height="0.87" fill="url(#g1)"/>
<polygon points="232.76,337.65 232.76,331.15 235.02,327.91 235.02,334.38" fill="#c8351c"/>
<polygon points="227.88,331.15 232.76,331.15 235.02,327.91 230.15,327.91" fill="#e05136"/>
<rect x="227.88" y="331.15" width="4.88" height="6.50" fill="url(#g1)"/>
<polygon points="239.55,337.65 239.55,331.75 241.77,328.51 241.77,334.38" fill="#c8351c"/>
<polygon points="234.66,331.75 239.55,331.75 241.77,328.51 236.91,328.51" fill="#e05136"/>
<rect x="234.66" y="331.75" width="4.88" height="5.89" fill="url(#g1)"/>
<polygon points="246.33,337.65 246.33,336.77 248.53,333.51 248.53,334.38" fill="#c8351c"/>
<polygon points="241.44,336.77 246.33,336.77 248.53,333.51 243.66,333.51" fill="#e05136"/>
<rect x="241.44" y="336.77" width="4.88" height="0.87" fill="url(#g1)"/>
<polygon points="253.11,337.65 253.11,336.77 255.28,333.51 255.28,334.38" fill="#c8351c"/>
<polygon points="248.23,336.77 253.11,336.77 255.28,333.51 250.42,333.51" fill="#e05136"/>
<rect x="248.23" y="336.77" width="4.88" height="0.87" fill="url(#g1)"/>
<polygon points="259.90,337.65 259.90,336.27 262.04,333.01 262.04,334.38" fill="#c8351c"/>
<polygon points="255.01,336.27 259.90,336.27 262.04,333.01 257.17,333.01" fill="#e05136"/>
<rect x="255.01" y="336.27" width="4.88" height="1.38" fill="url(#g1)"/>
<polygon points="266.68,337.65 266.68,305.14 268.79,302.01 268.79,334.38" fill="#c8351c"/>
<polygon points="261.80,305.14 266.68,305.14 268.79,302.01 263.93,302.01" fill="#e05136"/>
<rect x="261.80" y="305.14" width="4.88" height="32.51" fill="url(#g1)"/>
<polygon points="273.46,337.65 273.46,333.96 275.55,330.71 275.55,334.38" fill="#c8351c"/>
<polygon points="268.58,333.96 273.46,333.96 275.55,330.71 270.68,330.71" fill="#e05136"/>
<rect x="268.58" y="333.96" width="4.88" height="3.68" fill="url(#g1)"/>
<polygon points="287.03,337.65 287.03,336.89 289.06,333.63 289.06,334.38" fill="#c8351c"/>
<polygon points="282.15,336.89 287.03,336.89 289.06,333.63 284.19,333.63" fill="#e05136"/>
<rect x="282.15" y="336.89" width="4.88" height="0.76" fill="url(#g1)"/>
<polygon points="293.82,337.65 293.82,333.56 295.81,330.31 295.81,334.38" fill="#c8351c"/>
<polygon points="288.93,333.56 293.82,333.56 295.81,330.31 290.95,330.31" fill="#e05136"/>
<rect x="288.93" y="333.56" width="4.88" height="4.09" fill="url(#g1)"/>
<polygon points="307.38,337.65 307.38,336.77 309.32,333.51 309.32,334.38" fill="#c8351c"/>
<polygon points="302.50,336.77 307.38,336.77 309.32,333.51 304.46,333.51" fill="#e05136"/>
<rect x="302.50" y="336.77" width="4.88" height="0.87" fill="url(#g1)"/>
<polygon points="314.17,337.65 314.17,336.27 316.08,333.01 316.08,334.38" fill="#c8351c"/>
<polygon points="309.28,336.27 314.17,336.27 316.08,333.01 311.21,333.01" fill="#e05136"/>
<rect x="309.28" y="336.27" width="4.88" height="1.38" fill="url(#g1)"/>
<polygon points="320.95,337.65 320.95,316.49 322.83,313.31 322.83,334.38" fill="#c8351c"/>
<polygon points="316.07,316.49 320.95,316.49 322.83,313.31 317.97,313.31" fill="#e05136"/>
<rect x="316.07" y="316.49" width="4.88" height="21.16" fill="url(#g1)"/>
<polygon points="327.74,337.65 327.74,336.89 329.59,333.63 329.59,334.38" fill="#c8351c"/>
<polygon points="322.85,336.89 327.74,336.89 329.59,333.63 324.73,333.63" fill="#e05136"/>
<rect x="322.85" y="336.89" width="4.88" height="0.76" fill="url(#g1)"/>
<polygon points="334.52,337.65 334.52,336.77 336.34,333.51 336.34,334.38" fill="#c8351c"/>
<polygon points="329.64,336.77 334.52,336.77 336.34,333.51 331.48,333.51" fill="#e05136"/>
<rect x="329.64" y="336.77" width="4.88" height="0.87" fill="url(#g1)"/>
<polygon points="341.30,337.65 341.30,336.77 343.10,333.51 343.10,334.38" fill="#c8351c"/>
<polygon points="336.42,336.77 341.30,336.77 343.10,333.51 338.24,333.51" fill="#e05136"/>
<rect x="336.42" y="336.77" width="4.88" height="0.87" fill="url(#g1)"/>
<polygon points="348.09,337.65 348.09,336.27 349.85,333.01 349.85,334.38" fill="#c8351c"/>
<polygon points="343.20,336.27 348.09,336.27 349.85,333.01 344.99,333.01" fill="#e05136"/>
<rect x="343.20" y="336.27" width="4.88" height="1.38" fill="url(#g1)"/>
<polygon points="354.87,337.65 354.87,336.77 356.61,333.51 356.61,334.38" fill="#c8351c"/>
<polygon points="349.99,336.77 354.87,336.77 356.61,333.51 351.75,333.51" fill="#e05136"/>
<rect x="349.99" y="336.77" width="4.88" height="0.87" fill="url(#g1)"/>
<polygon points="361.66,337.65 361.66,336.77 363.37,333.51 363.37,334.38" fill="#c8351c"/>
<polygon points="356.77,336.77 361.66,336.77 363.37,333.51 358.50,333.51" fill="#e05136"/>
<rect x="356.77" y="336.77" width="4.88" height="0.87" fill="url(#g1)"/>
<polygon points="368.44,337.65 368.44,336.77 370.12,333.51 370.12,334.38" fill="#c8351c"/>
<polygon points="363.55,336.77 368.44,336.77 370.12,333.51 365.26,333.51" fill="#e05136"/>
<rect x="363.55" y="336.77" width="4.88" height="0.87" fill="url(#g1)"/>
<polygon points="375.22,337.65 375.22,336.77 376.88,333.51 376.88,334.38" fill="#c8351c"/>
<polygon points="370.34,336.77 375.22,336.77 376.88,333.51 372.01,333.51" fill="#e05136"/>
<rect x="370.34" y="336.77" width="4.88" height="0.87" fill="url(#g1)"/>
<polygon points="382.01,337.65 382.01,336.77 383.63,333.51 383.63,334.38" fill="#c8351c"/>
<polygon points="377.12,336.77 382.01,336.77 383.63,333.51 378.77,333.51" fill="#e05136"/>
<rect x="377.12" y="336.77" width="4.88" height="0.87" fill="url(#g1)"/>
<polygon points="388.79,337.65 388.79,336.77 390.39,333.51 390.39,334.38" fill="#c8351c"/>
<polygon points="383.91,336.77 388.79,336.77 390.39,333.51 385.52,333.51" fill="#e05136"/>
<rect x="383.91" y="336.77" width="4.88" height="0.87" fill="url(#g1)"/>
<polygon points="395.57,337.65 395.57,336.77 397.14,333.51 397.14,334.38" fill="#c8351c"/>
<polygon points="390.69,336.77 395.57,336.77 397.14,333.51 392.28,333.51" fill="#e05136"/>
<rect x="390.69" y="336.77" width="4.88" height="0.87" fill="url(#g1)"/>
<polygon points="415.93,337.65 415.93,336.77 417.41,333.51 417.41,334.38" fill="#c8351c"/>
<polygon points="411.04,336.77 415.93,336.77 417.41,333.51 412.54,333.51" fill="#e05136"/>
<rect x="411.04" y="336.77" width="4.88" height="0.87" fill="url(#g1)"/>
<polygon points="422.71,337.65 422.71,336.27 424.16,333.01 424.16,334.38" fill="#c8351c"/>
<polygon points="417.83,336.27 422.71,336.27 424.16,333.01 419.30,333.01" fill="#e05136"/>
<rect x="417.83" y="336.27" width="4.88" height="1.38" fill="url(#g1)"/>
<polygon points="429.49,337.65 429.49,336.77 430.92,333.51 430.92,334.38" fill="#c8351c"/>
<polygon points="424.61,336.77 429.49,336.77 430.92,333.51 426.05,333.51" fill="#e05136"/>
<rect x="424.61" y="336.77" width="4.88" height="0.87" fill="url(#g1)"/>
<polygon points="436.28,337.65 436.28,336.77 437.67,333.51 437.67,334.38" fill="#c8351c"/>
<polygon points="431.39,336.77 436.28,336.77 437.67,333.51 432.81,333.51" fill="#e05136"/>
<rect x="431.39" y="336.77" width="4.88" height="0.87" fill="url(#g1)"/>
<polygon points="77.30,368.68 77.30,367.89 80.33,364.36 80.33,365.14" fill="#3f6ab8"/>
<polygon points="72.22,367.89 77.30,367.89 80.33,364.36 75.27,364.36" fill="#5982cd"/>
<rect x="72.22" y="367.89" width="5.08" height="0.79" fill="url(#g0)"/>
<polygon points="84.36,368.68 84.36,366.43 87.35,362.91 87.35,365.14" fill="#3f6ab8"/>
<polygon points="79.28,366.43 84.36,366.43 87.35,362.91 82.30,362.91" fill="#5982cd"/>
<rect x="79.28" y="366.43" width="5.08" height="2.25" fill="url(#g0)"/>
<polygon points="91.42,368.68 91.42,367.89 94.38,364.36 94.38,365.14" fill="#3f6ab8"/>
<polygon points="86.34,367.89 91.42,367.89 94.38,364.36 89.32,364.36" fill="#5982cd"/>
<rect x="86.34" y="367.89" width="5.08" height="0.79" fill="url(#g0)"/>
<polygon points="98.47,368.68 98.47,366.93 101.40,363.41 101.40,365.14" fill="#3f6ab8"/>
<polygon points="93.39,366.93 98.47,366.93 101.40,363.41 96.35,363.41" fill="#5982cd"/>
<rect x="93.39" y="366.93" width="5.08" height="1.74" fill="url(#g0)"/>
<polygon points="105.53,368.68 105.53,367.89 108.43,364.36 108.43,365.14" fill="#3f6ab8"/>
<polygon points="100.45,367.89 105.53,367.89 108.43,364.36 103.37,364.36" fill="#5982cd"/>
<rect x="100.45" y="367.89" width="5.08" height="0.79" fill="url(#g0)"/>
<polygon points="112.58,368.68 112.58,366.93 115.45,363.41 115.45,365.14" fill="#3f6ab8"/>
<polygon points="107.50,366.93 112.58,366.93 115.45,363.41 110.40,363.41" fill="#5982cd"/>
<rect x="107.50" y="366.93" width="5.08" height="1.74" fill="url(#g0)"/>
<polygon points="119.64,368.68 119.64,367.89 122.48,364.36 122.48,365.14" fill="#3f6ab8"/>
<polygon points="114.56,367.89 119.64,367.89 122.48,364.36 117.42,364.36" fill="#5982cd"/>
<rect x="114.56" y="367.89" width="5.08" height="0.79" fill="url(#g0)"/>
<polygon points="133.75,368.68 133.75,367.89 136.53,364.36 136.53,365.14" fill="#3f6ab8"/>
<polygon points="128.67,367.89 133.75,367.89 136.53,364.36 131.47,364.36" fill="#5982cd"/>
<rect x="128.67" y="367.89" width="5.08" height="0.79" fill="url(#g0)"/>
<polygon points="147.86,368.68 147.86,367.44 150.58,363.91 150.58,365.14" fill="#3f6ab8"/>
<polygon points="142.78,367.44 147.86,367.44 150.58,363.91 145.52,363.91" fill="#5982cd"/>
<rect x="142.78" y="367.44" width="5.08" height="1.24" fill="url(#g0)"/>
<polygon points="154.92,368.68 154.92,306.87 157.60,303.61 157.60,365.14" fill="#3f6ab8"/>
<polygon points="149.84,306.87 154.92,306.87 157.60,303.61 152.54,303.61" fill="#5982cd"/>
<rect x="149.84" y="306.87" width="5.08" height="61.81" fill="url(#g0)"/>
<polygon points="161.97,368.68 161.97,367.89 164.63,364.36 164.63,365.14" fill="#3f6ab8"/>
<polygon points="156.89,367.89 161.97,367.89 164.63,364.36 159.57,364.36" fill="#5982cd"/>
<rect x="156.89" y="367.89" width="5.08" height="0.79" fill="url(#g0)"/>
<polygon points="176.08,368.68 176.08,367.89 178.67,364.36 178.67,365.14" fill="#3f6ab8"/>
<polygon points="171.00,367.89 176.08,367.89 178.67,364.36 173.62,364.36" fill="#5982cd"/>
<rect x="171.00" y="367.89" width="5.08" height="0.79" fill="url(#g0)"/>
<polygon points="183.14,368.68 183.14,366.93 185.70,363.41 185.70,365.14" fill="#3f6ab8"/>
<polygon points="178.06,366.93 183.14,366.93 185.70,363.41 180.64,363.41" fill="#5982cd"/>
<rect x="178.06" y="366.93" width="5.08" height="1.74" fill="url(#g0)"/>
<polygon points="190.19,368.68 190.19,364.92 192.72,361.41 192.72,365.14" fill="#3f6ab8"/>
<polygon points="185.11,364.92 190.19,364.92 192.72,361.41 187.67,361.41" fill="#5982cd"/>
<rect x="185.11" y="364.92" width="5.08" height="3.75" fill="url(#g0)"/>
<polygon points="197.25,368.68 197.25,311.19 199.75,307.91 199.75,365.14" fill="#3f6ab8"/>
<polygon points="192.17,311.19 197.25,311.19 199.75,307.91 194.69,307.91" fill="#5982cd"/>
<rect x="192.17" y="311.19" width="5.08" height="57.49" fill="url(#g0)"/>
<polygon points="204.31,368.68 204.31,367.44 206.77,363.91 206.77,365.14" fill="#3f6ab8"/>
<polygon points="199.22,367.44 204.31,367.44 206.77,363.91 201.72,363.91" fill="#5982cd"/>
<rect x="199.22" y="367.44" width="5.08" height="1.24" fill="url(#g0)"/>
<polygon points="211.36,368.68 211.36,357.39 213.80,353.91 213.80,365.14" fill="#3f6ab8"/>
<polygon points="206.28,357.39 211.36,357.39 213.80,353.91 208.74,353.91" fill="#5982cd"/>
<rect x="206.28" y="357.39" width="5.08" height="11.29" fill="url(#g0)"/>
<polygon points="218.42,368.68 218.42,358.40 220.82,354.91 220.82,365.14" fill="#3f6ab8"/>
<polygon points="213.34,358.40 218.42,358.40 220.82,354.91 215.77,354.91" fill="#5982cd"/>
<rect x="213.34" y="358.40" width="5.08" height="10.28" fill="url(#g0)"/>
<polygon points="225.47,368.68 225.47,367.44 227.85,363.91 227.85,365.14" fill="#3f6ab8"/>
<polygon points="220.39,367.44 225.47,367.44 227.85,363.91 222.79,363.91" fill="#5982cd"/>
<rect x="220.39" y="367.44" width="5.08" height="1.24" fill="url(#g0)"/>
<polygon points="232.53,368.68 232.53,360.40 234.87,356.91 234.87,365.14" fill="#3f6ab8"/>
<polygon points="227.45,360.40 232.53,360.40 234.87,356.91 229.81,356.91" fill="#5982cd"/>
<rect x="227.45" y="360.40" width="5.08" height="8.27" fill="url(#g0)"/>
<polygon points="239.58,368.68 239.58,359.40 241.90,355.91 241.90,365.14" fill="#3f6ab8"/>
<polygon points="234.50,359.40 239.58,359.40 241.90,355.91 236.84,355.91" fill="#5982cd"/>
<rect x="234.50" y="359.40" width="5.08" height="9.28" fill="url(#g0)"/>
<polygon points="246.64,368.68 246.64,337.30 248.92,333.91 248.92,365.14" fill="#3f6ab8"/>
<polygon points="241.56,337.30 246.64,337.30 248.92,333.91 243.86,333.91" fill="#5982cd"/>
<rect x="241.56" y="337.30" width="5.08" height="31.37" fill="url(#g0)"/>
<polygon points="267.81,368.68 267.81,365.93 270.00,362.41 270.00,365.14" fill="#3f6ab8"/>
<polygon points="262.73,365.93 267.81,365.93 270.00,362.41 264.94,362.41" fill="#5982cd"/>
<rect x="262.73" y="365.93" width="5.08" height="2.75" fill="url(#g0)"/>
<polygon points="274.86,368.68 274.86,352.77 277.02,349.31 277.02,365.14" fill="#3f6ab8"/>
<polygon points="269.78,352.77 274.86,352.77 277.02,349.31 271.96,349.31" fill="#5982cd"/>
<rect x="269.78" y="352.77" width="5.08" height="15.91" fill="url(#g0)"/>
<polygon points="288.97,368.68 288.97,358.19 291.07,354.71 291.07,365.14" fill="#3f6ab8"/>
<polygon points="283.89,358.19 288.97,358.19 291.07,354.71 286.01,354.71" fill="#5982cd"/>
<rect x="283.89" y="358.19" width="5.08" height="10.48" fill="url(#g0)"/>
<polygon points="296.03,368.68 296.03,354.98 298.09,351.51 298.09,365.14" fill="#3f6ab8"/>
<polygon points="290.95,354.98 296.03,354.98 298.09,351.51 293.04,351.51" fill="#5982cd"/>
<rect x="290.95" y="354.98" width="5.08" height="13.70" fill="url(#g0)"/>
<polygon points="303.08,368.68 303.08,195.18 305.12,192.41 305.12,365.14" fill="#3f6ab8"/>
<polygon points="298.00,195.18 303.08,195.18 305.12,192.41 300.06,192.41" fill="#5982cd"/>
<rect x="298.00" y="195.18" width="5.08" height="173.50" fill="url(#g0)"/>
<polygon points="310.14,368.68 310.14,359.40 312.14,355.91 312.14,365.14" fill="#3f6ab8"/>
<polygon points="305.06,359.40 310.14,359.40 312.14,355.91 307.09,355.91" fill="#5982cd"/>
<rect x="305.06" y="359.40" width="5.08" height="9.28" fill="url(#g0)"/>
<polygon points="317.19,368.68 317.19,367.89 319.17,364.36 319.17,365.14" fill="#3f6ab8"/>
<polygon points="312.11,367.89 317.19,367.89 319.17,364.36 314.11,364.36" fill="#5982cd"/>
<rect x="312.11" y="367.89" width="5.08" height="0.79" fill="url(#g0)"/>
<polygon points="324.25,368.68 324.25,365.93 326.19,362.41 326.19,365.14" fill="#3f6ab8"/>
<polygon points="319.17,365.93 324.25,365.93 326.19,362.41 321.14,362.41" fill="#5982cd"/>
<rect x="319.17" y="365.93" width="5.08" height="2.75" fill="url(#g0)"/>
<polygon points="331.31,368.68 331.31,353.67 333.22,350.21 333.22,365.14" fill="#3f6ab8"/>
<polygon points="326.23,353.67 331.31,353.67 333.22,350.21 328.16,350.21" fill="#5982cd"/>
<rect x="326.23" y="353.67" width="5.08" height="15.00" fill="url(#g0)"/>
<polygon points="338.36,368.68 338.36,367.89 340.24,364.36 340.24,365.14" fill="#3f6ab8"/>
<polygon points="333.28,367.89 338.36,367.89 340.24,364.36 335.18,364.36" fill="#5982cd"/>
<rect x="333.28" y="367.89" width="5.08" height="0.79" fill="url(#g0)"/>
<polygon points="345.42,368.68 345.42,366.83 347.27,363.31 347.27,365.14" fill="#3f6ab8"/>
<polygon points="340.34,366.83 345.42,366.83 347.27,363.31 342.21,363.31" fill="#5982cd"/>
<rect x="340.34" y="366.83" width="5.08" height="1.84" fill="url(#g0)"/>
<polygon points="352.47,368.68 352.47,354.78 354.29,351.31 354.29,365.14" fill="#3f6ab8"/>
<polygon points="347.39,354.78 352.47,354.78 354.29,351.31 349.23,351.31" fill="#5982cd"/>
<rect x="347.39" y="354.78" width="5.08" height="13.90" fill="url(#g0)"/>
<polygon points="359.53,368.68 359.53,366.43 361.32,362.91 361.32,365.14" fill="#3f6ab8"/>
<polygon points="354.45,366.43 359.53,366.43 361.32,362.91 356.26,362.91" fill="#5982cd"/>
<rect x="354.45" y="366.43" width="5.08" height="2.25" fill="url(#g0)"/>
<polygon points="366.58,368.68 366.58,366.93 368.34,363.41 368.34,365.14" fill="#3f6ab8"/>
<polygon points="361.50,366.93 366.58,366.93 368.34,363.41 363.28,363.41" fill="#5982cd"/>
<rect x="361.50" y="366.93" width="5.08" height="1.74" fill="url(#g0)"/>
<polygon points="373.64,368.68 373.64,365.93 375.37,362.41 375.37,365.14" fill="#3f6ab8"/>
<polygon points="368.56,365.93 373.64,365.93 375.37,362.41 370.31,362.41" fill="#5982cd"/>
<rect x="368.56" y="365.93" width="5.08" height="2.75" fill="url(#g0)"/>
<polygon points="380.70,368.68 380.70,366.93 382.39,363.41 382.39,365.14" fill="#3f6ab8"/>
<polygon points="375.62,366.93 380.70,366.93 382.39,363.41 377.33,363.41" fill="#5982cd"/>
<rect x="375.62" y="366.93" width="5.08" height="1.74" fill="url(#g0)"/>
<polygon points="387.75,368.68 387.75,366.93 389.41,363.41 389.41,365.14" fill="#3f6ab8"/>
<polygon points="382.67,366.93 387.75,366.93 389.41,363.41 384.36,363.41" fill="#5982cd"/>
<rect x="382.67" y="366.93" width="5.08" height="1.74" fill="url(#g0)"/>
<polygon points="401.86,368.68 401.86,367.89 403.46,364.36 403.46,365.14" fill="#3f6ab8"/>
<polygon points="396.78,367.89 401.86,367.89 403.46,364.36 398.41,364.36" fill="#5982cd"/>
<rect x="396.78" y="367.89" width="5.08" height="0.79" fill="url(#g0)"/>
<polygon points="408.92,368.68 408.92,367.44 410.49,363.91 410.49,365.14" fill="#3f6ab8"/>
<polygon points="403.84,367.44 408.92,367.44 410.49,363.91 405.43,363.91" fill="#5982cd"/>
<rect x="403.84" y="367.44" width="5.08" height="1.24" fill="url(#g0)"/>
<polygon points="415.97,368.68 415.97,367.44 417.51,363.91 417.51,365.14" fill="#3f6ab8"/>
<polygon points="410.89,367.44 415.97,367.44 417.51,363.91 412.46,363.91" fill="#5982cd"/>
<rect x="410.89" y="367.44" width="5.08" height="1.24" fill="url(#g0)"/>
<polygon points="423.03,368.68 423.03,357.79 424.54,354.31 424.54,365.14" fill="#3f6ab8"/>
<polygon points="417.95,357.79 423.03,357.79 424.54,354.31 419.48,354.31" fill="#5982cd"/>
<rect x="417.95" y="357.79" width="5.08" height="10.88" fill="url(#g0)"/>
<polygon points="274.73,557.99 274.73,547.36 276.27,545.59 276.27,556.18" fill="#dd0b60"/>
<polygon points="269.93,547.36 274.73,547.36 276.27,545.59 271.49,545.59" fill="#f12e7b"/>
<rect x="269.93" y="547.36" width="4.80" height="10.63" fill="url(#g10)"/>
<polygon points="282.47,557.99 282.47,546.76 283.99,544.99 283.99,556.18" fill="#dd0b60"/>
<polygon points="277.67,546.76 282.47,546.76 283.99,544.99 279.20,544.99" fill="#f12e7b"/>
<rect x="277.67" y="546.76" width="4.80" height="11.23" fill="url(#g10)"/>
<polygon points="290.20,557.99 290.20,546.86 291.70,545.09 291.70,556.18" fill="#dd0b60"/>
<polygon points="285.41,546.86 290.20,546.86 291.70,545.09 286.92,545.09" fill="#f12e7b"/>
<rect x="285.41" y="546.86" width="4.80" height="11.13" fill="url(#g10)"/>
<polygon points="297.94,557.99 297.94,546.86 299.41,545.09 299.41,556.18" fill="#dd0b60"/>
<polygon points="293.14,546.86 297.94,546.86 299.41,545.09 294.63,545.09" fill="#f12e7b"/>
<rect x="293.14" y="546.86" width="4.80" height="11.13" fill="url(#g10)"/>
<polygon points="305.68,557.99 305.68,546.86 307.12,545.09 307.12,556.18" fill="#dd0b60"/>
<polygon points="300.88,546.86 305.68,546.86 307.12,545.09 302.34,545.09" fill="#f12e7b"/>
<rect x="300.88" y="546.86" width="4.80" height="11.13" fill="url(#g10)"/>
<polygon points="313.41,557.99 313.41,542.14 314.84,540.39 314.84,556.18" fill="#dd0b60"/>
<polygon points="308.62,542.14 313.41,542.14 314.84,540.39 310.05,540.39" fill="#f12e7b"/>
<rect x="308.62" y="542.14" width="4.80" height="15.85" fill="url(#g10)"/>
<polygon points="321.15,557.99 321.15,546.86 322.55,545.09 322.55,556.18" fill="#dd0b60"/>
<polygon points="316.35,546.86 321.15,546.86 322.55,545.09 317.77,545.09" fill="#f12e7b"/>
<rect x="316.35" y="546.86" width="4.80" height="11.13" fill="url(#g10)"/>
<polygon points="328.89,557.99 328.89,546.86 330.26,545.09 330.26,556.18" fill="#dd0b60"/>
<polygon points="324.09,546.86 328.89,546.86 330.26,545.09 325.48,545.09" fill="#f12e7b"/>
<rect x="324.09" y="546.86" width="4.80" height="11.13" fill="url(#g10)"/>
<polygon points="336.62,557.99 336.62,546.86 337.97,545.09 337.97,556.18" fill="#dd0b60"/>
<polygon points="331.83,546.86 336.62,546.86 337.97,545.09 333.19,545.09" fill="#f12e7b"/>
<rect x="331.83" y="546.86" width="4.80" height="11.13" fill="url(#g10)"/>
<polygon points="344.36,557.99 344.36,546.86 345.69,545.09 345.69,556.18" fill="#dd0b60"/>
<polygon points="339.56,546.86 344.36,546.86 345.69,545.09 340.91,545.09" fill="#f12e7b"/>
<rect x="339.56" y="546.86" width="4.80" height="11.13" fill="url(#g10)"/>
<polygon points="352.10,557.99 352.10,546.86 353.40,545.09 353.40,556.18" fill="#dd0b60"/>
<polygon points="347.30,546.86 352.10,546.86 353.40,545.09 348.62,545.09" fill="#f12e7b"/>
<rect x="347.30" y="546.86" width="4.80" height="11.13" fill="url(#g10)"/>
<polygon points="359.83,557.99 359.83,546.86 361.11,545.09 361.11,556.18" fill="#dd0b60"/>
<polygon points="355.04,546.86 359.83,546.86 361.11,545.09 356.33,545.09" fill="#f12e7b"/>
<rect x="355.04" y="546.86" width="4.80" height="11.13" fill="url(#g10)"/>
<polygon points="367.57,557.99 367.57,546.86 368.82,545.09 368.82,556.18" fill="#dd0b60"/>
<polygon points="362.77,546.86 367.57,546.86 368.82,545.09 364.04,545.09" fill="#f12e7b"/>
<rect x="362.77" y="546.86" width="4.80" height="11.13" fill="url(#g10)"/>
<polygon points="375.31,557.99 375.31,546.86 376.54,545.09 376.54,556.18" fill="#dd0b60"/>
<polygon points="370.51,546.86 375.31,546.86 376.54,545.09 371.76,545.09" fill="#f12e7b"/>
<rect x="370.51" y="546.86" width="4.80" height="11.13" fill="url(#g10)"/>
<polygon points="383.04,557.99 383.04,546.86 384.25,545.09 384.25,556.18" fill="#dd0b60"/>
<polygon points="378.25,546.86 383.04,546.86 384.25,545.09 379.47,545.09" fill="#f12e7b"/>
<rect x="378.25" y="546.86" width="4.80" height="11.13" fill="url(#g10)"/>
<polygon points="390.78,557.99 390.78,546.86 391.96,545.09 391.96,556.18" fill="#dd0b60"/>
<polygon points="385.98,546.86 390.78,546.86 391.96,545.09 387.18,545.09" fill="#f12e7b"/>
<rect x="385.98" y="546.86" width="4.80" height="11.13" fill="url(#g10)"/>
<polygon points="398.52,557.99 398.52,526.29 399.68,524.59 399.68,556.18" fill="#dd0b60"/>
<polygon points="393.72,526.29 398.52,526.29 399.68,524.59 394.89,524.59" fill="#f12e7b"/>
<rect x="393.72" y="526.29" width="4.80" height="31.70" fill="url(#g10)"/>
<polygon points="406.26,557.99 406.26,546.86 407.39,545.09 407.39,556.18" fill="#dd0b60"/>
<polygon points="401.46,546.86 406.26,546.86 407.39,545.09 402.61,545.09" fill="#f12e7b"/>
<rect x="401.46" y="546.86" width="4.80" height="11.13" fill="url(#g10)"/>
<polygon points="413.99,557.99 413.99,546.86 415.10,545.09 415.10,556.18" fill="#dd0b60"/>
<polygon points="409.20,546.86 413.99,546.86 415.10,545.09 410.32,545.09" fill="#f12e7b"/>
<rect x="409.20" y="546.86" width="4.80" height="11.13" fill="url(#g10)"/>
<polygon points="421.73,557.99 421.73,546.86 422.81,545.09 422.81,556.18" fill="#dd0b60"/>
<polygon points="416.93,546.86 421.73,546.86 422.81,545.09 418.03,545.09" fill="#f12e7b"/>
<rect x="416.93" y="546.86" width="4.80" height="11.13" fill="url(#g10)"/>
<polygon points="429.47,557.99 429.47,546.86 430.53,545.09 430.53,556.18" fill="#dd0b60"/>
<polygon points="424.67,546.86 429.47,546.86 430.53,545.09 425.74,545.09" fill="#f12e7b"/>
<rect x="424.67" y="546.86" width="4.80" height="11.13" fill="url(#g10)"/>
<polygon points="437.20,557.99 437.20,545.55 438.24,543.79 438.24,556.18" fill="#dd0b60"/>
<polygon points="432.41,545.55 437.20,545.55 438.24,543.79 433.46,543.79" fill="#f12e7b"/>
<rect x="432.41" y="545.55" width="4.80" height="12.44" fill="url(#g10)"/>
<polygon points="444.94,557.99 444.94,546.86 445.95,545.09 445.95,556.18" fill="#dd0b60"/>
<polygon points="440.14,546.86 444.94,546.86 445.95,545.09 441.17,545.09" fill="#f12e7b"/>
<rect x="440.14" y="546.86" width="4.80" height="11.13" fill="url(#g10)"/>
<polygon points="460.41,557.99 460.41,546.86 461.38,545.09 461.38,556.18" fill="#dd0b60"/>
<polygon points="455.62,546.86 460.41,546.86 461.38,545.09 456.59,545.09" fill="#f12e7b"/>
<rect x="455.62" y="546.86" width="4.80" height="11.13" fill="url(#g10)"/>
<polygon points="468.15,557.99 468.15,546.86 469.09,545.09 469.09,556.18" fill="#dd0b60"/>
<polygon points="463.35,546.86 468.15,546.86 469.09,545.09 464.31,545.09" fill="#f12e7b"/>
<rect x="463.35" y="546.86" width="4.80" height="11.13" fill="url(#g10)"/>
<polygon points="475.89,557.99 475.89,546.86 476.80,545.09 476.80,556.18" fill="#dd0b60"/>
<polygon points="471.09,546.86 475.89,546.86 476.80,545.09 472.02,545.09" fill="#f12e7b"/>
<rect x="471.09" y="546.86" width="4.80" height="11.13" fill="url(#g10)"/>
<polygon points="483.62,557.99 483.62,546.86 484.51,545.09 484.51,556.18" fill="#dd0b60"/>
<polygon points="478.83,546.86 483.62,546.86 484.51,545.09 479.73,545.09" fill="#f12e7b"/>
<rect x="478.83" y="546.86" width="4.80" height="11.13" fill="url(#g10)"/>
<polygon points="491.36,557.99 491.36,546.86 492.23,545.09 492.23,556.18" fill="#dd0b60"/>
<polygon points="486.56,546.86 491.36,546.86 492.23,545.09 487.44,545.09" fill="#f12e7b"/>
<rect x="486.56" y="546.86" width="4.80" height="11.13" fill="url(#g10)"/>
<polygon points="499.10,557.99 499.10,546.86 499.94,545.09 499.94,556.18" fill="#dd0b60"/>
<polygon points="494.30,546.86 499.10,546.86 499.94,545.09 495.16,545.09" fill="#f12e7b"/>
<rect x="494.30" y="546.86" width="4.80" height="11.13" fill="url(#g10)"/>
<polygon points="506.83,557.99 506.83,546.86 507.65,545.09 507.65,556.18" fill="#dd0b60"/>
<polygon points="502.04,546.86 506.83,546.86 507.65,545.09 502.87,545.09" fill="#f12e7b"/>
<rect x="502.04" y="546.86" width="4.80" height="11.13" fill="url(#g10)"/>
<polygon points="514.57,557.99 514.57,546.86 515.36,545.09 515.36,556.18" fill="#dd0b60"/>
<polygon points="509.77,546.86 514.57,546.86 515.36,545.09 510.58,545.09" fill="#f12e7b"/>
<rect x="509.77" y="546.86" width="4.80" height="11.13" fill="url(#g10)"/>
<polygon points="522.31,557.99 522.31,546.86 523.08,545.09 523.08,556.18" fill="#dd0b60"/>
<polygon points="517.51,546.86 522.31,546.86 523.08,545.09 518.30,545.09" fill="#f12e7b"/>
<rect x="517.51" y="546.86" width="4.80" height="11.13" fill="url(#g10)"/>
<polygon points="260.22,574.95 260.22,563.87 261.86,561.99 261.86,573.04" fill="#0d81e2"/>
<polygon points="255.28,563.87 260.22,563.87 261.86,561.99 256.93,561.99" fill="#2f9af5"/>
<rect x="255.28" y="563.87" width="4.94" height="11.08" fill="url(#g9)"/>
<polygon points="268.18,574.95 268.18,563.27 269.80,561.39 269.80,573.04" fill="#0d81e2"/>
<polygon points="263.25,563.27 268.18,563.27 269.80,561.39 264.87,561.39" fill="#2f9af5"/>
<rect x="263.25" y="563.27" width="4.94" height="11.68" fill="url(#g9)"/>
<polygon points="276.15,574.95 276.15,563.27 277.74,561.39 277.74,573.04" fill="#0d81e2"/>
<polygon points="271.21,563.27 276.15,563.27 277.74,561.39 272.81,561.39" fill="#2f9af5"/>
<rect x="271.21" y="563.27" width="4.94" height="11.68" fill="url(#g9)"/>
<polygon points="292.08,574.95 292.08,565.88 293.61,563.99 293.61,573.04" fill="#0d81e2"/>
<polygon points="287.14,565.88 292.08,565.88 293.61,563.99 288.69,563.99" fill="#2f9af5"/>
<rect x="287.14" y="565.88" width="4.94" height="9.07" fill="url(#g9)"/>
<polygon points="300.04,574.95 300.04,557.75 301.55,555.89 301.55,573.04" fill="#0d81e2"/>
<polygon points="295.11,557.75 300.04,557.75 301.55,555.89 296.63,555.89" fill="#2f9af5"/>
<rect x="295.11" y="557.75" width="4.94" height="17.20" fill="url(#g9)"/>
<polygon points="308.01,574.95 308.01,533.98 309.49,532.19 309.49,573.04" fill="#0d81e2"/>
<polygon points="303.07,533.98 308.01,533.98 309.49,532.19 304.57,532.19" fill="#2f9af5"/>
<rect x="303.07" y="533.98" width="4.94" height="40.98" fill="url(#g9)"/>
<polygon points="315.97,574.95 315.97,563.27 317.43,561.39 317.43,573.04" fill="#0d81e2"/>
<polygon points="311.04,563.27 315.97,563.27 317.43,561.39 312.51,561.39" fill="#2f9af5"/>
<rect x="311.04" y="563.27" width="4.94" height="11.68" fill="url(#g9)"/>
<polygon points="331.90,574.95 331.90,563.27 333.31,561.39 333.31,573.04" fill="#0d81e2"/>
<polygon points="326.97,563.27 331.90,563.27 333.31,561.39 328.39,561.39" fill="#2f9af5"/>
<rect x="326.97" y="563.27" width="4.94" height="11.68" fill="url(#g9)"/>
<polygon points="347.83,574.95 347.83,561.87 349.19,559.99 349.19,573.04" fill="#0d81e2"/>
<polygon points="342.90,561.87 347.83,561.87 349.19,559.99 344.27,559.99" fill="#2f9af5"/>
<rect x="342.90" y="561.87" width="4.94" height="13.09" fill="url(#g9)"/>
<polygon points="371.73,574.95 371.73,563.27 373.01,561.39 373.01,573.04" fill="#0d81e2"/>
<polygon points="366.79,563.27 371.73,563.27 373.01,561.39 368.08,561.39" fill="#2f9af5"/>
<rect x="366.79" y="563.27" width="4.94" height="11.68" fill="url(#g9)"/>
<polygon points="379.69,574.95 379.69,563.27 380.94,561.39 380.94,573.04" fill="#0d81e2"/>
<polygon points="374.75,563.27 379.69,563.27 380.94,561.39 376.02,561.39" fill="#2f9af5"/>
<rect x="374.75" y="563.27" width="4.94" height="11.68" fill="url(#g9)"/>
<polygon points="387.66,574.95 387.66,563.27 388.88,561.39 388.88,573.04" fill="#0d81e2"/>
<polygon points="382.72,563.27 387.66,563.27 388.88,561.39 383.96,561.39" fill="#2f9af5"/>
<rect x="382.72" y="563.27" width="4.94" height="11.68" fill="url(#g9)"/>
<polygon points="395.62,574.95 395.62,563.47 396.82,561.59 396.82,573.04" fill="#0d81e2"/>
<polygon points="390.68,563.47 395.62,563.47 396.82,561.59 391.90,561.59" fill="#2f9af5"/>
<rect x="390.68" y="563.47" width="4.94" height="11.48" fill="url(#g9)"/>
<polygon points="411.55,574.95 411.55,562.27 412.70,560.39 412.70,573.04" fill="#0d81e2"/>
<polygon points="406.61,562.27 411.55,562.27 412.70,560.39 407.78,560.39" fill="#2f9af5"/>
<rect x="406.61" y="562.27" width="4.94" height="12.69" fill="url(#g9)"/>
<polygon points="419.52,574.95 419.52,562.27 420.64,560.39 420.64,573.04" fill="#0d81e2"/>
<polygon points="414.58,562.27 419.52,562.27 420.64,560.39 415.72,560.39" fill="#2f9af5"/>
<rect x="414.58" y="562.27" width="4.94" height="12.69" fill="url(#g9)"/>
<polygon points="427.48,574.95 427.48,517.02 428.58,515.29 428.58,573.04" fill="#0d81e2"/>
<polygon points="422.54,517.02 427.48,517.02 428.58,515.29 423.66,515.29" fill="#2f9af5"/>
<rect x="422.54" y="517.02" width="4.94" height="57.93" fill="url(#g9)"/>
<polygon points="435.45,574.95 435.45,563.47 436.52,561.59 436.52,573.04" fill="#0d81e2"/>
<polygon points="430.51,563.47 435.45,563.47 436.52,561.59 431.60,561.59" fill="#2f9af5"/>
<rect x="430.51" y="563.47" width="4.94" height="11.48" fill="url(#g9)"/>
<polygon points="443.41,574.95 443.41,563.47 444.46,561.59 444.46,573.04" fill="#0d81e2"/>
<polygon points="438.47,563.47 443.41,563.47 444.46,561.59 439.54,561.59" fill="#2f9af5"/>
<rect x="438.47" y="563.47" width="4.94" height="11.48" fill="url(#g9)"/>
<polygon points="475.27,574.95 475.27,563.47 476.21,561.59 476.21,573.04" fill="#0d81e2"/>
<polygon points="470.33,563.47 475.27,563.47 476.21,561.59 471.29,561.59" fill="#2f9af5"/>
<rect x="470.33" y="563.47" width="4.94" height="11.48" fill="url(#g9)"/>
<polygon points="491.20,574.95 491.20,563.47 492.09,561.59 492.09,573.04" fill="#0d81e2"/>
<polygon points="486.26,563.47 491.20,563.47 492.09,561.59 487.17,561.59" fill="#2f9af5"/>
<rect x="486.26" y="563.47" width="4.94" height="11.48" fill="url(#g9)"/>
<polygon points="507.13,574.95 507.13,563.47 507.97,561.59 507.97,573.04" fill="#0d81e2"/>
<polygon points="502.19,563.47 507.13,563.47 507.97,561.59 503.05,561.59" fill="#2f9af5"/>
<rect x="502.19" y="563.47" width="4.94" height="11.48" fill="url(#g9)"/>
<polygon points="244.83,592.94 244.83,582.02 246.57,580.03 246.57,590.91" fill="#a74143"/>
<polygon points="239.74,582.02 244.83,582.02 246.57,580.03 241.50,580.03" fill="#bf5b5d"/>
<rect x="239.74" y="582.02" width="5.09" height="10.92" fill="url(#g8)"/>
<polygon points="253.04,592.94 253.04,581.52 254.75,579.53 254.75,590.91" fill="#a74143"/>
<polygon points="247.95,581.52 253.04,581.52 254.75,579.53 249.68,579.53" fill="#bf5b5d"/>
<rect x="247.95" y="581.52" width="5.09" height="11.42" fill="url(#g8)"/>
<polygon points="261.24,592.94 261.24,581.52 262.93,579.53 262.93,590.91" fill="#a74143"/>
<polygon points="256.15,581.52 261.24,581.52 262.93,579.53 257.86,579.53" fill="#bf5b5d"/>
<rect x="256.15" y="581.52" width="5.09" height="11.42" fill="url(#g8)"/>
<polygon points="277.66,592.94 277.66,581.62 279.29,579.63 279.29,590.91" fill="#a74143"/>
<polygon points="272.57,581.62 277.66,581.62 279.29,579.63 274.21,579.63" fill="#bf5b5d"/>
<rect x="272.57" y="581.62" width="5.09" height="11.32" fill="url(#g8)"/>
<polygon points="285.86,592.94 285.86,551.92 287.47,550.03 287.47,590.91" fill="#a74143"/>
<polygon points="280.78,551.92 285.86,551.92 287.47,550.03 282.39,550.03" fill="#bf5b5d"/>
<rect x="280.78" y="551.92" width="5.09" height="41.02" fill="url(#g8)"/>
<polygon points="294.07,592.94 294.07,531.86 295.64,530.03 295.64,590.91" fill="#a74143"/>
<polygon points="288.98,531.86 294.07,531.86 295.64,530.03 290.57,530.03" fill="#bf5b5d"/>
<rect x="288.98" y="531.86" width="5.09" height="61.09" fill="url(#g8)"/>
<polygon points="310.48,592.94 310.48,581.02 312.00,579.03 312.00,590.91" fill="#a74143"/>
<polygon points="305.40,581.02 310.48,581.02 312.00,579.03 306.93,579.03" fill="#bf5b5d"/>
<rect x="305.40" y="581.02" width="5.09" height="11.93" fill="url(#g8)"/>
<polygon points="318.69,592.94 318.69,581.02 320.18,579.03 320.18,590.91" fill="#a74143"/>
<polygon points="313.60,581.02 318.69,581.02 320.18,579.03 315.11,579.03" fill="#bf5b5d"/>
<rect x="313.60" y="581.02" width="5.09" height="11.93" fill="url(#g8)"/>
<polygon points="335.10,592.94 335.10,579.72 336.54,577.73 336.54,590.91" fill="#a74143"/>
<polygon points="330.02,579.72 335.10,579.72 336.54,577.73 331.47,577.73" fill="#bf5b5d"/>
<rect x="330.02" y="579.72" width="5.09" height="13.23" fill="url(#g8)"/>
<polygon points="359.72,592.94 359.72,581.02 361.08,579.03 361.08,590.91" fill="#a74143"/>
<polygon points="354.64,581.02 359.72,581.02 361.08,579.03 356.01,579.03" fill="#bf5b5d"/>
<rect x="354.64" y="581.02" width="5.09" height="11.93" fill="url(#g8)"/>
<polygon points="367.93,592.94 367.93,581.02 369.26,579.03 369.26,590.91" fill="#a74143"/>
<polygon points="362.84,581.02 367.93,581.02 369.26,579.03 364.19,579.03" fill="#bf5b5d"/>
<rect x="362.84" y="581.02" width="5.09" height="11.93" fill="url(#g8)"/>
<polygon points="376.14,592.94 376.14,578.41 377.44,576.43 377.44,590.91" fill="#a74143"/>
<polygon points="371.05,578.41 376.14,578.41 377.44,576.43 372.37,576.43" fill="#bf5b5d"/>
<rect x="371.05" y="578.41" width="5.09" height="14.53" fill="url(#g8)"/>
<polygon points="384.34,592.94 384.34,579.72 385.62,577.73 385.62,590.91" fill="#a74143"/>
<polygon points="379.26,579.72 384.34,579.72 385.62,577.73 380.55,577.73" fill="#bf5b5d"/>
<rect x="379.26" y="579.72" width="5.09" height="13.23" fill="url(#g8)"/>
<polygon points="400.76,592.94 400.76,581.02 401.98,579.03 401.98,590.91" fill="#a74143"/>
<polygon points="395.67,581.02 400.76,581.02 401.98,579.03 396.91,579.03" fill="#bf5b5d"/>
<rect x="395.67" y="581.02" width="5.09" height="11.93" fill="url(#g8)"/>
<polygon points="408.97,592.94 408.97,581.02 410.16,579.03 410.16,590.91" fill="#a74143"/>
<polygon points="403.88,581.02 408.97,581.02 410.16,579.03 405.09,579.03" fill="#bf5b5d"/>
<rect x="403.88" y="581.02" width="5.09" height="11.93" fill="url(#g8)"/>
<polygon points="417.17,592.94 417.17,512.49 418.34,510.73 418.34,590.91" fill="#a74143"/>
<polygon points="412.08,512.49 417.17,512.49 418.34,510.73 413.27,510.73" fill="#bf5b5d"/>
<rect x="412.08" y="512.49" width="5.09" height="80.45" fill="url(#g8)"/>
<polygon points="425.38,592.94 425.38,581.02 426.52,579.03 426.52,590.91" fill="#a74143"/>
<polygon points="420.29,581.02 425.38,581.02 426.52,579.03 421.45,579.03" fill="#bf5b5d"/>
<rect x="420.29" y="581.02" width="5.09" height="11.93" fill="url(#g8)"/>
<polygon points="433.59,592.94 433.59,581.02 434.70,579.03 434.70,590.91" fill="#a74143"/>
<polygon points="428.50,581.02 433.59,581.02 434.70,579.03 429.62,579.03" fill="#bf5b5d"/>
<rect x="428.50" y="581.02" width="5.09" height="11.93" fill="url(#g8)"/>
<polygon points="466.41,592.94 466.41,581.02 467.41,579.03 467.41,590.91" fill="#a74143"/>
<polygon points="461.32,581.02 466.41,581.02 467.41,579.03 462.34,579.03" fill="#bf5b5d"/>
<rect x="461.32" y="581.02" width="5.09" height="11.93" fill="url(#g8)"/>
<polygon points="482.83,592.94 482.83,581.02 483.77,579.03 483.77,590.91" fill="#a74143"/>
<polygon points="477.74,581.02 482.83,581.02 483.77,579.03 478.70,579.03" fill="#bf5b5d"/>
<rect x="477.74" y="581.02" width="5.09" height="11.93" fill="url(#g8)"/>
<polygon points="499.24,592.94 499.24,581.02 500.13,579.03 500.13,590.91" fill="#a74143"/>
<polygon points="494.15,581.02 499.24,581.02 500.13,579.03 495.06,579.03" fill="#bf5b5d"/>
<rect x="494.15" y="581.02" width="5.09" height="11.93" fill="url(#g8)"/>
<polygon points="236.94,612.06 236.94,600.50 238.76,598.38 238.76,609.90" fill="#aea9cf"/>
<polygon points="231.69,600.50 236.94,600.50 238.76,598.38 233.53,598.38" fill="#c4c0df"/>
<rect x="231.69" y="600.50" width="5.25" height="11.56" fill="url(#g7)"/>
<polygon points="245.40,612.06 245.40,601.10 247.19,598.98 247.19,609.90" fill="#aea9cf"/>
<polygon points="240.16,601.10 245.40,601.10 247.19,598.98 241.96,598.98" fill="#c4c0df"/>
<rect x="240.16" y="601.10" width="5.25" height="10.96" fill="url(#g7)"/>
<polygon points="270.79,612.06 270.79,593.48 272.50,591.38 272.50,609.90" fill="#aea9cf"/>
<polygon points="265.55,593.48 270.79,593.48 272.50,591.38 267.27,591.38" fill="#c4c0df"/>
<rect x="265.55" y="593.48" width="5.25" height="18.58" fill="url(#g7)"/>
<polygon points="279.26,612.06 279.26,587.96 280.93,585.88 280.93,609.90" fill="#aea9cf"/>
<polygon points="274.01,587.96 279.26,587.96 280.93,585.88 275.70,585.88" fill="#c4c0df"/>
<rect x="274.01" y="587.96" width="5.25" height="24.10" fill="url(#g7)"/>
<polygon points="287.72,612.06 287.72,600.30 289.37,598.18 289.37,609.90" fill="#aea9cf"/>
<polygon points="282.47,600.30 287.72,600.30 289.37,598.18 284.14,598.18" fill="#c4c0df"/>
<rect x="282.47" y="600.30" width="5.25" height="11.76" fill="url(#g7)"/>
<polygon points="296.19,612.06 296.19,600.30 297.80,598.18 297.80,609.90" fill="#aea9cf"/>
<polygon points="290.94,600.30 296.19,600.30 297.80,598.18 292.57,598.18" fill="#c4c0df"/>
<rect x="290.94" y="600.30" width="5.25" height="11.76" fill="url(#g7)"/>
<polygon points="304.65,612.06 304.65,600.30 306.24,598.18 306.24,609.90" fill="#aea9cf"/>
<polygon points="299.40,600.30 304.65,600.30 306.24,598.18 301.01,598.18" fill="#c4c0df"/>
<rect x="299.40" y="600.30" width="5.25" height="11.76" fill="url(#g7)"/>
<polygon points="338.50,612.06 338.50,600.30 339.98,598.18 339.98,609.90" fill="#aea9cf"/>
<polygon points="333.26,600.30 338.50,600.30 339.98,598.18 334.75,598.18" fill="#c4c0df"/>
<rect x="333.26" y="600.30" width="5.25" height="11.76" fill="url(#g7)"/>
<polygon points="346.97,612.06 346.97,600.30 348.41,598.18 348.41,609.90" fill="#aea9cf"/>
<polygon points="341.72,600.30 346.97,600.30 348.41,598.18 343.18,598.18" fill="#c4c0df"/>
<rect x="341.72" y="600.30" width="5.25" height="11.76" fill="url(#g7)"/>
<polygon points="355.43,612.06 355.43,598.90 356.85,596.78 356.85,609.90" fill="#aea9cf"/>
<polygon points="350.19,598.90 355.43,598.90 356.85,596.78 351.62,596.78" fill="#c4c0df"/>
<rect x="350.19" y="598.90" width="5.25" height="13.17" fill="url(#g7)"/>
<polygon points="363.90,612.06 363.90,597.59 365.28,595.48 365.28,609.90" fill="#aea9cf"/>
<polygon points="358.65,597.59 363.90,597.59 365.28,595.48 360.05,595.48" fill="#c4c0df"/>
<rect x="358.65" y="597.59" width="5.25" height="14.47" fill="url(#g7)"/>
<polygon points="372.36,612.06 372.36,600.30 373.72,598.18 373.72,609.90" fill="#aea9cf"/>
<polygon points="367.11,600.30 372.36,600.30 373.72,598.18 368.49,598.18" fill="#c4c0df"/>
<rect x="367.11" y="600.30" width="5.25" height="11.76" fill="url(#g7)"/>
<polygon points="389.29,612.06 389.29,600.30 390.58,598.18 390.58,609.90" fill="#aea9cf"/>
<polygon points="384.04,600.30 389.29,600.30 390.58,598.18 385.36,598.18" fill="#c4c0df"/>
<rect x="384.04" y="600.30" width="5.25" height="11.76" fill="url(#g7)"/>
<polygon points="397.75,612.06 397.75,600.30 399.02,598.18 399.02,609.90" fill="#aea9cf"/>
<polygon points="392.50,600.30 397.75,600.30 399.02,598.18 393.79,598.18" fill="#c4c0df"/>
<rect x="392.50" y="600.30" width="5.25" height="11.76" fill="url(#g7)"/>
<polygon points="406.22,612.06 406.22,518.92 407.45,517.08 407.45,609.90" fill="#aea9cf"/>
<polygon points="400.97,518.92 406.22,518.92 407.45,517.08 402.22,517.08" fill="#c4c0df"/>
<rect x="400.97" y="518.92" width="5.25" height="93.14" fill="url(#g7)"/>
<polygon points="414.68,612.06 414.68,600.30 415.89,598.18 415.89,609.90" fill="#aea9cf"/>
<polygon points="409.43,600.30 414.68,600.30 415.89,598.18 410.66,598.18" fill="#c4c0df"/>
<rect x="409.43" y="600.30" width="5.25" height="11.76" fill="url(#g7)"/>
<polygon points="423.14,612.06 423.14,600.30 424.32,598.18 424.32,609.90" fill="#aea9cf"/>
<polygon points="417.90,600.30 423.14,600.30 424.32,598.18 419.09,598.18" fill="#c4c0df"/>
<rect x="417.90" y="600.30" width="5.25" height="11.76" fill="url(#g7)"/>
<polygon points="473.93,612.06 473.93,600.30 474.93,598.18 474.93,609.90" fill="#aea9cf"/>
<polygon points="468.68,600.30 473.93,600.30 474.93,598.18 469.70,598.18" fill="#c4c0df"/>
<rect x="468.68" y="600.30" width="5.25" height="11.76" fill="url(#g7)"/>
<polygon points="490.85,612.06 490.85,600.30 491.80,598.18 491.80,609.90" fill="#aea9cf"/>
<polygon points="485.61,600.30 490.85,600.30 491.80,598.18 486.57,598.18" fill="#c4c0df"/>
<rect x="485.61" y="600.30" width="5.25" height="11.76" fill="url(#g7)"/>
<polygon points="211.06,632.42 211.06,620.23 213.03,617.97 213.03,630.12" fill="#e96f16"/>
<polygon points="205.65,620.23 211.06,620.23 213.03,617.97 207.64,617.97" fill="#f98937"/>
<rect x="205.65" y="620.23" width="5.42" height="12.19" fill="url(#g6)"/>
<polygon points="246.01,632.42 246.01,603.47 247.86,601.27 247.86,630.12" fill="#e96f16"/>
<polygon points="240.60,603.47 246.01,603.47 247.86,601.27 242.46,601.27" fill="#f98937"/>
<rect x="240.60" y="603.47" width="5.42" height="28.95" fill="url(#g6)"/>
<polygon points="254.75,632.42 254.75,602.46 256.57,600.27 256.57,630.12" fill="#e96f16"/>
<polygon points="249.33,602.46 254.75,602.46 256.57,600.27 251.17,600.27" fill="#f98937"/>
<rect x="249.33" y="602.46" width="5.42" height="29.96" fill="url(#g6)"/>
<polygon points="263.49,632.42 263.49,596.54 265.27,594.37 265.27,630.12" fill="#e96f16"/>
<polygon points="258.07,596.54 263.49,596.54 265.27,594.37 259.87,594.37" fill="#f98937"/>
<rect x="258.07" y="596.54" width="5.42" height="35.88" fill="url(#g6)"/>
<polygon points="272.23,632.42 272.23,620.83 273.98,618.57 273.98,630.12" fill="#e96f16"/>
<polygon points="266.81,620.83 272.23,620.83 273.98,618.57 268.58,618.57" fill="#f98937"/>
<rect x="266.81" y="620.83" width="5.42" height="11.59" fill="url(#g6)"/>
<polygon points="280.96,632.42 280.96,620.83 282.69,618.57 282.69,630.12" fill="#e96f16"/>
<polygon points="275.55,620.83 280.96,620.83 282.69,618.57 277.29,618.57" fill="#f98937"/>
<rect x="275.55" y="620.83" width="5.42" height="11.59" fill="url(#g6)"/>
<polygon points="289.70,632.42 289.70,620.83 291.39,618.57 291.39,630.12" fill="#e96f16"/>
<polygon points="284.28,620.83 289.70,620.83 291.39,618.57 285.99,618.57" fill="#f98937"/>
<rect x="284.28" y="620.83" width="5.42" height="11.59" fill="url(#g6)"/>
<polygon points="324.65,632.42 324.65,620.83 326.22,618.57 326.22,630.12" fill="#e96f16"/>
<polygon points="319.23,620.83 324.65,620.83 326.22,618.57 320.82,618.57" fill="#f98937"/>
<rect x="319.23" y="620.83" width="5.42" height="11.59" fill="url(#g6)"/>
<polygon points="333.39,632.42 333.39,620.83 334.92,618.57 334.92,630.12" fill="#e96f16"/>
<polygon points="327.97,620.83 333.39,620.83 334.92,618.57 329.53,618.57" fill="#f98937"/>
<rect x="327.97" y="620.83" width="5.42" height="11.59" fill="url(#g6)"/>
<polygon points="342.13,632.42 342.13,619.52 343.63,617.27 343.63,630.12" fill="#e96f16"/>
<polygon points="336.71,619.52 342.13,619.52 343.63,617.27 338.23,617.27" fill="#f98937"/>
<rect x="336.71" y="619.52" width="5.42" height="12.90" fill="url(#g6)"/>
<polygon points="350.86,632.42 350.86,619.52 352.34,617.27 352.34,630.12" fill="#e96f16"/>
<polygon points="345.45,619.52 350.86,619.52 352.34,617.27 346.94,617.27" fill="#f98937"/>
<rect x="345.45" y="619.52" width="5.42" height="12.90" fill="url(#g6)"/>
<polygon points="359.60,632.42 359.60,620.83 361.04,618.57 361.04,630.12" fill="#e96f16"/>
<polygon points="354.18,620.83 359.60,620.83 361.04,618.57 355.65,618.57" fill="#f98937"/>
<rect x="354.18" y="620.83" width="5.42" height="11.59" fill="url(#g6)"/>
<polygon points="377.08,632.42 377.08,619.52 378.46,617.27 378.46,630.12" fill="#e96f16"/>
<polygon points="371.66,619.52 377.08,619.52 378.46,617.27 373.06,617.27" fill="#f98937"/>
<rect x="371.66" y="619.52" width="5.42" height="12.90" fill="url(#g6)"/>
<polygon points="385.81,632.42 385.81,619.52 387.16,617.27 387.16,630.12" fill="#e96f16"/>
<polygon points="380.40,619.52 385.81,619.52 387.16,617.27 381.77,617.27" fill="#f98937"/>
<rect x="380.40" y="619.52" width="5.42" height="12.90" fill="url(#g6)"/>
<polygon points="394.55,632.42 394.55,567.54 395.87,565.47 395.87,630.12" fill="#e96f16"/>
<polygon points="389.13,567.54 394.55,567.54 395.87,565.47 390.47,565.47" fill="#f98937"/>
<rect x="389.13" y="567.54" width="5.42" height="64.88" fill="url(#g6)"/>
<polygon points="403.29,632.42 403.29,620.73 404.58,618.47 404.58,630.12" fill="#e96f16"/>
<polygon points="397.87,620.73 403.29,620.73 404.58,618.47 399.18,618.47" fill="#f98937"/>
<rect x="397.87" y="620.73" width="5.42" height="11.69" fill="url(#g6)"/>
<polygon points="429.50,632.42 429.50,620.73 430.70,618.47 430.70,630.12" fill="#e96f16"/>
<polygon points="424.08,620.73 429.50,620.73 430.70,618.47 425.30,618.47" fill="#f98937"/>
<rect x="424.08" y="620.73" width="5.42" height="11.69" fill="url(#g6)"/>
<polygon points="446.98,632.42 446.98,620.73 448.11,618.47 448.11,630.12" fill="#e96f16"/>
<polygon points="441.56,620.73 446.98,620.73 448.11,618.47 442.71,618.47" fill="#f98937"/>
<rect x="441.56" y="620.73" width="5.42" height="11.69" fill="url(#g6)"/>
<polygon points="455.71,632.42 455.71,620.73 456.82,618.47 456.82,630.12" fill="#e96f16"/>
<polygon points="450.30,620.73 455.71,620.73 456.82,618.47 451.42,618.47" fill="#f98937"/>
<rect x="450.30" y="620.73" width="5.42" height="11.69" fill="url(#g6)"/>
<polygon points="464.45,632.42 464.45,620.73 465.52,618.47 465.52,630.12" fill="#e96f16"/>
<polygon points="459.03,620.73 464.45,620.73 465.52,618.47 460.12,618.47" fill="#f98937"/>
<rect x="459.03" y="620.73" width="5.42" height="11.69" fill="url(#g6)"/>
<polygon points="481.93,632.42 481.93,620.73 482.94,618.47 482.94,630.12" fill="#e96f16"/>
<polygon points="476.51,620.73 481.93,620.73 482.94,618.47 477.54,618.47" fill="#f98937"/>
<rect x="476.51" y="620.73" width="5.42" height="11.69" fill="url(#g6)"/>
<polygon points="192.49,654.13 192.49,641.92 194.59,639.50 194.59,651.67" fill="#15a535"/>
<polygon points="186.89,641.92 192.49,641.92 194.59,639.50 189.01,639.50" fill="#34bf51"/>
<rect x="186.89" y="641.92" width="5.60" height="12.22" fill="url(#g5)"/>
<polygon points="201.52,654.13 201.52,642.22 203.59,639.80 203.59,651.67" fill="#15a535"/>
<polygon points="195.92,642.22 201.52,642.22 203.59,639.80 198.01,639.80" fill="#34bf51"/>
<rect x="195.92" y="642.22" width="5.60" height="11.92" fill="url(#g5)"/>
<polygon points="210.55,654.13 210.55,640.61 212.58,638.20 212.58,651.67" fill="#15a535"/>
<polygon points="204.95,640.61 210.55,640.61 212.58,638.20 207.01,638.20" fill="#34bf51"/>
<rect x="204.95" y="640.61" width="5.60" height="13.52" fill="url(#g5)"/>
<polygon points="237.64,654.13 237.64,629.87 239.57,627.50 239.57,651.67" fill="#15a535"/>
<polygon points="232.04,629.87 237.64,629.87 239.57,627.50 234.00,627.50" fill="#34bf51"/>
<rect x="232.04" y="629.87" width="5.60" height="24.26" fill="url(#g5)"/>
<polygon points="246.66,654.13 246.66,603.58 248.57,601.30 248.57,651.67" fill="#15a535"/>
<polygon points="241.07,603.58 246.66,603.58 248.57,601.30 242.99,601.30" fill="#34bf51"/>
<rect x="241.07" y="603.58" width="5.60" height="50.56" fill="url(#g5)"/>
<polygon points="255.69,654.13 255.69,642.22 257.57,639.80 257.57,651.67" fill="#15a535"/>
<polygon points="250.10,642.22 255.69,642.22 257.57,639.80 251.99,639.80" fill="#34bf51"/>
<rect x="250.10" y="642.22" width="5.60" height="11.92" fill="url(#g5)"/>
<polygon points="264.72,654.13 264.72,641.52 266.56,639.10 266.56,651.67" fill="#15a535"/>
<polygon points="259.13,641.52 264.72,641.52 266.56,639.10 260.99,639.10" fill="#34bf51"/>
<rect x="259.13" y="641.52" width="5.60" height="12.62" fill="url(#g5)"/>
<polygon points="273.75,654.13 273.75,641.52 275.56,639.10 275.56,651.67" fill="#15a535"/>
<polygon points="268.15,641.52 273.75,641.52 275.56,639.10 269.98,639.10" fill="#34bf51"/>
<rect x="268.15" y="641.52" width="5.60" height="12.62" fill="url(#g5)"/>
<polygon points="282.78,654.13 282.78,641.52 284.56,639.10 284.56,651.67" fill="#15a535"/>
<polygon points="277.18,641.52 282.78,641.52 284.56,639.10 278.98,639.10" fill="#34bf51"/>
<rect x="277.18" y="641.52" width="5.60" height="12.62" fill="url(#g5)"/>
<polygon points="300.84,654.13 300.84,641.52 302.55,639.10 302.55,651.67" fill="#15a535"/>
<polygon points="295.24,641.52 300.84,641.52 302.55,639.10 296.97,639.10" fill="#34bf51"/>
<rect x="295.24" y="641.52" width="5.60" height="12.62" fill="url(#g5)"/>
<polygon points="309.87,654.13 309.87,641.52 311.54,639.10 311.54,651.67" fill="#15a535"/>
<polygon points="304.27,641.52 309.87,641.52 311.54,639.10 305.97,639.10" fill="#34bf51"/>
<rect x="304.27" y="641.52" width="5.60" height="12.62" fill="url(#g5)"/>
<polygon points="318.90,654.13 318.90,641.52 320.54,639.10 320.54,651.67" fill="#15a535"/>
<polygon points="313.30,641.52 318.90,641.52 320.54,639.10 314.96,639.10" fill="#34bf51"/>
<rect x="313.30" y="641.52" width="5.60" height="12.62" fill="url(#g5)"/>
<polygon points="327.93,654.13 327.93,641.52 329.54,639.10 329.54,651.67" fill="#15a535"/>
<polygon points="322.33,641.52 327.93,641.52 329.54,639.10 323.96,639.10" fill="#34bf51"/>
<rect x="322.33" y="641.52" width="5.60" height="12.62" fill="url(#g5)"/>
<polygon points="336.96,654.13 336.96,631.88 338.53,629.50 338.53,651.67" fill="#15a535"/>
<polygon points="331.36,631.88 336.96,631.88 338.53,629.50 332.96,629.50" fill="#34bf51"/>
<rect x="331.36" y="631.88" width="5.60" height="22.25" fill="url(#g5)"/>
<polygon points="345.99,654.13 345.99,641.52 347.53,639.10 347.53,651.67" fill="#15a535"/>
<polygon points="340.39,641.52 345.99,641.52 347.53,639.10 341.95,639.10" fill="#34bf51"/>
<rect x="340.39" y="641.52" width="5.60" height="12.62" fill="url(#g5)"/>
<polygon points="355.02,654.13 355.02,641.52 356.53,639.10 356.53,651.67" fill="#15a535"/>
<polygon points="349.42,641.52 355.02,641.52 356.53,639.10 350.95,639.10" fill="#34bf51"/>
<rect x="349.42" y="641.52" width="5.60" height="12.62" fill="url(#g5)"/>
<polygon points="364.05,654.13 364.05,641.52 365.52,639.10 365.52,651.67" fill="#15a535"/>
<polygon points="358.45,641.52 364.05,641.52 365.52,639.10 359.95,639.10" fill="#34bf51"/>
<rect x="358.45" y="641.52" width="5.60" height="12.62" fill="url(#g5)"/>
<polygon points="382.11,654.13 382.11,547.07 383.52,545.00 383.52,651.67" fill="#15a535"/>
<polygon points="376.51,547.07 382.11,547.07 383.52,545.00 377.94,545.00" fill="#34bf51"/>
<rect x="376.51" y="547.07" width="5.60" height="107.06" fill="url(#g5)"/>
<polygon points="391.14,654.13 391.14,641.52 392.51,639.10 392.51,651.67" fill="#15a535"/>
<polygon points="385.54,641.52 391.14,641.52 392.51,639.10 386.93,639.10" fill="#34bf51"/>
<rect x="385.54" y="641.52" width="5.60" height="12.62" fill="url(#g5)"/>
<polygon points="400.17,654.13 400.17,640.01 401.51,637.60 401.51,651.67" fill="#15a535"/>
<polygon points="394.57,640.01 400.17,640.01 401.51,637.60 395.93,637.60" fill="#34bf51"/>
<rect x="394.57" y="640.01" width="5.60" height="14.12" fill="url(#g5)"/>
<polygon points="409.19,654.13 409.19,640.01 410.50,637.60 410.50,651.67" fill="#15a535"/>
<polygon points="403.60,640.01 409.19,640.01 410.50,637.60 404.93,637.60" fill="#34bf51"/>
<rect x="403.60" y="640.01" width="5.60" height="14.12" fill="url(#g5)"/>
<polygon points="418.22,654.13 418.22,640.01 419.50,637.60 419.50,651.67" fill="#15a535"/>
<polygon points="412.63,640.01 418.22,640.01 419.50,637.60 413.92,637.60" fill="#34bf51"/>
<rect x="412.63" y="640.01" width="5.60" height="14.12" fill="url(#g5)"/>
<polygon points="427.25,654.13 427.25,640.01 428.50,637.60 428.50,651.67" fill="#15a535"/>
<polygon points="421.66,640.01 427.25,640.01 428.50,637.60 422.92,637.60" fill="#34bf51"/>
<rect x="421.66" y="640.01" width="5.60" height="14.12" fill="url(#g5)"/>
<polygon points="436.28,654.13 436.28,640.01 437.49,637.60 437.49,651.67" fill="#15a535"/>
<polygon points="430.68,640.01 436.28,640.01 437.49,637.60 431.92,637.60" fill="#34bf51"/>
<rect x="430.68" y="640.01" width="5.60" height="14.12" fill="url(#g5)"/>
<polygon points="445.31,654.13 445.31,640.01 446.49,637.60 446.49,651.67" fill="#15a535"/>
<polygon points="439.71,640.01 445.31,640.01 446.49,637.60 440.91,637.60" fill="#34bf51"/>
<rect x="439.71" y="640.01" width="5.60" height="14.12" fill="url(#g5)"/>
<polygon points="454.34,654.13 454.34,640.01 455.49,637.60 455.49,651.67" fill="#15a535"/>
<polygon points="448.74,640.01 454.34,640.01 455.49,637.60 449.91,637.60" fill="#34bf51"/>
<rect x="448.74" y="640.01" width="5.60" height="14.12" fill="url(#g5)"/>
<polygon points="472.40,654.13 472.40,640.01 473.48,637.60 473.48,651.67" fill="#15a535"/>
<polygon points="466.80,640.01 472.40,640.01 473.48,637.60 467.90,637.60" fill="#34bf51"/>
<rect x="466.80" y="640.01" width="5.60" height="14.12" fill="url(#g5)"/>
<polygon points="172.63,677.35 172.63,665.02 174.88,662.43 174.88,674.72" fill="#81549c"/>
<polygon points="166.84,665.02 172.63,665.02 174.88,662.43 169.11,662.43" fill="#9a6db4"/>
<rect x="166.84" y="665.02" width="5.79" height="12.33" fill="url(#g4)"/>
<polygon points="181.97,677.35 181.97,665.02 184.19,662.43 184.19,674.72" fill="#81549c"/>
<polygon points="176.18,665.02 181.97,665.02 184.19,662.43 178.42,662.43" fill="#9a6db4"/>
<rect x="176.18" y="665.02" width="5.79" height="12.33" fill="url(#g4)"/>
<polygon points="191.31,677.35 191.31,665.02 193.49,662.43 193.49,674.72" fill="#81549c"/>
<polygon points="185.52,665.02 191.31,665.02 193.49,662.43 187.72,662.43" fill="#9a6db4"/>
<rect x="185.52" y="665.02" width="5.79" height="12.33" fill="url(#g4)"/>
<polygon points="219.34,677.35 219.34,618.94 221.41,616.53 221.41,674.72" fill="#81549c"/>
<polygon points="213.54,618.94 219.34,618.94 221.41,616.53 215.64,616.53" fill="#9a6db4"/>
<rect x="213.54" y="618.94" width="5.79" height="58.41" fill="url(#g4)"/>
<polygon points="228.68,677.35 228.68,545.16 230.72,543.03 230.72,674.72" fill="#81549c"/>
<polygon points="222.89,545.16 228.68,545.16 230.72,543.03 224.95,543.03" fill="#9a6db4"/>
<rect x="222.89" y="545.16" width="5.79" height="132.19" fill="url(#g4)"/>
<polygon points="238.02,677.35 238.02,664.92 240.02,662.33 240.02,674.72" fill="#81549c"/>
<polygon points="232.23,664.92 238.02,664.92 240.02,662.33 234.25,662.33" fill="#9a6db4"/>
<rect x="232.23" y="664.92" width="5.79" height="12.43" fill="url(#g4)"/>
<polygon points="247.36,677.35 247.36,664.92 249.33,662.33 249.33,674.72" fill="#81549c"/>
<polygon points="241.57,664.92 247.36,664.92 249.33,662.33 243.56,662.33" fill="#9a6db4"/>
<rect x="241.57" y="664.92" width="5.79" height="12.43" fill="url(#g4)"/>
<polygon points="256.70,677.35 256.70,664.92 258.64,662.33 258.64,674.72" fill="#81549c"/>
<polygon points="250.91,664.92 256.70,664.92 258.64,662.33 252.87,662.33" fill="#9a6db4"/>
<rect x="250.91" y="664.92" width="5.79" height="12.43" fill="url(#g4)"/>
<polygon points="294.07,677.35 294.07,664.92 295.86,662.33 295.86,674.72" fill="#81549c"/>
<polygon points="288.28,664.92 294.07,664.92 295.86,662.33 290.09,662.33" fill="#9a6db4"/>
<rect x="288.28" y="664.92" width="5.79" height="12.43" fill="url(#g4)"/>
<polygon points="303.41,677.35 303.41,664.92 305.17,662.33 305.17,674.72" fill="#81549c"/>
<polygon points="297.62,664.92 303.41,664.92 305.17,662.33 299.40,662.33" fill="#9a6db4"/>
<rect x="297.62" y="664.92" width="5.79" height="12.43" fill="url(#g4)"/>
<polygon points="312.75,677.35 312.75,663.61 314.47,661.03 314.47,674.72" fill="#81549c"/>
<polygon points="306.96,663.61 312.75,663.61 314.47,661.03 308.70,661.03" fill="#9a6db4"/>
<rect x="306.96" y="663.61" width="5.79" height="13.74" fill="url(#g4)"/>
<polygon points="322.09,677.35 322.09,663.01 323.78,660.43 323.78,674.72" fill="#81549c"/>
<polygon points="316.30,663.01 322.09,663.01 323.78,660.43 318.01,660.43" fill="#9a6db4"/>
<rect x="316.30" y="663.01" width="5.79" height="14.34" fill="url(#g4)"/>
<polygon points="331.44,677.35 331.44,664.92 333.09,662.33 333.09,674.72" fill="#81549c"/>
<polygon points="325.64,664.92 331.44,664.92 333.09,662.33 327.32,662.33" fill="#9a6db4"/>
<rect x="325.64" y="664.92" width="5.79" height="12.43" fill="url(#g4)"/>
<polygon points="350.12,677.35 350.12,664.92 351.70,662.33 351.70,674.72" fill="#81549c"/>
<polygon points="344.33,664.92 350.12,664.92 351.70,662.33 345.93,662.33" fill="#9a6db4"/>
<rect x="344.33" y="664.92" width="5.79" height="12.43" fill="url(#g4)"/>
<polygon points="359.46,677.35 359.46,664.92 361.00,662.33 361.00,674.72" fill="#81549c"/>
<polygon points="353.67,664.92 359.46,664.92 361.00,662.33 355.23,662.33" fill="#9a6db4"/>
<rect x="353.67" y="664.92" width="5.79" height="12.43" fill="url(#g4)"/>
<polygon points="368.80,677.35 368.80,611.52 370.31,609.13 370.31,674.72" fill="#81549c"/>
<polygon points="363.01,611.52 368.80,611.52 370.31,609.13 364.54,609.13" fill="#9a6db4"/>
<rect x="363.01" y="611.52" width="5.79" height="65.84" fill="url(#g4)"/>
<polygon points="378.14,677.35 378.14,664.92 379.62,662.33 379.62,674.72" fill="#81549c"/>
<polygon points="372.35,664.92 378.14,664.92 379.62,662.33 373.85,662.33" fill="#9a6db4"/>
<rect x="372.35" y="664.92" width="5.79" height="12.43" fill="url(#g4)"/>
<polygon points="387.48,677.35 387.48,663.61 388.92,661.03 388.92,674.72" fill="#81549c"/>
<polygon points="381.69,663.61 387.48,663.61 388.92,661.03 383.15,661.03" fill="#9a6db4"/>
<rect x="381.69" y="663.61" width="5.79" height="13.74" fill="url(#g4)"/>
<polygon points="406.17,677.35 406.17,664.82 407.53,662.23 407.53,674.72" fill="#81549c"/>
<polygon points="400.38,664.82 406.17,664.82 407.53,662.23 401.76,662.23" fill="#9a6db4"/>
<rect x="400.38" y="664.82" width="5.79" height="12.53" fill="url(#g4)"/>
<polygon points="443.53,677.35 443.53,664.82 444.76,662.23 444.76,674.72" fill="#81549c"/>
<polygon points="437.74,664.82 443.53,664.82 444.76,662.23 438.99,662.23" fill="#9a6db4"/>
<rect x="437.74" y="664.82" width="5.79" height="12.53" fill="url(#g4)"/>
<polygon points="462.22,677.35 462.22,664.82 463.37,662.23 463.37,674.72" fill="#81549c"/>
<polygon points="456.43,664.82 462.22,664.82 463.37,662.23 457.60,662.23" fill="#9a6db4"/>
<rect x="456.43" y="664.82" width="5.79" height="12.53" fill="url(#g4)"/>
<polygon points="151.35,702.23 151.35,689.29 153.76,686.52 153.76,699.41" fill="#eca1bd"/>
<polygon points="145.35,689.29 151.35,689.29 153.76,686.52 147.79,686.52" fill="#f6bbd0"/>
<rect x="145.35" y="689.29" width="6.00" height="12.94" fill="url(#g3)"/>
<polygon points="161.02,702.23 161.02,689.29 163.40,686.52 163.40,699.41" fill="#eca1bd"/>
<polygon points="155.02,689.29 161.02,689.29 163.40,686.52 157.42,686.52" fill="#f6bbd0"/>
<rect x="155.02" y="689.29" width="6.00" height="12.94" fill="url(#g3)"/>
<polygon points="170.70,702.23 170.70,689.29 173.04,686.52 173.04,699.41" fill="#eca1bd"/>
<polygon points="164.70,689.29 170.70,689.29 173.04,686.52 167.06,686.52" fill="#f6bbd0"/>
<rect x="164.70" y="689.29" width="6.00" height="12.94" fill="url(#g3)"/>
<polygon points="199.73,702.23 199.73,685.47 201.95,682.72 201.95,699.41" fill="#eca1bd"/>
<polygon points="193.73,685.47 199.73,685.47 201.95,682.72 195.98,682.72" fill="#f6bbd0"/>
<rect x="193.73" y="685.47" width="6.00" height="16.76" fill="url(#g3)"/>
<polygon points="209.40,702.23 209.40,536.59 211.59,534.42 211.59,699.41" fill="#eca1bd"/>
<polygon points="203.40,536.59 209.40,536.59 211.59,534.42 205.62,534.42" fill="#f6bbd0"/>
<rect x="203.40" y="536.59" width="6.00" height="165.64" fill="url(#g3)"/>
<polygon points="219.08,702.23 219.08,689.29 221.23,686.52 221.23,699.41" fill="#eca1bd"/>
<polygon points="213.08,689.29 219.08,689.29 221.23,686.52 215.25,686.52" fill="#f6bbd0"/>
<rect x="213.08" y="689.29" width="6.00" height="12.94" fill="url(#g3)"/>
<polygon points="228.76,702.23 228.76,689.29 230.87,686.52 230.87,699.41" fill="#eca1bd"/>
<polygon points="222.76,689.29 228.76,689.29 230.87,686.52 224.89,686.52" fill="#f6bbd0"/>
<rect x="222.76" y="689.29" width="6.00" height="12.94" fill="url(#g3)"/>
<polygon points="238.43,702.23 238.43,688.79 240.50,686.02 240.50,699.41" fill="#eca1bd"/>
<polygon points="232.43,688.79 238.43,688.79 240.50,686.02 234.53,686.02" fill="#f6bbd0"/>
<rect x="232.43" y="688.79" width="6.00" height="13.44" fill="url(#g3)"/>
<polygon points="257.78,702.23 257.78,688.28 259.78,685.52 259.78,699.41" fill="#eca1bd"/>
<polygon points="251.78,688.28 257.78,688.28 259.78,685.52 253.81,685.52" fill="#f6bbd0"/>
<rect x="251.78" y="688.28" width="6.00" height="13.95" fill="url(#g3)"/>
<polygon points="277.14,702.23 277.14,689.49 279.06,686.72 279.06,699.41" fill="#eca1bd"/>
<polygon points="271.14,689.49 277.14,689.49 279.06,686.72 273.08,686.72" fill="#f6bbd0"/>
<rect x="271.14" y="689.49" width="6.00" height="12.74" fill="url(#g3)"/>
<polygon points="286.81,702.23 286.81,689.49 288.70,686.72 288.70,699.41" fill="#eca1bd"/>
<polygon points="280.81,689.49 286.81,689.49 288.70,686.72 282.72,686.72" fill="#f6bbd0"/>
<rect x="280.81" y="689.49" width="6.00" height="12.74" fill="url(#g3)"/>
<polygon points="296.49,702.23 296.49,687.28 298.33,684.52 298.33,699.41" fill="#eca1bd"/>
<polygon points="290.49,687.28 296.49,687.28 298.33,684.52 292.36,684.52" fill="#f6bbd0"/>
<rect x="290.49" y="687.28" width="6.00" height="14.95" fill="url(#g3)"/>
<polygon points="306.16,702.23 306.16,687.28 307.97,684.52 307.97,699.41" fill="#eca1bd"/>
<polygon points="300.16,687.28 306.16,687.28 307.97,684.52 302.00,684.52" fill="#f6bbd0"/>
<rect x="300.16" y="687.28" width="6.00" height="14.95" fill="url(#g3)"/>
<polygon points="315.84,702.23 315.84,689.19 317.61,686.42 317.61,699.41" fill="#eca1bd"/>
<polygon points="309.84,689.19 315.84,689.19 317.61,686.42 311.63,686.42" fill="#f6bbd0"/>
<rect x="309.84" y="689.19" width="6.00" height="13.04" fill="url(#g3)"/>
<polygon points="335.19,702.23 335.19,689.19 336.89,686.42 336.89,699.41" fill="#eca1bd"/>
<polygon points="329.19,689.19 335.19,689.19 336.89,686.42 330.91,686.42" fill="#f6bbd0"/>
<rect x="329.19" y="689.19" width="6.00" height="13.04" fill="url(#g3)"/>
<polygon points="344.87,702.23 344.87,689.19 346.52,686.42 346.52,699.41" fill="#eca1bd"/>
<polygon points="338.87,689.19 344.87,689.19 346.52,686.42 340.55,686.42" fill="#f6bbd0"/>
<rect x="338.87" y="689.19" width="6.00" height="13.04" fill="url(#g3)"/>
<polygon points="354.54,702.23 354.54,659.97 356.16,657.32 356.16,699.41" fill="#eca1bd"/>
<polygon points="348.54,659.97 354.54,659.97 356.16,657.32 350.19,657.32" fill="#f6bbd0"/>
<rect x="348.54" y="659.97" width="6.00" height="42.26" fill="url(#g3)"/>
<polygon points="364.22,702.23 364.22,689.19 365.80,686.42 365.80,699.41" fill="#eca1bd"/>
<polygon points="358.22,689.19 364.22,689.19 365.80,686.42 359.82,686.42" fill="#f6bbd0"/>
<rect x="358.22" y="689.19" width="6.00" height="13.04" fill="url(#g3)"/>
<polygon points="383.57,702.23 383.57,680.96 385.08,678.22 385.08,699.41" fill="#eca1bd"/>
<polygon points="377.57,680.96 383.57,680.96 385.08,678.22 379.10,678.22" fill="#f6bbd0"/>
<rect x="377.57" y="680.96" width="6.00" height="21.27" fill="url(#g3)"/>
<polygon points="431.95,702.23 431.95,689.69 433.27,686.92 433.27,699.41" fill="#eca1bd"/>
<polygon points="425.95,689.69 431.95,689.69 433.27,686.92 427.29,686.92" fill="#f6bbd0"/>
<rect x="425.95" y="689.69" width="6.00" height="12.54" fill="url(#g3)"/>
<polygon points="451.30,702.23 451.30,689.69 452.54,686.92 452.54,699.41" fill="#eca1bd"/>
<polygon points="445.30,689.69 451.30,689.69 452.54,686.92 446.57,686.92" fill="#f6bbd0"/>
<rect x="445.30" y="689.69" width="6.00" height="12.54" fill="url(#g3)"/>
<polygon points="128.48,728.96 128.48,715.22 131.08,712.24 131.08,725.92" fill="#483995"/>
<polygon points="122.26,715.22 128.48,715.22 131.08,712.24 124.89,712.24" fill="#6252ad"/>
<rect x="122.26" y="715.22" width="6.22" height="13.74" fill="url(#g2)"/>
<polygon points="148.56,728.96 148.56,715.72 151.07,712.74 151.07,725.92" fill="#483995"/>
<polygon points="142.33,715.72 148.56,715.72 151.07,712.74 144.87,712.74" fill="#6252ad"/>
<rect x="142.33" y="715.72" width="6.22" height="13.24" fill="url(#g2)"/>
<polygon points="168.63,728.96 168.63,715.42 171.06,712.44 171.06,725.92" fill="#483995"/>
<polygon points="162.40,715.42 168.63,715.42 171.06,712.44 164.86,712.44" fill="#6252ad"/>
<rect x="162.40" y="715.42" width="6.22" height="13.54" fill="url(#g2)"/>
<polygon points="178.66,728.96 178.66,712.10 181.06,709.14 181.06,725.92" fill="#483995"/>
<polygon points="172.44,712.10 178.66,712.10 181.06,709.14 174.86,709.14" fill="#6252ad"/>
<rect x="172.44" y="712.10" width="6.22" height="16.85" fill="url(#g2)"/>
<polygon points="188.70,728.96 188.70,644.73 191.05,642.04 191.05,725.92" fill="#483995"/>
<polygon points="182.48,644.73 188.70,644.73 191.05,642.04 184.85,642.04" fill="#6252ad"/>
<rect x="182.48" y="644.73" width="6.22" height="84.23" fill="url(#g2)"/>
<polygon points="198.73,728.96 198.73,715.02 201.04,712.04 201.04,725.92" fill="#483995"/>
<polygon points="192.51,715.02 198.73,715.02 201.04,712.04 194.85,712.04" fill="#6252ad"/>
<rect x="192.51" y="715.02" width="6.22" height="13.94" fill="url(#g2)"/>
<polygon points="208.77,728.96 208.77,715.02 211.04,712.04 211.04,725.92" fill="#483995"/>
<polygon points="202.55,715.02 208.77,715.02 211.04,712.04 204.84,712.04" fill="#6252ad"/>
<rect x="202.55" y="715.02" width="6.22" height="13.94" fill="url(#g2)"/>
<polygon points="218.80,728.96 218.80,715.02 221.03,712.04 221.03,725.92" fill="#483995"/>
<polygon points="212.58,715.02 218.80,715.02 221.03,712.04 214.84,712.04" fill="#6252ad"/>
<rect x="212.58" y="715.02" width="6.22" height="13.94" fill="url(#g2)"/>
<polygon points="238.87,728.96 238.87,713.91 241.02,710.94 241.02,725.92" fill="#483995"/>
<polygon points="232.65,713.91 238.87,713.91 241.02,710.94 234.83,710.94" fill="#6252ad"/>
<rect x="232.65" y="713.91" width="6.22" height="15.05" fill="url(#g2)"/>
<polygon points="258.94,728.96 258.94,715.02 261.01,712.04 261.01,725.92" fill="#483995"/>
<polygon points="252.72,715.02 258.94,715.02 261.01,712.04 254.81,712.04" fill="#6252ad"/>
<rect x="252.72" y="715.02" width="6.22" height="13.94" fill="url(#g2)"/>
<polygon points="268.98,728.96 268.98,715.02 271.01,712.04 271.01,725.92" fill="#483995"/>
<polygon points="262.76,715.02 268.98,715.02 271.01,712.04 264.81,712.04" fill="#6252ad"/>
<rect x="262.76" y="715.02" width="6.22" height="13.94" fill="url(#g2)"/>
<polygon points="279.02,728.96 279.02,715.02 281.00,712.04 281.00,725.92" fill="#483995"/>
<polygon points="272.79,715.02 279.02,715.02 281.00,712.04 274.80,712.04" fill="#6252ad"/>
<rect x="272.79" y="715.02" width="6.22" height="13.94" fill="url(#g2)"/>
<polygon points="289.05,728.96 289.05,715.02 290.99,712.04 290.99,725.92" fill="#483995"/>
<polygon points="282.83,715.02 289.05,715.02 290.99,712.04 284.80,712.04" fill="#6252ad"/>
<rect x="282.83" y="715.02" width="6.22" height="13.94" fill="url(#g2)"/>
<polygon points="299.09,728.96 299.09,715.72 300.99,712.74 300.99,725.92" fill="#483995"/>
<polygon points="292.86,715.72 299.09,715.72 300.99,712.74 294.79,712.74" fill="#6252ad"/>
<rect x="292.86" y="715.72" width="6.22" height="13.24" fill="url(#g2)"/>
<polygon points="319.16,728.96 319.16,715.02 320.98,712.04 320.98,725.92" fill="#483995"/>
<polygon points="312.93,715.02 319.16,715.02 320.98,712.04 314.78,712.04" fill="#6252ad"/>
<rect x="312.93" y="715.02" width="6.22" height="13.94" fill="url(#g2)"/>
<polygon points="329.19,728.96 329.19,715.02 330.97,712.04 330.97,725.92" fill="#483995"/>
<polygon points="322.97,715.02 329.19,715.02 330.97,712.04 324.78,712.04" fill="#6252ad"/>
<rect x="322.97" y="715.02" width="6.22" height="13.94" fill="url(#g2)"/>
<polygon points="339.23,728.96 339.23,692.02 340.97,689.14 340.97,725.92" fill="#483995"/>
<polygon points="333.01,692.02 339.23,692.02 340.97,689.14 334.77,689.14" fill="#6252ad"/>
<rect x="333.01" y="692.02" width="6.22" height="36.93" fill="url(#g2)"/>
<polygon points="349.26,728.96 349.26,715.02 350.96,712.04 350.96,725.92" fill="#483995"/>
<polygon points="343.04,715.02 349.26,715.02 350.96,712.04 344.77,712.04" fill="#6252ad"/>
<rect x="343.04" y="715.02" width="6.22" height="13.94" fill="url(#g2)"/>
<polygon points="369.33,728.96 369.33,706.58 370.95,703.64 370.95,725.92" fill="#483995"/>
<polygon points="363.11,706.58 369.33,706.58 370.95,703.64 364.75,703.64" fill="#6252ad"/>
<rect x="363.11" y="706.58" width="6.22" height="22.38" fill="url(#g2)"/>
<polygon points="419.51,728.96 419.51,715.72 420.92,712.74 420.92,725.92" fill="#483995"/>
<polygon points="413.29,715.72 419.51,715.72 420.92,712.74 414.73,712.74" fill="#6252ad"/>
<rect x="413.29" y="715.72" width="6.22" height="13.24" fill="url(#g2)"/>
<polygon points="439.58,728.96 439.58,715.72 440.91,712.74 440.91,725.92" fill="#483995"/>
<polygon points="433.36,715.72 439.58,715.72 440.91,712.74 434.72,712.74" fill="#6252ad"/>
<rect x="433.36" y="715.72" width="6.22" height="13.24" fill="url(#g2)"/>
<polygon points="103.86,757.75 103.86,744.12 106.66,740.91 106.66,754.47" fill="#c8351c"/>
<polygon points="97.40,744.12 103.86,744.12 106.66,740.91 100.23,740.91" fill="#e05136"/>
<rect x="97.40" y="744.12" width="6.46" height="13.62" fill="url(#g1)"/>
<polygon points="114.28,757.75 114.28,743.82 117.04,740.61 117.04,754.47" fill="#c8351c"/>
<polygon points="107.82,743.82 114.28,743.82 117.04,740.61 110.60,740.61" fill="#e05136"/>
<rect x="107.82" y="743.82" width="6.46" height="13.92" fill="url(#g1)"/>
<polygon points="124.70,757.75 124.70,743.82 127.42,740.61 127.42,754.47" fill="#c8351c"/>
<polygon points="118.24,743.82 124.70,743.82 127.42,740.61 120.98,740.61" fill="#e05136"/>
<rect x="118.24" y="743.82" width="6.46" height="13.92" fill="url(#g1)"/>
<polygon points="145.55,757.75 145.55,743.82 148.17,740.61 148.17,754.47" fill="#c8351c"/>
<polygon points="139.09,743.82 145.55,743.82 148.17,740.61 141.74,740.61" fill="#e05136"/>
<rect x="139.09" y="743.82" width="6.46" height="13.92" fill="url(#g1)"/>
<polygon points="155.97,757.75 155.97,732.77 158.55,729.61 158.55,754.47" fill="#c8351c"/>
<polygon points="149.51,732.77 155.97,732.77 158.55,729.61 152.12,729.61" fill="#e05136"/>
<rect x="149.51" y="732.77" width="6.46" height="24.97" fill="url(#g1)"/>
<polygon points="166.39,757.75 166.39,686.98 168.93,684.01 168.93,754.47" fill="#c8351c"/>
<polygon points="159.93,686.98 166.39,686.98 168.93,684.01 162.50,684.01" fill="#e05136"/>
<rect x="159.93" y="686.98" width="6.46" height="70.76" fill="url(#g1)"/>
<polygon points="176.82,757.75 176.82,744.12 179.31,740.91 179.31,754.47" fill="#c8351c"/>
<polygon points="170.35,744.12 176.82,744.12 179.31,740.91 172.87,740.91" fill="#e05136"/>
<rect x="170.35" y="744.12" width="6.46" height="13.62" fill="url(#g1)"/>
<polygon points="187.24,757.75 187.24,744.12 189.69,740.91 189.69,754.47" fill="#c8351c"/>
<polygon points="180.78,744.12 187.24,744.12 189.69,740.91 183.25,740.91" fill="#e05136"/>
<rect x="180.78" y="744.12" width="6.46" height="13.62" fill="url(#g1)"/>
<polygon points="197.66,757.75 197.66,743.62 200.07,740.41 200.07,754.47" fill="#c8351c"/>
<polygon points="191.20,743.62 197.66,743.62 200.07,740.41 193.63,740.41" fill="#e05136"/>
<rect x="191.20" y="743.62" width="6.46" height="14.13" fill="url(#g1)"/>
<polygon points="239.35,757.75 239.35,743.62 241.58,740.41 241.58,754.47" fill="#c8351c"/>
<polygon points="232.89,743.62 239.35,743.62 241.58,740.41 235.14,740.41" fill="#e05136"/>
<rect x="232.89" y="743.62" width="6.46" height="14.13" fill="url(#g1)"/>
<polygon points="249.77,757.75 249.77,743.62 251.96,740.41 251.96,754.47" fill="#c8351c"/>
<polygon points="243.31,743.62 249.77,743.62 251.96,740.41 245.52,740.41" fill="#e05136"/>
<rect x="243.31" y="743.62" width="6.46" height="14.13" fill="url(#g1)"/>
<polygon points="260.19,757.75 260.19,741.41 262.34,738.21 262.34,754.47" fill="#c8351c"/>
<polygon points="253.73,741.41 260.19,741.41 262.34,738.21 255.90,738.21" fill="#e05136"/>
<rect x="253.73" y="741.41" width="6.46" height="16.33" fill="url(#g1)"/>
<polygon points="270.62,757.75 270.62,742.52 272.71,739.31 272.71,754.47" fill="#c8351c"/>
<polygon points="264.16,742.52 270.62,742.52 272.71,739.31 266.28,739.31" fill="#e05136"/>
<rect x="264.16" y="742.52" width="6.46" height="15.23" fill="url(#g1)"/>
<polygon points="281.04,757.75 281.04,743.62 283.09,740.41 283.09,754.47" fill="#c8351c"/>
<polygon points="274.58,743.62 281.04,743.62 283.09,740.41 276.66,740.41" fill="#e05136"/>
<rect x="274.58" y="743.62" width="6.46" height="14.13" fill="url(#g1)"/>
<polygon points="301.88,757.75 301.88,743.62 303.85,740.41 303.85,754.47" fill="#c8351c"/>
<polygon points="295.42,743.62 301.88,743.62 303.85,740.41 297.41,740.41" fill="#e05136"/>
<rect x="295.42" y="743.62" width="6.46" height="14.13" fill="url(#g1)"/>
<polygon points="312.31,757.75 312.31,743.62 314.23,740.41 314.23,754.47" fill="#c8351c"/>
<polygon points="305.85,743.62 312.31,743.62 314.23,740.41 307.79,740.41" fill="#e05136"/>
<rect x="305.85" y="743.62" width="6.46" height="14.13" fill="url(#g1)"/>
<polygon points="322.73,757.75 322.73,679.35 324.61,676.41 324.61,754.47" fill="#c8351c"/>
<polygon points="316.27,679.35 322.73,679.35 324.61,676.41 318.17,676.41" fill="#e05136"/>
<rect x="316.27" y="679.35" width="6.46" height="78.40" fill="url(#g1)"/>
<polygon points="333.15,757.75 333.15,743.62 334.98,740.41 334.98,754.47" fill="#c8351c"/>
<polygon points="326.69,743.62 333.15,743.62 334.98,740.41 328.55,740.41" fill="#e05136"/>
<rect x="326.69" y="743.62" width="6.46" height="14.13" fill="url(#g1)"/>
<polygon points="354.00,757.75 354.00,738.10 355.74,734.91 355.74,754.47" fill="#c8351c"/>
<polygon points="347.53,738.10 354.00,738.10 355.74,734.91 349.31,734.91" fill="#e05136"/>
<rect x="347.53" y="738.10" width="6.46" height="19.65" fill="url(#g1)"/>
<polygon points="364.42,757.75 364.42,743.62 366.12,740.41 366.12,754.47" fill="#c8351c"/>
<polygon points="357.96,743.62 364.42,743.62 366.12,740.41 359.68,740.41" fill="#e05136"/>
<rect x="357.96" y="743.62" width="6.46" height="14.13" fill="url(#g1)"/>
<polygon points="395.69,757.75 395.69,744.12 397.25,740.91 397.25,754.47" fill="#c8351c"/>
<polygon points="389.22,744.12 395.69,744.12 397.25,740.91 390.82,740.91" fill="#e05136"/>
<rect x="389.22" y="744.12" width="6.46" height="13.62" fill="url(#g1)"/>
<polygon points="406.11,757.75 406.11,744.12 407.63,740.91 407.63,754.47" fill="#c8351c"/>
<polygon points="399.65,744.12 406.11,744.12 407.63,740.91 401.20,740.91" fill="#e05136"/>
<rect x="399.65" y="744.12" width="6.46" height="13.62" fill="url(#g1)"/>
<polygon points="426.95,757.75 426.95,744.12 428.39,740.91 428.39,754.47" fill="#c8351c"/>
<polygon points="420.49,744.12 426.95,744.12 428.39,740.91 421.96,740.91" fill="#e05136"/>
<rect x="420.49" y="744.12" width="6.46" height="13.62" fill="url(#g1)"/>
<polygon points="77.26,788.84 77.26,774.35 80.29,770.87 80.29,785.30" fill="#3f6ab8"/>
<polygon points="70.54,774.35 77.26,774.35 80.29,770.87 73.60,770.87" fill="#5982cd"/>
<rect x="70.54" y="774.35" width="6.72" height="14.50" fill="url(#g0)"/>
<polygon points="88.10,788.84 88.10,773.75 91.08,770.27 91.08,785.30" fill="#3f6ab8"/>
<polygon points="81.38,773.75 88.10,773.75 91.08,770.27 84.39,770.27" fill="#5982cd"/>
<rect x="81.38" y="773.75" width="6.72" height="15.10" fill="url(#g0)"/>
<polygon points="98.94,788.84 98.94,773.75 101.87,770.27 101.87,785.30" fill="#3f6ab8"/>
<polygon points="92.22,773.75 98.94,773.75 101.87,770.27 95.18,770.27" fill="#5982cd"/>
<rect x="92.22" y="773.75" width="6.72" height="15.10" fill="url(#g0)"/>
<polygon points="120.62,788.84 120.62,774.35 123.46,770.87 123.46,785.30" fill="#3f6ab8"/>
<polygon points="113.90,774.35 120.62,774.35 123.46,770.87 116.77,770.87" fill="#5982cd"/>
<rect x="113.90" y="774.35" width="6.72" height="14.50" fill="url(#g0)"/>
<polygon points="131.46,788.84 131.46,772.14 134.25,768.67 134.25,785.30" fill="#3f6ab8"/>
<polygon points="124.74,772.14 131.46,772.14 134.25,768.67 127.56,768.67" fill="#5982cd"/>
<rect x="124.74" y="772.14" width="6.72" height="16.71" fill="url(#g0)"/>
<polygon points="142.30,788.84 142.30,719.61 145.05,716.37 145.05,785.30" fill="#3f6ab8"/>
<polygon points="135.58,719.61 142.30,719.61 145.05,716.37 138.35,716.37" fill="#5982cd"/>
<rect x="135.58" y="719.61" width="6.72" height="69.24" fill="url(#g0)"/>
<polygon points="153.14,788.84 153.14,774.35 155.84,770.87 155.84,785.30" fill="#3f6ab8"/>
<polygon points="146.42,774.35 153.14,774.35 155.84,770.87 149.15,770.87" fill="#5982cd"/>
<rect x="146.42" y="774.35" width="6.72" height="14.50" fill="url(#g0)"/>
<polygon points="163.98,788.84 163.98,774.35 166.63,770.87 166.63,785.30" fill="#3f6ab8"/>
<polygon points="157.26,774.35 163.98,774.35 166.63,770.87 159.94,770.87" fill="#5982cd"/>
<rect x="157.26" y="774.35" width="6.72" height="14.50" fill="url(#g0)"/>
<polygon points="174.82,788.84 174.82,774.35 177.42,770.87 177.42,785.30" fill="#3f6ab8"/>
<polygon points="168.10,774.35 174.82,774.35 177.42,770.87 170.73,770.87" fill="#5982cd"/>
<rect x="168.10" y="774.35" width="6.72" height="14.50" fill="url(#g0)"/>
<polygon points="218.18,788.84 218.18,775.45 220.60,771.97 220.60,785.30" fill="#3f6ab8"/>
<polygon points="211.46,775.45 218.18,775.45 220.60,771.97 213.90,771.97" fill="#5982cd"/>
<rect x="211.46" y="775.45" width="6.72" height="13.39" fill="url(#g0)"/>
<polygon points="239.86,788.84 239.86,772.14 242.18,768.67 242.18,785.30" fill="#3f6ab8"/>
<polygon points="233.14,772.14 239.86,772.14 242.18,768.67 235.49,768.67" fill="#5982cd"/>
<rect x="233.14" y="772.14" width="6.72" height="16.71" fill="url(#g0)"/>
<polygon points="250.71,788.84 250.71,772.14 252.97,768.67 252.97,785.30" fill="#3f6ab8"/>
<polygon points="243.98,772.14 250.71,772.14 252.97,768.67 246.28,768.67" fill="#5982cd"/>
<rect x="243.98" y="772.14" width="6.72" height="16.71" fill="url(#g0)"/>
<polygon points="261.55,788.84 261.55,774.35 263.77,770.87 263.77,785.30" fill="#3f6ab8"/>
<polygon points="254.82,774.35 261.55,774.35 263.77,770.87 257.07,770.87" fill="#5982cd"/>
<rect x="254.82" y="774.35" width="6.72" height="14.50" fill="url(#g0)"/>
<polygon points="283.23,788.84 283.23,774.35 285.35,770.87 285.35,785.30" fill="#3f6ab8"/>
<polygon points="276.51,774.35 283.23,774.35 285.35,770.87 278.66,770.87" fill="#5982cd"/>
<rect x="276.51" y="774.35" width="6.72" height="14.50" fill="url(#g0)"/>
<polygon points="304.91,788.84 304.91,712.78 306.94,709.57 306.94,785.30" fill="#3f6ab8"/>
<polygon points="298.19,712.78 304.91,712.78 306.94,709.57 300.25,709.57" fill="#5982cd"/>
<rect x="298.19" y="712.78" width="6.72" height="76.07" fill="url(#g0)"/>
<polygon points="315.75,788.84 315.75,772.84 317.73,769.37 317.73,785.30" fill="#3f6ab8"/>
<polygon points="309.03,772.84 315.75,772.84 317.73,769.37 311.04,769.37" fill="#5982cd"/>
<rect x="309.03" y="772.84" width="6.72" height="16.00" fill="url(#g0)"/>
<polygon points="337.43,788.84 337.43,755.77 339.32,752.37 339.32,785.30" fill="#3f6ab8"/>
<polygon points="330.71,755.77 337.43,755.77 339.32,752.37 332.62,752.37" fill="#5982cd"/>
<rect x="330.71" y="755.77" width="6.72" height="33.08" fill="url(#g0)"/>
<polygon points="348.27,788.84 348.27,774.35 350.11,770.87 350.11,785.30" fill="#3f6ab8"/>
<polygon points="341.55,774.35 348.27,774.35 350.11,770.87 343.42,770.87" fill="#5982cd"/>
<rect x="341.55" y="774.35" width="6.72" height="14.50" fill="url(#g0)"/>
<polygon points="380.79,788.84 380.79,774.35 382.49,770.87 382.49,785.30" fill="#3f6ab8"/>
<polygon points="374.07,774.35 380.79,774.35 382.49,770.87 375.80,770.87" fill="#5982cd"/>
<rect x="374.07" y="774.35" width="6.72" height="14.50" fill="url(#g0)"/>
<polygon points="391.63,788.84 391.63,774.35 393.28,770.87 393.28,785.30" fill="#3f6ab8"/>
<polygon points="384.91,774.35 391.63,774.35 393.28,770.87 386.59,770.87" fill="#5982cd"/>
<rect x="384.91" y="774.35" width="6.72" height="14.50" fill="url(#g0)"/>
<polygon points="413.31,788.84 413.31,774.35 414.87,770.87 414.87,785.30" fill="#3f6ab8"/>
<polygon points="406.59,774.35 413.31,774.35 414.87,770.87 408.17,770.87" fill="#5982cd"/>
<rect x="406.59" y="774.35" width="6.72" height="14.50" fill="url(#g0)"/>
<line x1="62.20" y1="383.30" x2="62.20" y2="207.30" stroke="#303030" stroke-width="1.20"/>
<line x1="62.20" y1="383.30" x2="414.20" y2="383.30" stroke="#303030" stroke-width="1.20"/>
<line x1="414.20" y1="383.30" x2="523.46" y2="129.25" stroke="#303030" stroke-width="1.20"/>
<line x1="58.20" y1="383.30" x2="62.20" y2="383.30" stroke="#303030" stroke-width="1.00"/>
<line x1="58.20" y1="353.97" x2="62.20" y2="353.97" stroke="#303030" stroke-width="1.00"/>
<line x1="58.20" y1="324.63" x2="62.20" y2="324.63" stroke="#303030" stroke-width="1.00"/>
<line x1="58.20" y1="295.30" x2="62.20" y2="295.30" stroke="#303030" stroke-width="1.00"/>
<line x1="58.20" y1="265.97" x2="62.20" y2="265.97" stroke="#303030" stroke-width="1.00"/>
<line x1="58.20" y1="236.63" x2="62.20" y2="236.63" stroke="#303030" stroke-width="1.00"/>
<line x1="58.20" y1="207.30" x2="62.20" y2="207.30" stroke="#303030" stroke-width="1.00"/>
<line x1="62.20" y1="383.30" x2="62.20" y2="386.30" stroke="#303030" stroke-width="1.00"/>
<line x1="69.38" y1="383.30" x2="69.38" y2="386.30" stroke="#303030" stroke-width="1.00"/>
<line x1="76.57" y1="383.30" x2="76.57" y2="386.30" stroke="#303030" stroke-width="1.00"/>
<line x1="83.75" y1="383.30" x2="83.75" y2="386.30" stroke="#303030" stroke-width="1.00"/>
<line x1="90.93" y1="383.30" x2="90.93" y2="386.30" stroke="#303030" stroke-width="1.00"/>
<line x1="98.12" y1="383.30" x2="98.12" y2="386.30" stroke="#303030" stroke-width="1.00"/>
<line x1="105.30" y1="383.30" x2="105.30" y2="386.30" stroke="#303030" stroke-width="1.00"/>
<line x1="112.49" y1="383.30" x2="112.49" y2="386.30" stroke="#303030" stroke-width="1.00"/>
<line x1="119.67" y1="383.30" x2="119.67" y2="386.30" stroke="#303030" stroke-width="1.00"/>
<line x1="126.85" y1="383.30" x2="126.85" y2="386.30" stroke="#303030" stroke-width="1.00"/>
<line x1="134.04" y1="383.30" x2="134.04" y2="386.30" stroke="#303030" stroke-width="1.00"/>
<line x1="141.22" y1="383.30" x2="141.22" y2="386.30" stroke="#303030" stroke-width="1.00"/>
<line x1="148.40" y1="383.30" x2="148.40" y2="386.30" stroke="#303030" stroke-width="1.00"/>
<line x1="155.59" y1="383.30" x2="155.59" y2="386.30" stroke="#303030" stroke-width="1.00"/>
<line x1="162.77" y1="383.30" x2="162.77" y2="386.30" stroke="#303030" stroke-width="1.00"/>
<line x1="169.96" y1="383.30" x2="169.96" y2="386.30" stroke="#303030" stroke-width="1.00"/>
<line x1="177.14" y1="383.30" x2="177.14" y2="386.30" stroke="#303030" stroke-width="1.00"/>
<line x1="184.32" y1="383.30" x2="184.32" y2="386.30" stroke="#303030" stroke-width="1.00"/>
<line x1="191.51" y1="383.30" x2="191.51" y2="386.30" stroke="#303030" stroke-width="1.00"/>
<line x1="198.69" y1="383.30" x2="198.69" y2="386.30" stroke="#303030" stroke-width="1.00"/>
<line x1="205.87" y1="383.30" x2="205.87" y2="386.30" stroke="#303030" stroke-width="1.00"/>
<line x1="213.06" y1="383.30" x2="213.06" y2="386.30" stroke="#303030" stroke-width="1.00"/>
<line x1="220.24" y1="383.30" x2="220.24" y2="386.30" stroke="#303030" stroke-width="1.00"/>
<line x1="227.42" y1="383.30" x2="227.42" y2="386.30" stroke="#303030" stroke-width="1.00"/>
<line x1="234.61" y1="383.30" x2="234.61" y2="386.30" stroke="#303030" stroke-width="1.00"/>
<line x1="241.79" y1="383.30" x2="241.79" y2="386.30" stroke="#303030" stroke-width="1.00"/>
<line x1="248.98" y1="383.30" x2="248.98" y2="386.30" stroke="#303030" stroke-width="1.00"/>
<line x1="256.16" y1="383.30" x2="256.16" y2="386.30" stroke="#303030" stroke-width="1.00"/>
<line x1="263.34" y1="383.30" x2="263.34" y2="386.30" stroke="#303030" stroke-width="1.00"/>
<line x1="270.53" y1="383.30" x2="270.53" y2="386.30" stroke="#303030" stroke-width="1.00"/>
<line x1="277.71" y1="383.30" x2="277.71" y2="386.30" stroke="#303030" stroke-width="1.00"/>
<line x1="284.89" y1="383.30" x2="284.89" y2="386.30" stroke="#303030" stroke-width="1.00"/>
<line x1="292.08" y1="383.30" x2="292.08" y2="386.30" stroke="#303030" stroke-width="1.00"/>
<line x1="299.26" y1="383.30" x2="299.26" y2="386.30" stroke="#303030" stroke-width="1.00"/>
<line x1="306.44" y1="383.30" x2="306.44" y2="386.30" stroke="#303030" stroke-width="1.00"/>
<line x1="313.63" y1="383.30" x2="313.63" y2="386.30" stroke="#303030" stroke-width="1.00"/>
<line x1="320.81" y1="383.30" x2="320.81" y2="386.30" stroke="#303030" stroke-width="1.00"/>
<line x1="328.00" y1="383.30" x2="328.00" y2="386.30" stroke="#303030" stroke-width="1.00"/>
<line x1="335.18" y1="383.30" x2="335.18" y2="386.30" stroke="#303030" stroke-width="1.00"/>
<line x1="342.36" y1="383.30" x2="342.36" y2="386.30" stroke="#303030" stroke-width="1.00"/>
<line x1="349.55" y1="383.30" x2="349.55" y2="386.30" stroke="#303030" stroke-width="1.00"/>
<line x1="356.73" y1="383.30" x2="356.73" y2="386.30" stroke="#303030" stroke-width="1.00"/>
<line x1="363.91" y1="383.30" x2="363.91" y2="386.30" stroke="#303030" stroke-width="1.00"/>
<line x1="371.10" y1="383.30" x2="371.10" y2="386.30" stroke="#303030" stroke-width="1.00"/>
<line x1="378.28" y1="383.30" x2="378.28" y2="386.30" stroke="#303030" stroke-width="1.00"/>
<line x1="385.47" y1="383.30" x2="385.47" y2="386.30" stroke="#303030" stroke-width="1.00"/>
<line x1="392.65" y1="383.30" x2="392.65" y2="386.30" stroke="#303030" stroke-width="1.00"/>
<line x1="399.83" y1="383.30" x2="399.83" y2="386.30" stroke="#303030" stroke-width="1.00"/>
<line x1="407.02" y1="383.30" x2="407.02" y2="386.30" stroke="#303030" stroke-width="1.00"/>
<line x1="414.20" y1="383.30" x2="414.20" y2="386.30" stroke="#303030" stroke-width="1.00"/>
<line x1="421.25" y1="366.91" x2="424.78" y2="366.91" stroke="#303030" stroke-width="1.00"/>
<line x1="434.54" y1="336.01" x2="437.93" y2="336.01" stroke="#303030" stroke-width="1.00"/>
<line x1="446.84" y1="307.40" x2="450.11" y2="307.40" stroke="#303030" stroke-width="1.00"/>
<line x1="458.27" y1="280.83" x2="461.42" y2="280.83" stroke="#303030" stroke-width="1.00"/>
<line x1="468.91" y1="256.09" x2="471.95" y2="256.09" stroke="#303030" stroke-width="1.00"/>
<line x1="478.84" y1="233.00" x2="481.78" y2="233.00" stroke="#303030" stroke-width="1.00"/>
<line x1="488.13" y1="211.40" x2="490.98" y2="211.40" stroke="#303030" stroke-width="1.00"/>
<line x1="496.84" y1="191.15" x2="499.60" y2="191.15" stroke="#303030" stroke-width="1.00"/>
<line x1="505.02" y1="172.13" x2="507.70" y2="172.13" stroke="#303030" stroke-width="1.00"/>
<line x1="512.72" y1="154.22" x2="515.32" y2="154.22" stroke="#303030" stroke-width="1.00"/>
<line x1="519.98" y1="137.34" x2="522.51" y2="137.34" stroke="#303030" stroke-width="1.00"/>
<line x1="61.30" y1="803.50" x2="61.30" y2="626.60" stroke="#303030" stroke-width="1.20"/>
<line x1="61.30" y1="803.50" x2="414.50" y2="803.50" stroke="#303030" stroke-width="1.20"/>
<line x1="414.50" y1="803.50" x2="523.77" y2="548.99" stroke="#303030" stroke-width="1.20"/>
<line x1="57.30" y1="788.76" x2="61.30" y2="788.76" stroke="#303030" stroke-width="1.00"/>
<line x1="57.30" y1="759.27" x2="61.30" y2="759.27" stroke="#303030" stroke-width="1.00"/>
<line x1="57.30" y1="729.79" x2="61.30" y2="729.79" stroke="#303030" stroke-width="1.00"/>
<line x1="57.30" y1="700.31" x2="61.30" y2="700.31" stroke="#303030" stroke-width="1.00"/>
<line x1="57.30" y1="670.83" x2="61.30" y2="670.83" stroke="#303030" stroke-width="1.00"/>
<line x1="57.30" y1="641.34" x2="61.30" y2="641.34" stroke="#303030" stroke-width="1.00"/>
<line x1="58.30" y1="803.50" x2="61.30" y2="803.50" stroke="#303030" stroke-width="1.00"/>
<line x1="58.30" y1="774.02" x2="61.30" y2="774.02" stroke="#303030" stroke-width="1.00"/>
<line x1="58.30" y1="744.53" x2="61.30" y2="744.53" stroke="#303030" stroke-width="1.00"/>
<line x1="58.30" y1="715.05" x2="61.30" y2="715.05" stroke="#303030" stroke-width="1.00"/>
<line x1="58.30" y1="685.57" x2="61.30" y2="685.57" stroke="#303030" stroke-width="1.00"/>
<line x1="58.30" y1="656.08" x2="61.30" y2="656.08" stroke="#303030" stroke-width="1.00"/>
<line x1="58.30" y1="626.60" x2="61.30" y2="626.60" stroke="#303030" stroke-width="1.00"/>
<line x1="61.30" y1="803.50" x2="61.30" y2="806.50" stroke="#303030" stroke-width="1.00"/>
<line x1="72.34" y1="803.50" x2="72.34" y2="806.50" stroke="#303030" stroke-width="1.00"/>
<line x1="83.38" y1="803.50" x2="83.38" y2="806.50" stroke="#303030" stroke-width="1.00"/>
<line x1="94.41" y1="803.50" x2="94.41" y2="806.50" stroke="#303030" stroke-width="1.00"/>
<line x1="105.45" y1="803.50" x2="105.45" y2="806.50" stroke="#303030" stroke-width="1.00"/>
<line x1="116.49" y1="803.50" x2="116.49" y2="806.50" stroke="#303030" stroke-width="1.00"/>
<line x1="127.52" y1="803.50" x2="127.52" y2="806.50" stroke="#303030" stroke-width="1.00"/>
<line x1="138.56" y1="803.50" x2="138.56" y2="806.50" stroke="#303030" stroke-width="1.00"/>
<line x1="149.60" y1="803.50" x2="149.60" y2="806.50" stroke="#303030" stroke-width="1.00"/>
<line x1="160.64" y1="803.50" x2="160.64" y2="806.50" stroke="#303030" stroke-width="1.00"/>
<line x1="171.67" y1="803.50" x2="171.67" y2="806.50" stroke="#303030" stroke-width="1.00"/>
<line x1="182.71" y1="803.50" x2="182.71" y2="806.50" stroke="#303030" stroke-width="1.00"/>
<line x1="193.75" y1="803.50" x2="193.75" y2="806.50" stroke="#303030" stroke-width="1.00"/>
<line x1="204.79" y1="803.50" x2="204.79" y2="806.50" stroke="#303030" stroke-width="1.00"/>
<line x1="215.83" y1="803.50" x2="215.83" y2="806.50" stroke="#303030" stroke-width="1.00"/>
<line x1="226.86" y1="803.50" x2="226.86" y2="806.50" stroke="#303030" stroke-width="1.00"/>
<line x1="237.90" y1="803.50" x2="237.90" y2="806.50" stroke="#303030" stroke-width="1.00"/>
<line x1="248.94" y1="803.50" x2="248.94" y2="806.50" stroke="#303030" stroke-width="1.00"/>
<line x1="259.97" y1="803.50" x2="259.97" y2="806.50" stroke="#303030" stroke-width="1.00"/>
<line x1="271.01" y1="803.50" x2="271.01" y2="806.50" stroke="#303030" stroke-width="1.00"/>
<line x1="282.05" y1="803.50" x2="282.05" y2="806.50" stroke="#303030" stroke-width="1.00"/>
<line x1="293.09" y1="803.50" x2="293.09" y2="806.50" stroke="#303030" stroke-width="1.00"/>
<line x1="304.12" y1="803.50" x2="304.12" y2="806.50" stroke="#303030" stroke-width="1.00"/>
<line x1="315.16" y1="803.50" x2="315.16" y2="806.50" stroke="#303030" stroke-width="1.00"/>
<line x1="326.20" y1="803.50" x2="326.20" y2="806.50" stroke="#303030" stroke-width="1.00"/>
<line x1="337.24" y1="803.50" x2="337.24" y2="806.50" stroke="#303030" stroke-width="1.00"/>
<line x1="348.27" y1="803.50" x2="348.27" y2="806.50" stroke="#303030" stroke-width="1.00"/>
<line x1="359.31" y1="803.50" x2="359.31" y2="806.50" stroke="#303030" stroke-width="1.00"/>
<line x1="370.35" y1="803.50" x2="370.35" y2="806.50" stroke="#303030" stroke-width="1.00"/>
<line x1="381.39" y1="803.50" x2="381.39" y2="806.50" stroke="#303030" stroke-width="1.00"/>
<line x1="392.43" y1="803.50" x2="392.43" y2="806.50" stroke="#303030" stroke-width="1.00"/>
<line x1="403.46" y1="803.50" x2="403.46" y2="806.50" stroke="#303030" stroke-width="1.00"/>
<line x1="414.50" y1="803.50" x2="414.50" y2="806.50" stroke="#303030" stroke-width="1.00"/>
<line x1="421.55" y1="787.07" x2="425.08" y2="787.07" stroke="#303030" stroke-width="1.00"/>
<line x1="434.85" y1="756.11" x2="438.24" y2="756.11" stroke="#303030" stroke-width="1.00"/>
<line x1="447.16" y1="727.44" x2="450.42" y2="727.44" stroke="#303030" stroke-width="1.00"/>
<line x1="458.59" y1="700.82" x2="461.74" y2="700.82" stroke="#303030" stroke-width="1.00"/>
<line x1="469.23" y1="676.03" x2="472.27" y2="676.03" stroke="#303030" stroke-width="1.00"/>
<line x1="479.16" y1="652.90" x2="482.10" y2="652.90" stroke="#303030" stroke-width="1.00"/>
<line x1="488.45" y1="631.27" x2="491.29" y2="631.27" stroke="#303030" stroke-width="1.00"/>
<line x1="497.16" y1="610.98" x2="499.91" y2="610.98" stroke="#303030" stroke-width="1.00"/>
<line x1="505.34" y1="591.93" x2="508.01" y2="591.93" stroke="#303030" stroke-width="1.00"/>
<line x1="513.04" y1="573.99" x2="515.63" y2="573.99" stroke="#303030" stroke-width="1.00"/>
<line x1="520.30" y1="557.09" x2="522.82" y2="557.09" stroke="#303030" stroke-width="1.00"/>
<text x="54.7" y="387.9" font-size="10.8" text-anchor="end">0</text>
<text x="55.9" y="358.6" font-size="10.8" text-anchor="end">2.0×10<tspan dy="-4.8" font-size="6">4</tspan></text>
<text x="55.9" y="329.2" font-size="10.8" text-anchor="end">4.0×10<tspan dy="-4.8" font-size="6">4</tspan></text>
<text x="55.9" y="299.9" font-size="10.8" text-anchor="end">6.0×10<tspan dy="-4.8" font-size="6">4</tspan></text>
<text x="55.9" y="270.6" font-size="10.8" text-anchor="end">8.0×10<tspan dy="-4.8" font-size="6">4</tspan></text>
<text x="55.9" y="241.2" font-size="10.8" text-anchor="end">1.0×10<tspan dy="-4.8" font-size="6">5</tspan></text>
<text x="55.9" y="211.9" font-size="10.8" text-anchor="end">1.2×10<tspan dy="-4.8" font-size="6">5</tspan></text>
<text transform="translate(60.0,389.1) rotate(90)" font-size="6.1" stroke="#000" stroke-width="0.1" x="0" y="0">C8:0</text>
<text transform="translate(67.2,389.1) rotate(90)" font-size="6.1" stroke="#000" stroke-width="0.1" x="0" y="0">C10:0</text>
<text transform="translate(74.4,389.1) rotate(90)" font-size="6.1" stroke="#000" stroke-width="0.1" x="0" y="0">C11:0</text>
<text transform="translate(81.6,389.1) rotate(90)" font-size="6.1" stroke="#000" stroke-width="0.1" x="0" y="0">C12:0</text>
<text transform="translate(88.7,389.1) rotate(90)" font-size="6.1" stroke="#000" stroke-width="0.1" x="0" y="0">C13:0</text>
<text transform="translate(95.9,389.1) rotate(90)" font-size="6.1" stroke="#000" stroke-width="0.1" x="0" y="0">C14:0</text>
<text transform="translate(103.1,389.1) rotate(90)" font-size="6.1" stroke="#000" stroke-width="0.1" x="0" y="0">C14:1</text>
<text transform="translate(110.3,389.1) rotate(90)" font-size="6.1" stroke="#000" stroke-width="0.1" x="0" y="0">C14:1T</text>
<text transform="translate(117.5,389.1) rotate(90)" font-size="6.1" stroke="#000" stroke-width="0.1" x="0" y="0">C15:0</text>
<text transform="translate(124.7,389.1) rotate(90)" font-size="6.1" stroke="#000" stroke-width="0.1" x="0" y="0">C15:1</text>
<text transform="translate(131.8,389.1) rotate(90)" font-size="6.1" stroke="#000" stroke-width="0.1" x="0" y="0">C15:1T</text>
<text transform="translate(139.0,389.1) rotate(90)" font-size="6.1" stroke="#000" stroke-width="0.1" x="0" y="0">C16:0</text>
<text transform="translate(146.2,389.1) rotate(90)" font-size="6.1" stroke="#000" stroke-width="0.1" x="0" y="0">C16:1</text>
<text transform="translate(153.4,389.1) rotate(90)" font-size="6.1" stroke="#000" stroke-width="0.1" x="0" y="0">C16:1T</text>
<text transform="translate(160.6,389.1) rotate(90)" font-size="6.1" stroke="#000" stroke-width="0.1" x="0" y="0">C17:0</text>
<text transform="translate(167.8,389.1) rotate(90)" font-size="6.1" stroke="#000" stroke-width="0.1" x="0" y="0">C17:1</text>
<text transform="translate(174.9,389.1) rotate(90)" font-size="6.1" stroke="#000" stroke-width="0.1" x="0" y="0">C17:1T</text>
<text transform="translate(182.1,389.1) rotate(90)" font-size="6.1" stroke="#000" stroke-width="0.1" x="0" y="0">C18:0</text>
<text transform="translate(189.3,389.1) rotate(90)" font-size="6.1" stroke="#000" stroke-width="0.1" x="0" y="0">C18:1(n-12)</text>
<text transform="translate(196.5,389.1) rotate(90)" font-size="6.1" stroke="#000" stroke-width="0.1" x="0" y="0">C18:1(n-9)</text>
<text transform="translate(203.7,389.1) rotate(90)" font-size="6.1" stroke="#000" stroke-width="0.1" x="0" y="0">C18:1(n-7)</text>
<text transform="translate(210.9,389.1) rotate(90)" font-size="6.1" stroke="#000" stroke-width="0.1" x="0" y="0">C18:1(n-12)T</text>
<text transform="translate(218.0,389.1) rotate(90)" font-size="6.1" stroke="#000" stroke-width="0.1" x="0" y="0">C18:1(n-9)T</text>
<text transform="translate(225.2,389.1) rotate(90)" font-size="6.1" stroke="#000" stroke-width="0.1" x="0" y="0">C18:1(n-7)T</text>
<text transform="translate(232.4,389.1) rotate(90)" font-size="6.1" stroke="#000" stroke-width="0.1" x="0" y="0">C18:2(n-6)</text>
<text transform="translate(239.6,389.1) rotate(90)" font-size="6.1" stroke="#000" stroke-width="0.1" x="0" y="0">C18:2(n-6)T</text>
<text transform="translate(246.8,389.1) rotate(90)" font-size="6.1" stroke="#000" stroke-width="0.1" x="0" y="0">C19:1(n-12)T</text>
<text transform="translate(254.0,389.1) rotate(90)" font-size="6.1" stroke="#000" stroke-width="0.1" x="0" y="0">C19:1(n-9)T</text>
<text transform="translate(261.1,389.1) rotate(90)" font-size="6.1" stroke="#000" stroke-width="0.1" x="0" y="0">C20:0</text>
<text transform="translate(268.3,389.1) rotate(90)" font-size="6.1" stroke="#000" stroke-width="0.1" x="0" y="0">C18:3(n-6)</text>
<text transform="translate(275.5,389.1) rotate(90)" font-size="6.1" stroke="#000" stroke-width="0.1" x="0" y="0">C20:1</text>
<text transform="translate(282.7,389.1) rotate(90)" font-size="6.1" stroke="#000" stroke-width="0.1" x="0" y="0">C20:1T</text>
<text transform="translate(289.9,389.1) rotate(90)" font-size="6.1" stroke="#000" stroke-width="0.1" x="0" y="0">C18:3(n-3)</text>
<text transform="translate(297.1,389.1) rotate(90)" font-size="6.1" stroke="#000" stroke-width="0.1" x="0" y="0">C21:0</text>
<text transform="translate(304.2,389.1) rotate(90)" font-size="6.1" stroke="#000" stroke-width="0.1" x="0" y="0">C20:2</text>
<text transform="translate(311.4,389.1) rotate(90)" font-size="6.1" stroke="#000" stroke-width="0.1" x="0" y="0">C22:0</text>
<text transform="translate(318.6,389.1) rotate(90)" font-size="6.1" stroke="#000" stroke-width="0.1" x="0" y="0">C20:3(n-6)</text>
<text transform="translate(325.8,389.1) rotate(90)" font-size="6.1" stroke="#000" stroke-width="0.1" x="0" y="0">C22:1</text>
<text transform="translate(333.0,389.1) rotate(90)" font-size="6.1" stroke="#000" stroke-width="0.1" x="0" y="0">C22:1T</text>
<text transform="translate(340.2,389.1) rotate(90)" font-size="6.1" stroke="#000" stroke-width="0.1" x="0" y="0">C20:3(n-3)</text>
<text transform="translate(347.3,389.1) rotate(90)" font-size="6.1" stroke="#000" stroke-width="0.1" x="0" y="0">C20:4</text>
<text transform="translate(354.5,389.1) rotate(90)" font-size="6.1" stroke="#000" stroke-width="0.1" x="0" y="0">C23:0</text>
<text transform="translate(361.7,389.1) rotate(90)" font-size="6.1" stroke="#000" stroke-width="0.1" x="0" y="0">C22:2</text>
<text transform="translate(368.9,389.1) rotate(90)" font-size="6.1" stroke="#000" stroke-width="0.1" x="0" y="0">C24:0</text>
<text transform="translate(376.1,389.1) rotate(90)" font-size="6.1" stroke="#000" stroke-width="0.1" x="0" y="0">C20:5</text>
<text transform="translate(383.3,389.1) rotate(90)" font-size="6.1" stroke="#000" stroke-width="0.1" x="0" y="0">C24:1</text>
<text transform="translate(390.4,389.1) rotate(90)" font-size="6.1" stroke="#000" stroke-width="0.1" x="0" y="0">C22:5(n-3)</text>
<text transform="translate(397.6,389.1) rotate(90)" font-size="6.1" stroke="#000" stroke-width="0.1" x="0" y="0">C22:5(n-6)</text>
<text transform="translate(404.8,389.1) rotate(90)" font-size="6.1" stroke="#000" stroke-width="0.1" x="0" y="0">C22:4</text>
<text transform="translate(412.0,389.1) rotate(90)" font-size="6.1" stroke="#000" stroke-width="0.1" x="0" y="0">C22:6</text>
<text x="427.7" y="371.2" font-size="9.90">IL</text>
<text x="440.8" y="340.2" font-size="9.52">IS</text>
<text x="452.8" y="311.4" font-size="9.17">CKL</text>
<text x="464.0" y="284.7" font-size="8.84">CKS</text>
<text x="474.5" y="259.8" font-size="8.53">PNR</text>
<text x="484.2" y="236.6" font-size="8.25">PN</text>
<text x="493.3" y="214.9" font-size="7.98">WNR</text>
<text x="501.9" y="194.5" font-size="7.73">WN</text>
<text x="509.9" y="175.4" font-size="7.50">NNR</text>
<text x="517.5" y="157.4" font-size="7.28">CKR</text>
<text x="524.6" y="140.4" font-size="7.07">LL11</text>
<text transform="translate(16.6,288) rotate(-90)" font-size="13" text-anchor="middle" stroke="#000" stroke-width="0.15">Fatty acid metabolite content</text>
<text x="15" y="25.6" font-size="19.8" stroke="#000" stroke-width="0.2">(a)</text>
<text x="57.5" y="793.8" font-size="12" text-anchor="end">0</text>
<text x="57.5" y="764.3" font-size="12" text-anchor="end">1×10<tspan dy="-4.8" font-size="7">6</tspan></text>
<text x="57.5" y="734.8" font-size="12" text-anchor="end">2×10<tspan dy="-4.8" font-size="7">6</tspan></text>
<text x="57.5" y="705.3" font-size="12" text-anchor="end">3×10<tspan dy="-4.8" font-size="7">6</tspan></text>
<text x="57.5" y="675.8" font-size="12" text-anchor="end">4×10<tspan dy="-4.8" font-size="7">6</tspan></text>
<text x="57.5" y="646.3" font-size="12" text-anchor="end">5×10<tspan dy="-4.8" font-size="7">6</tspan></text>
<text transform="translate(65.3,811.5) rotate(-45)" font-size="8.2" text-anchor="end" x="0" y="0">6-Phosphogluconic acid</text>
<text transform="translate(76.3,811.5) rotate(-45)" font-size="8.2" text-anchor="end" x="0" y="0">D-Glucose 1-phosphate</text>
<text transform="translate(87.4,811.5) rotate(-45)" font-size="8.2" text-anchor="end" x="0" y="0">GMP</text>
<text transform="translate(98.4,811.5) rotate(-45)" font-size="8.2" text-anchor="end" x="0" y="0">GTP</text>
<text transform="translate(109.5,811.5) rotate(-45)" font-size="8.2" text-anchor="end" x="0" y="0">Isocitrate</text>
<text transform="translate(120.5,811.5) rotate(-45)" font-size="8.2" text-anchor="end" x="0" y="0">Lactic acid</text>
<text transform="translate(131.5,811.5) rotate(-45)" font-size="8.2" text-anchor="end" x="0" y="0">Malate</text>
<text transform="translate(142.6,811.5) rotate(-45)" font-size="8.2" text-anchor="end" x="0" y="0">Phosphoenolpyruvic acid</text>
<text transform="translate(153.6,811.5) rotate(-45)" font-size="8.2" text-anchor="end" x="0" y="0">AMP</text>
<text transform="translate(164.6,811.5) rotate(-45)" font-size="8.2" text-anchor="end" x="0" y="0">Ribose 5-phosphate</text>
<text transform="translate(175.7,811.5) rotate(-45)" font-size="8.2" text-anchor="end" x="0" y="0">Adenosine 5-diphosphate</text>
<text transform="translate(186.7,811.5) rotate(-45)" font-size="8.2" text-anchor="end" x="0" y="0">D-Erythrose 4-phosphate</text>
<text transform="translate(197.8,811.5) rotate(-45)" font-size="8.2" text-anchor="end" x="0" y="0">dGDP</text>
<text transform="translate(208.8,811.5) rotate(-45)" font-size="8.2" text-anchor="end" x="0" y="0">ATP</text>
<text transform="translate(219.8,811.5) rotate(-45)" font-size="8.2" text-anchor="end" x="0" y="0">D-Xylulose 5-phosphate</text>
<text transform="translate(230.9,811.5) rotate(-45)" font-size="8.2" text-anchor="end" x="0" y="0">Pyruvic Acid</text>
<text transform="translate(241.9,811.5) rotate(-45)" font-size="8.2" text-anchor="end" x="0" y="0">Succinic Acid</text>
<text transform="translate(252.9,811.5) rotate(-45)" font-size="8.2" text-anchor="end" x="0" y="0">Sedoheptulose 7-phosphate</text>
<text transform="translate(264.0,811.5) rotate(-45)" font-size="8.2" text-anchor="end" x="0" y="0">D-Fructose 1,6-bisphosphate</text>
<text transform="translate(275.0,811.5) rotate(-45)" font-size="8.2" text-anchor="end" x="0" y="0">Glucose 6-phosphate</text>
<text transform="translate(286.1,811.5) rotate(-45)" font-size="8.2" text-anchor="end" x="0" y="0">cis-Aconitic acid</text>
<text transform="translate(297.1,811.5) rotate(-45)" font-size="8.2" text-anchor="end" x="0" y="0">D-Glucose</text>
<text transform="translate(308.1,811.5) rotate(-45)" font-size="8.2" text-anchor="end" x="0" y="0">dTMP</text>
<text transform="translate(319.2,811.5) rotate(-45)" font-size="8.2" text-anchor="end" x="0" y="0">Fumaric Acid</text>
<text transform="translate(330.2,811.5) rotate(-45)" font-size="8.2" text-anchor="end" x="0" y="0">Glucuronic acid</text>
<text transform="translate(341.2,811.5) rotate(-45)" font-size="8.2" text-anchor="end" x="0" y="0">GDP</text>
<text transform="translate(352.3,811.5) rotate(-45)" font-size="8.2" text-anchor="end" x="0" y="0">Thiamine diphosphate</text>
<text transform="translate(363.3,811.5) rotate(-45)" font-size="8.2" text-anchor="end" x="0" y="0">Dihydroxyacetone phosphate</text>
<text transform="translate(374.4,811.5) rotate(-45)" font-size="8.2" text-anchor="end" x="0" y="0">3-Phospho-D-glycerate</text>
<text transform="translate(385.4,811.5) rotate(-45)" font-size="8.2" text-anchor="end" x="0" y="0">Cyclic AMP</text>
<text transform="translate(396.4,811.5) rotate(-45)" font-size="8.2" text-anchor="end" x="0" y="0">2-Phospho-D-glycerate</text>
<text transform="translate(407.5,811.5) rotate(-45)" font-size="8.2" text-anchor="end" x="0" y="0">NAD+</text>
<text transform="translate(418.5,811.5) rotate(-45)" font-size="8.2" text-anchor="end" x="0" y="0">Acetyl-CoA</text>
<text x="428.3" y="791.6" font-size="10.68">IL</text>
<text x="441.4" y="760.4" font-size="10.27">IS</text>
<text x="453.4" y="731.6" font-size="9.89">CKL</text>
<text x="464.6" y="704.8" font-size="9.54">CKS</text>
<text x="475.1" y="679.9" font-size="9.21">PNR</text>
<text x="484.8" y="656.7" font-size="8.90">PN</text>
<text x="493.9" y="634.9" font-size="8.61">WNR</text>
<text x="502.4" y="614.5" font-size="8.34">WN</text>
<text x="510.5" y="595.3" font-size="8.09">NNR</text>
<text x="518.0" y="577.3" font-size="7.85">CKR</text>
<text x="525.1" y="560.3" font-size="7.63">LL11</text>
<text transform="translate(24,712.2) rotate(-90)" font-size="13.7" text-anchor="middle" stroke="#000" stroke-width="0.15">Central carbon metabolite content</text>
<text x="15.6" y="455" font-size="20.2" stroke="#000" stroke-width="0.2">(b)</text>
</svg></body></html>
